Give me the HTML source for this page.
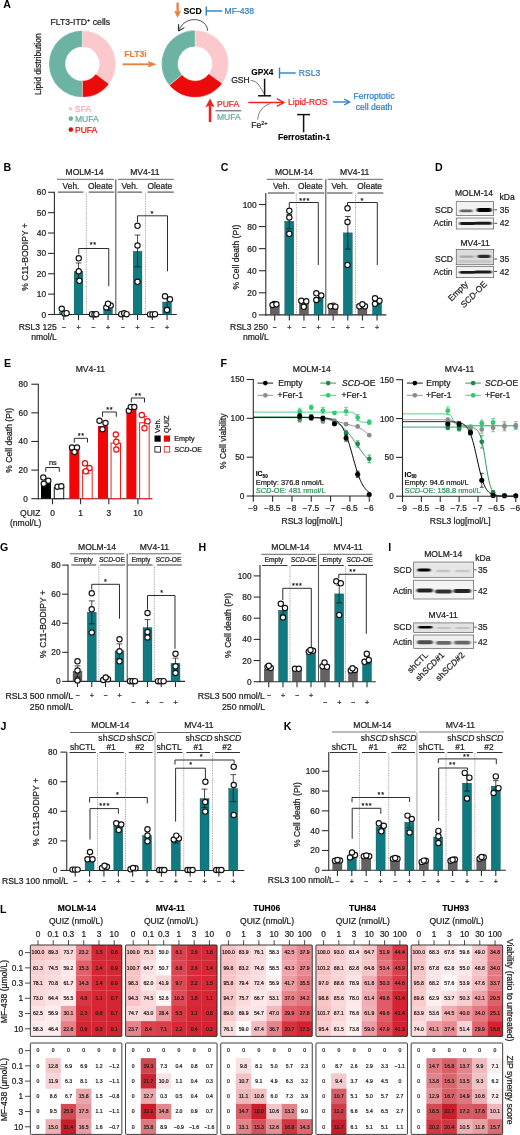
<!DOCTYPE html>
<html lang="en"><head><meta charset="utf-8"><title>Figure</title>
<style>html,body{margin:0;padding:0;background:#fff}body{width:520px;height:1135px;overflow:hidden}svg{display:block}text{white-space:pre}</style></head>
<body>
<svg width="520" height="1135" viewBox="0 0 520 1135" font-family='"Liberation Sans", sans-serif' fill="#1c1c1c">
<defs><filter id="b1" x="-10%" y="-50%" width="120%" height="200%"><feGaussianBlur stdDeviation="0.8 0.55"/></filter><filter id="b2" x="-10%" y="-50%" width="120%" height="200%"><feGaussianBlur stdDeviation="0.9 0.7"/></filter></defs>
<rect width="520" height="1135" fill="#fff"/>
<text transform="translate(3.3 7.7) scale(0.9 1)" font-size="11.8" font-weight="bold" fill="#000">A</text>
<text x="80.3" y="24.6" font-size="8.7" text-anchor="middle" stroke="#1c1c1c" stroke-width="0.22">FLT3-ITD<tspan font-size="5.6" dy="-3">+</tspan><tspan dy="3"> cells</tspan></text>
<text x="40.6" y="64.2" font-size="8.55" text-anchor="middle" transform="rotate(-90 40.6 64.2)" stroke="#1c1c1c" stroke-width="0.22">Lipid distribution</text>
<path d="M82.3 30.5A33.4 33.4 0 0 1 108.97 84L95.8 74.07A16.9 16.9 0 0 0 82.3 47Z" fill="#fbc9cb" stroke="#fff" stroke-width="0.35"/>
<path d="M108.97 84A33.4 33.4 0 0 1 82.3 97.3L82.3 80.8A16.9 16.9 0 0 0 95.8 74.07Z" fill="#ec0b0b" stroke="#fff" stroke-width="0.35"/>
<path d="M82.3 97.3A33.4 33.4 0 0 1 82.3 30.5L82.3 47A16.9 16.9 0 0 0 82.3 80.8Z" fill="#6db3a4" stroke="#fff" stroke-width="0.35"/>
<circle cx="70.5" cy="108.8" r="1.9" fill="#fbc9cb"/>
<circle cx="70.8" cy="118.6" r="2.3" fill="#6db3a4"/>
<circle cx="70.8" cy="129.6" r="2.3" fill="#ec0b0b"/>
<text x="75" y="111.6" font-size="8.55" fill="#f6a9ad" stroke="#f6a9ad" stroke-width="0.22">SFA</text>
<text x="75" y="121.7" font-size="8.55" fill="#5fae9e" stroke="#5fae9e" stroke-width="0.22">MUFA</text>
<text x="75" y="132.5" font-size="8.55" fill="#ec0b0b" stroke="#ec0b0b" stroke-width="0.22">PUFA</text>
<text x="124.2" y="57.4" font-size="8.7" font-weight="bold" fill="#e8823a" stroke="#e8823a" stroke-width="0.13">FLT3i</text>
<line x1="122.5" y1="64.3" x2="149.9" y2="64.3" stroke="#e8823a" stroke-width="1.9"/>
<path d="M156.6 64.3L147.6 67.6L149.4 64.3L147.6 61Z" fill="#e8823a"/>
<path d="M195 30.3A33.5 33.5 0 0 1 222.1 83.49L208.75 73.79A17 17 0 0 0 195 46.8Z" fill="#fbc9cb" stroke="#fff" stroke-width="0.35"/>
<path d="M222.1 83.49A33.5 33.5 0 0 1 169.34 85.33L181.98 74.73A17 17 0 0 0 208.75 73.79Z" fill="#ec0b0b" stroke="#fff" stroke-width="0.35"/>
<path d="M169.34 85.33A33.5 33.5 0 0 1 195 30.3L195 46.8A17 17 0 0 0 181.98 74.73Z" fill="#6db3a4" stroke="#fff" stroke-width="0.35"/>
<line x1="177.6" y1="2.5" x2="177.6" y2="12.5" stroke="#e8823a" stroke-width="2.3"/>
<path d="M177.6 18L174 10.5L177.6 12L181.2 10.5Z" fill="#e8823a"/>
<text x="183.6" y="14.4" font-size="8.6" font-weight="bold" fill="#000" stroke="#000" stroke-width="0.13">SCD</text>
<line x1="222.3" y1="11" x2="206.3" y2="11" stroke="#2f7fc3" stroke-width="1.4"/>
<line x1="206.3" y1="15.5" x2="206.3" y2="6.5" stroke="#2f7fc3" stroke-width="1.4"/>
<text x="224.6" y="14" font-size="8.55" fill="#2f7fc3" stroke="#2f7fc3" stroke-width="0.22">MF-438</text>
<path d="M207.7 30.8C207 17.5 185.5 14.8 179.3 29.6" fill="none" stroke="#222" stroke-width="0.8"/>
<path d="M178.6 24.2L178.7 31.0L184.4 27.6" fill="none" stroke="#111" stroke-width="1"/>
<line x1="210" y1="122" x2="210" y2="105" stroke="#ee2222" stroke-width="2.5"/>
<path d="M210 98.5L214.6 107.25L210 105.5L205.4 107.25Z" fill="#ee2222"/>
<text x="217" y="107.2" font-size="8.55" fill="#ee2222" stroke="#ee2222" stroke-width="0.22">PUFA</text>
<line x1="215.5" y1="110.8" x2="241.3" y2="110.8" stroke="#222" stroke-width="0.8"/>
<text x="217" y="120.1" font-size="8.55" fill="#5fae9e" stroke="#5fae9e" stroke-width="0.22">MUFA</text>
<line x1="248.3" y1="102.5" x2="283.8" y2="102.5" stroke="#ee2222" stroke-width="1.35"/>
<path d="M276.8 106.35L283.8 102.5L276.8 98.65" fill="none" stroke="#ee2222" stroke-width="1.35" stroke-linejoin="miter"/>
<text x="288" y="105.2" font-size="8.55" fill="#ee2222" stroke="#ee2222" stroke-width="0.22">Lipid-ROS</text>
<text x="251.2" y="74.6" font-size="8.3" font-weight="bold" fill="#000" stroke="#000" stroke-width="0.13">GPX4</text>
<line x1="264.6" y1="78.8" x2="264.6" y2="95.8" stroke="#111" stroke-width="1.5"/>
<line x1="271.1" y1="95.8" x2="258.1" y2="95.8" stroke="#111" stroke-width="1.5"/>
<text x="231.2" y="83.4" font-size="8.55" stroke="#1c1c1c" stroke-width="0.22">GSH</text>
<path d="M250.6 80.6C258 80.2 260.5 88.5 264.4 93.8" fill="none" stroke="#333" stroke-width="0.65"/>
<text x="251.2" y="127.6" font-size="8.55" stroke="#1c1c1c" stroke-width="0.22">Fe<tspan font-size="5.6" dy="-3">2+</tspan></text>
<path d="M257.6 119.6C258.5 111 263.5 105.5 270.4 103.6" fill="none" stroke="#333" stroke-width="0.65"/>
<line x1="295.7" y1="73" x2="279.5" y2="73" stroke="#2f7fc3" stroke-width="1.4"/>
<line x1="279.5" y1="78.4" x2="279.5" y2="67.6" stroke="#2f7fc3" stroke-width="1.4"/>
<text x="298.8" y="75.8" font-size="8.55" fill="#2f7fc3" stroke="#2f7fc3" stroke-width="0.22">RSL3</text>
<line x1="303.6" y1="132.3" x2="303.6" y2="114.6" stroke="#111" stroke-width="1.5"/>
<line x1="297.1" y1="114.6" x2="310.1" y2="114.6" stroke="#111" stroke-width="1.5"/>
<text x="278" y="140" font-size="8.55" font-weight="bold" fill="#000" stroke="#000" stroke-width="0.13">Ferrostatin-1</text>
<line x1="333" y1="102" x2="349.6" y2="102" stroke="#2f7fc3" stroke-width="1.35"/>
<path d="M344.2 104.97L349.6 102L344.2 99.03" fill="none" stroke="#2f7fc3" stroke-width="1.35" stroke-linejoin="miter"/>
<text x="374" y="98.8" font-size="8.55" text-anchor="middle" fill="#2f7fc3" stroke="#2f7fc3" stroke-width="0.22">Ferroptotic</text>
<text x="374" y="110" font-size="8.55" text-anchor="middle" fill="#2f7fc3" stroke="#2f7fc3" stroke-width="0.22">cell death</text>
<text transform="translate(3.5 171.2) scale(0.9 1)" font-size="11.8" font-weight="bold" fill="#000">B</text>
<text x="84.6" y="175.1" font-size="8.55" text-anchor="middle" stroke="#1c1c1c" stroke-width="0.22">MOLM-14</text>
<line x1="57" y1="179.3" x2="113.8" y2="179.3" stroke="#333" stroke-width="0.75"/>
<text x="71" y="188.8" font-size="8.4" text-anchor="middle" stroke="#1c1c1c" stroke-width="0.22">Veh.</text>
<line x1="58" y1="192.1" x2="83.3" y2="192.1" stroke="#222" stroke-width="0.9"/>
<text x="100.3" y="188.8" font-size="8.4" text-anchor="middle" stroke="#1c1c1c" stroke-width="0.22">Oleate</text>
<line x1="88.8" y1="192.1" x2="114.3" y2="192.1" stroke="#222" stroke-width="0.9"/>
<text x="144.8" y="175.1" font-size="8.55" text-anchor="middle" stroke="#1c1c1c" stroke-width="0.22">MV4-11</text>
<line x1="118" y1="179.3" x2="173.8" y2="179.3" stroke="#333" stroke-width="0.75"/>
<text x="129.8" y="188.8" font-size="8.4" text-anchor="middle" stroke="#1c1c1c" stroke-width="0.22">Veh.</text>
<line x1="117.4" y1="192.1" x2="142" y2="192.1" stroke="#222" stroke-width="0.9"/>
<text x="159.8" y="188.8" font-size="8.4" text-anchor="middle" stroke="#1c1c1c" stroke-width="0.22">Oleate</text>
<line x1="147.5" y1="192.1" x2="173.8" y2="192.1" stroke="#222" stroke-width="0.9"/>
<line x1="86.3" y1="192.6" x2="86.3" y2="314.2" stroke="#7d7d7d" stroke-width="0.75" stroke-dasharray="0.85 0.85"/>
<line x1="145.5" y1="192.6" x2="145.5" y2="314.2" stroke="#7d7d7d" stroke-width="0.75" stroke-dasharray="0.85 0.85"/>
<line x1="115.8" y1="179.3" x2="115.8" y2="314.5" stroke="#555" stroke-width="1.1"/>
<line x1="54.4" y1="191.8" x2="54.4" y2="315" stroke="#2a2a2a" stroke-width="1.08"/>
<line x1="48.1" y1="314.5" x2="54.4" y2="314.5" stroke="#2a2a2a" stroke-width="1.08"/>
<text x="46.2" y="317.51" font-size="8.4" text-anchor="end" stroke="#1c1c1c" stroke-width="0.22">0</text>
<line x1="48.1" y1="294.13" x2="54.4" y2="294.13" stroke="#2a2a2a" stroke-width="1.08"/>
<text x="46.2" y="297.14" font-size="8.4" text-anchor="end" stroke="#1c1c1c" stroke-width="0.22">10</text>
<line x1="48.1" y1="273.76" x2="54.4" y2="273.76" stroke="#2a2a2a" stroke-width="1.08"/>
<text x="46.2" y="276.77" font-size="8.4" text-anchor="end" stroke="#1c1c1c" stroke-width="0.22">20</text>
<line x1="48.1" y1="253.39" x2="54.4" y2="253.39" stroke="#2a2a2a" stroke-width="1.08"/>
<text x="46.2" y="256.4" font-size="8.4" text-anchor="end" stroke="#1c1c1c" stroke-width="0.22">30</text>
<line x1="48.1" y1="233.02" x2="54.4" y2="233.02" stroke="#2a2a2a" stroke-width="1.08"/>
<text x="46.2" y="236.03" font-size="8.4" text-anchor="end" stroke="#1c1c1c" stroke-width="0.22">40</text>
<line x1="48.1" y1="212.65" x2="54.4" y2="212.65" stroke="#2a2a2a" stroke-width="1.08"/>
<text x="46.2" y="215.66" font-size="8.4" text-anchor="end" stroke="#1c1c1c" stroke-width="0.22">50</text>
<line x1="48.1" y1="192.28" x2="54.4" y2="192.28" stroke="#2a2a2a" stroke-width="1.08"/>
<text x="46.2" y="195.29" font-size="8.4" text-anchor="end" stroke="#1c1c1c" stroke-width="0.22">60</text>
<text x="28.3" y="257" font-size="8.6" text-anchor="middle" transform="rotate(-90 28.3 257)" stroke="#1c1c1c" stroke-width="0.22">% C11-BODIPY +</text>
<line x1="53.9" y1="314.5" x2="176.8" y2="314.5" stroke="#2a2a2a" stroke-width="1.08"/>
<line x1="63.75" y1="314.5" x2="63.75" y2="320.1" stroke="#2a2a2a" stroke-width="1.08"/>
<line x1="78.51" y1="314.5" x2="78.51" y2="320.1" stroke="#2a2a2a" stroke-width="1.08"/>
<line x1="93.27" y1="314.5" x2="93.27" y2="320.1" stroke="#2a2a2a" stroke-width="1.08"/>
<line x1="108.03" y1="314.5" x2="108.03" y2="320.1" stroke="#2a2a2a" stroke-width="1.08"/>
<line x1="122.79" y1="314.5" x2="122.79" y2="320.1" stroke="#2a2a2a" stroke-width="1.08"/>
<line x1="137.55" y1="314.5" x2="137.55" y2="320.1" stroke="#2a2a2a" stroke-width="1.08"/>
<line x1="152.31" y1="314.5" x2="152.31" y2="320.1" stroke="#2a2a2a" stroke-width="1.08"/>
<line x1="167.07" y1="314.5" x2="167.07" y2="320.1" stroke="#2a2a2a" stroke-width="1.08"/>
<rect x="59.35" y="312.46" width="8.8" height="2.04" fill="#0f7b80" stroke="#0a3f42" stroke-width="0.35"/>
<rect x="74.11" y="271.32" width="8.8" height="43.18" fill="#0f7b80" stroke="#0a3f42" stroke-width="0.35"/>
<line x1="78.51" y1="278.85" x2="78.51" y2="262.96" stroke="#111" stroke-width="0.75"/>
<line x1="75.61" y1="262.96" x2="81.41" y2="262.96" stroke="#111" stroke-width="0.75"/>
<line x1="75.61" y1="278.85" x2="81.41" y2="278.85" stroke="#111" stroke-width="0.75"/>
<rect x="88.87" y="314.19" width="8.8" height="0.31" fill="#0f7b80" stroke="#0a3f42" stroke-width="0.35"/>
<rect x="103.63" y="308.59" width="8.8" height="5.91" fill="#0f7b80" stroke="#0a3f42" stroke-width="0.35"/>
<line x1="108.03" y1="310.43" x2="108.03" y2="306.35" stroke="#111" stroke-width="0.75"/>
<line x1="105.13" y1="306.35" x2="110.93" y2="306.35" stroke="#111" stroke-width="0.75"/>
<line x1="105.13" y1="310.43" x2="110.93" y2="310.43" stroke="#111" stroke-width="0.75"/>
<rect x="118.39" y="313.99" width="8.8" height="0.51" fill="#0f7b80" stroke="#0a3f42" stroke-width="0.35"/>
<rect x="133.15" y="251.35" width="8.8" height="63.15" fill="#0f7b80" stroke="#0a3f42" stroke-width="0.35"/>
<line x1="137.55" y1="266.83" x2="137.55" y2="235.06" stroke="#111" stroke-width="0.75"/>
<line x1="134.65" y1="235.06" x2="140.45" y2="235.06" stroke="#111" stroke-width="0.75"/>
<line x1="134.65" y1="266.83" x2="140.45" y2="266.83" stroke="#111" stroke-width="0.75"/>
<rect x="162.67" y="302.07" width="8.8" height="12.43" fill="#0f7b80" stroke="#0a3f42" stroke-width="0.35"/>
<line x1="167.07" y1="307.57" x2="167.07" y2="298" stroke="#111" stroke-width="0.75"/>
<line x1="164.17" y1="298" x2="169.97" y2="298" stroke="#111" stroke-width="0.75"/>
<line x1="164.17" y1="307.57" x2="169.97" y2="307.57" stroke="#111" stroke-width="0.75"/>
<circle cx="61.75" cy="308.75" r="2.65" fill="#fff" stroke="#111" stroke-width="1.12"/>
<circle cx="64.5" cy="313.6" r="2.65" fill="#fff" stroke="#111" stroke-width="1.12"/>
<circle cx="66.6" cy="313.2" r="2.65" fill="#fff" stroke="#111" stroke-width="1.12"/>
<circle cx="78.75" cy="258.3" r="2.65" fill="#fff" stroke="#111" stroke-width="1.12"/>
<circle cx="78.75" cy="271.3" r="2.65" fill="#fff" stroke="#111" stroke-width="1.12"/>
<circle cx="79.4" cy="280.8" r="2.65" fill="#fff" stroke="#111" stroke-width="1.12"/>
<circle cx="92" cy="314.2" r="2.65" fill="#fff" stroke="#111" stroke-width="1.12"/>
<circle cx="94.5" cy="314.4" r="2.65" fill="#fff" stroke="#111" stroke-width="1.12"/>
<circle cx="96.3" cy="314.2" r="2.65" fill="#fff" stroke="#111" stroke-width="1.12"/>
<circle cx="106.3" cy="307.5" r="2.65" fill="#fff" stroke="#111" stroke-width="1.12"/>
<circle cx="110.7" cy="305.5" r="2.65" fill="#fff" stroke="#111" stroke-width="1.12"/>
<circle cx="108" cy="303.8" r="2.65" fill="#fff" stroke="#111" stroke-width="1.12"/>
<circle cx="121.2" cy="314.2" r="2.65" fill="#fff" stroke="#111" stroke-width="1.12"/>
<circle cx="124.2" cy="313.3" r="2.65" fill="#fff" stroke="#111" stroke-width="1.12"/>
<circle cx="126.6" cy="314.2" r="2.65" fill="#fff" stroke="#111" stroke-width="1.12"/>
<circle cx="137.5" cy="225.8" r="2.65" fill="#fff" stroke="#111" stroke-width="1.12"/>
<circle cx="137.5" cy="245.5" r="2.65" fill="#fff" stroke="#111" stroke-width="1.12"/>
<circle cx="137.5" cy="281.8" r="2.65" fill="#fff" stroke="#111" stroke-width="1.12"/>
<circle cx="150" cy="314.4" r="2.65" fill="#fff" stroke="#111" stroke-width="1.12"/>
<circle cx="152.5" cy="314.4" r="2.65" fill="#fff" stroke="#111" stroke-width="1.12"/>
<circle cx="155" cy="314.2" r="2.65" fill="#fff" stroke="#111" stroke-width="1.12"/>
<circle cx="167" cy="310" r="2.65" fill="#fff" stroke="#111" stroke-width="1.12"/>
<circle cx="170" cy="299.3" r="2.65" fill="#fff" stroke="#111" stroke-width="1.12"/>
<circle cx="165" cy="296.3" r="2.65" fill="#fff" stroke="#111" stroke-width="1.12"/>
<path d="M78.75 254.2L78.75 248.5L108.75 248.5L108.75 286.3" fill="none" stroke="#222" stroke-width="0.95"/>
<text x="93.36" y="246.54" font-size="7.3" text-anchor="middle" letter-spacing="0.72" fill="#1a1a1a" stroke="#1a1a1a" stroke-width="0.25">**</text>
<path d="M137.5 222L137.5 215.8L167.5 215.8L167.5 271.3" fill="none" stroke="#222" stroke-width="0.95"/>
<text x="152.36" y="215.94" font-size="7.3" text-anchor="middle" letter-spacing="0.72" fill="#1a1a1a" stroke="#1a1a1a" stroke-width="0.25">*</text>
<text x="18.7" y="330.1" font-size="8.55" stroke="#1c1c1c" stroke-width="0.22">RSL3 125</text>
<text x="31.2" y="339.6" font-size="8.55" stroke="#1c1c1c" stroke-width="0.22">nmol/L</text>
<text x="63.75" y="330.45" font-size="7.2" text-anchor="middle" fill="#222" stroke="#222" stroke-width="0.22">−</text>
<text x="78.51" y="330.45" font-size="7.2" text-anchor="middle" fill="#222" stroke="#222" stroke-width="0.22">+</text>
<text x="93.27" y="330.45" font-size="7.2" text-anchor="middle" fill="#222" stroke="#222" stroke-width="0.22">−</text>
<text x="108.03" y="330.45" font-size="7.2" text-anchor="middle" fill="#222" stroke="#222" stroke-width="0.22">+</text>
<text x="122.79" y="330.45" font-size="7.2" text-anchor="middle" fill="#222" stroke="#222" stroke-width="0.22">−</text>
<text x="137.55" y="330.45" font-size="7.2" text-anchor="middle" fill="#222" stroke="#222" stroke-width="0.22">+</text>
<text x="152.31" y="330.45" font-size="7.2" text-anchor="middle" fill="#222" stroke="#222" stroke-width="0.22">−</text>
<text x="167.07" y="330.45" font-size="7.2" text-anchor="middle" fill="#222" stroke="#222" stroke-width="0.22">+</text>
<text transform="translate(220.7 171.2) scale(0.9 1)" font-size="11.8" font-weight="bold" fill="#000">C</text>
<text x="294" y="175.1" font-size="8.55" text-anchor="middle" stroke="#1c1c1c" stroke-width="0.22">MOLM-14</text>
<line x1="266.8" y1="179.3" x2="322.5" y2="179.3" stroke="#333" stroke-width="0.75"/>
<text x="281.3" y="188.8" font-size="8.4" text-anchor="middle" stroke="#1c1c1c" stroke-width="0.22">Veh.</text>
<line x1="268" y1="193" x2="294.5" y2="193" stroke="#222" stroke-width="0.9"/>
<text x="310.3" y="188.8" font-size="8.4" text-anchor="middle" stroke="#1c1c1c" stroke-width="0.22">Oleate</text>
<line x1="298.8" y1="193" x2="324.3" y2="193" stroke="#222" stroke-width="0.9"/>
<text x="354.7" y="175.1" font-size="8.55" text-anchor="middle" stroke="#1c1c1c" stroke-width="0.22">MV4-11</text>
<line x1="327.5" y1="179.3" x2="383.3" y2="179.3" stroke="#333" stroke-width="0.75"/>
<text x="339.8" y="188.8" font-size="8.4" text-anchor="middle" stroke="#1c1c1c" stroke-width="0.22">Veh.</text>
<line x1="327" y1="193" x2="352.5" y2="193" stroke="#222" stroke-width="0.9"/>
<text x="369.7" y="188.8" font-size="8.4" text-anchor="middle" stroke="#1c1c1c" stroke-width="0.22">Oleate</text>
<line x1="357.5" y1="193" x2="383.3" y2="193" stroke="#222" stroke-width="0.9"/>
<line x1="296.3" y1="193.5" x2="296.3" y2="314.7" stroke="#7d7d7d" stroke-width="0.75" stroke-dasharray="0.85 0.85"/>
<line x1="355.5" y1="193.5" x2="355.5" y2="314.7" stroke="#7d7d7d" stroke-width="0.75" stroke-dasharray="0.85 0.85"/>
<line x1="325.8" y1="179.3" x2="325.8" y2="315" stroke="#555" stroke-width="1.1"/>
<line x1="265.8" y1="192.9" x2="265.8" y2="315.4" stroke="#2a2a2a" stroke-width="1.08"/>
<line x1="258.9" y1="314.9" x2="265.8" y2="314.9" stroke="#2a2a2a" stroke-width="1.08"/>
<text x="256.7" y="317.91" font-size="8.4" text-anchor="end" stroke="#1c1c1c" stroke-width="0.22">0</text>
<line x1="258.9" y1="292.82" x2="265.8" y2="292.82" stroke="#2a2a2a" stroke-width="1.08"/>
<text x="256.7" y="295.83" font-size="8.4" text-anchor="end" stroke="#1c1c1c" stroke-width="0.22">20</text>
<line x1="258.9" y1="270.74" x2="265.8" y2="270.74" stroke="#2a2a2a" stroke-width="1.08"/>
<text x="256.7" y="273.75" font-size="8.4" text-anchor="end" stroke="#1c1c1c" stroke-width="0.22">40</text>
<line x1="258.9" y1="248.66" x2="265.8" y2="248.66" stroke="#2a2a2a" stroke-width="1.08"/>
<text x="256.7" y="251.67" font-size="8.4" text-anchor="end" stroke="#1c1c1c" stroke-width="0.22">60</text>
<line x1="258.9" y1="226.58" x2="265.8" y2="226.58" stroke="#2a2a2a" stroke-width="1.08"/>
<text x="256.7" y="229.59" font-size="8.4" text-anchor="end" stroke="#1c1c1c" stroke-width="0.22">80</text>
<line x1="258.9" y1="204.5" x2="265.8" y2="204.5" stroke="#2a2a2a" stroke-width="1.08"/>
<text x="256.7" y="207.51" font-size="8.4" text-anchor="end" stroke="#1c1c1c" stroke-width="0.22">100</text>
<text x="238.6" y="257" font-size="8.6" text-anchor="middle" transform="rotate(-90 238.6 257)" stroke="#1c1c1c" stroke-width="0.22">% Cell death (PI)</text>
<line x1="265.3" y1="314.9" x2="386.3" y2="314.9" stroke="#2a2a2a" stroke-width="1.08"/>
<line x1="274.7" y1="314.9" x2="274.7" y2="320.5" stroke="#2a2a2a" stroke-width="1.08"/>
<line x1="289.32" y1="314.9" x2="289.32" y2="320.5" stroke="#2a2a2a" stroke-width="1.08"/>
<line x1="303.94" y1="314.9" x2="303.94" y2="320.5" stroke="#2a2a2a" stroke-width="1.08"/>
<line x1="318.56" y1="314.9" x2="318.56" y2="320.5" stroke="#2a2a2a" stroke-width="1.08"/>
<line x1="333.18" y1="314.9" x2="333.18" y2="320.5" stroke="#2a2a2a" stroke-width="1.08"/>
<line x1="347.8" y1="314.9" x2="347.8" y2="320.5" stroke="#2a2a2a" stroke-width="1.08"/>
<line x1="362.42" y1="314.9" x2="362.42" y2="320.5" stroke="#2a2a2a" stroke-width="1.08"/>
<line x1="377.04" y1="314.9" x2="377.04" y2="320.5" stroke="#2a2a2a" stroke-width="1.08"/>
<rect x="270.2" y="305.41" width="9" height="9.49" fill="#626262" stroke="#222" stroke-width="0.35"/>
<rect x="284.82" y="221.28" width="9" height="93.62" fill="#0f7b80" stroke="#0a3f42" stroke-width="0.35"/>
<line x1="289.32" y1="228.79" x2="289.32" y2="214.44" stroke="#111" stroke-width="0.75"/>
<line x1="286.42" y1="214.44" x2="292.22" y2="214.44" stroke="#111" stroke-width="0.75"/>
<line x1="286.42" y1="228.79" x2="292.22" y2="228.79" stroke="#111" stroke-width="0.75"/>
<rect x="299.44" y="303.64" width="9" height="11.26" fill="#626262" stroke="#222" stroke-width="0.35"/>
<rect x="314.06" y="297.46" width="9" height="17.44" fill="#0f7b80" stroke="#0a3f42" stroke-width="0.35"/>
<line x1="318.56" y1="300.55" x2="318.56" y2="294.48" stroke="#111" stroke-width="0.75"/>
<line x1="315.66" y1="294.48" x2="321.46" y2="294.48" stroke="#111" stroke-width="0.75"/>
<line x1="315.66" y1="300.55" x2="321.46" y2="300.55" stroke="#111" stroke-width="0.75"/>
<rect x="328.68" y="306.95" width="9" height="7.95" fill="#626262" stroke="#222" stroke-width="0.35"/>
<rect x="343.3" y="232.87" width="9" height="82.03" fill="#0f7b80" stroke="#0a3f42" stroke-width="0.35"/>
<line x1="347.8" y1="249.1" x2="347.8" y2="216.42" stroke="#111" stroke-width="0.75"/>
<line x1="344.9" y1="216.42" x2="350.7" y2="216.42" stroke="#111" stroke-width="0.75"/>
<line x1="344.9" y1="249.1" x2="350.7" y2="249.1" stroke="#111" stroke-width="0.75"/>
<rect x="357.92" y="306.95" width="9" height="7.95" fill="#626262" stroke="#222" stroke-width="0.35"/>
<rect x="372.54" y="302.42" width="9" height="12.48" fill="#0f7b80" stroke="#0a3f42" stroke-width="0.35"/>
<line x1="377.04" y1="304.41" x2="377.04" y2="300.55" stroke="#111" stroke-width="0.75"/>
<line x1="374.14" y1="300.55" x2="379.94" y2="300.55" stroke="#111" stroke-width="0.75"/>
<line x1="374.14" y1="304.41" x2="379.94" y2="304.41" stroke="#111" stroke-width="0.75"/>
<circle cx="274.4" cy="304" r="2.65" fill="#fff" stroke="#111" stroke-width="1.12"/>
<circle cx="272.5" cy="305" r="2.65" fill="#fff" stroke="#111" stroke-width="1.12"/>
<circle cx="276.4" cy="304.3" r="2.65" fill="#fff" stroke="#111" stroke-width="1.12"/>
<circle cx="289.3" cy="210.8" r="2.65" fill="#fff" stroke="#111" stroke-width="1.12"/>
<circle cx="289.3" cy="217.5" r="2.65" fill="#fff" stroke="#111" stroke-width="1.12"/>
<circle cx="289.3" cy="233.8" r="2.65" fill="#fff" stroke="#111" stroke-width="1.12"/>
<circle cx="303.8" cy="306.8" r="2.65" fill="#fff" stroke="#111" stroke-width="1.12"/>
<circle cx="301.3" cy="300.8" r="2.65" fill="#fff" stroke="#111" stroke-width="1.12"/>
<circle cx="306.3" cy="301.3" r="2.65" fill="#fff" stroke="#111" stroke-width="1.12"/>
<circle cx="316.3" cy="300" r="2.65" fill="#fff" stroke="#111" stroke-width="1.12"/>
<circle cx="316.3" cy="293.3" r="2.65" fill="#fff" stroke="#111" stroke-width="1.12"/>
<circle cx="321.3" cy="295.5" r="2.65" fill="#fff" stroke="#111" stroke-width="1.12"/>
<circle cx="333" cy="305.6" r="2.65" fill="#fff" stroke="#111" stroke-width="1.12"/>
<circle cx="330.6" cy="306.3" r="2.65" fill="#fff" stroke="#111" stroke-width="1.12"/>
<circle cx="335.4" cy="306.7" r="2.65" fill="#fff" stroke="#111" stroke-width="1.12"/>
<circle cx="347.5" cy="208.3" r="2.65" fill="#fff" stroke="#111" stroke-width="1.12"/>
<circle cx="347.5" cy="222" r="2.65" fill="#fff" stroke="#111" stroke-width="1.12"/>
<circle cx="347.5" cy="265" r="2.65" fill="#fff" stroke="#111" stroke-width="1.12"/>
<circle cx="359.3" cy="306.3" r="2.65" fill="#fff" stroke="#111" stroke-width="1.12"/>
<circle cx="365" cy="306.3" r="2.65" fill="#fff" stroke="#111" stroke-width="1.12"/>
<circle cx="362.4" cy="304.3" r="2.65" fill="#fff" stroke="#111" stroke-width="1.12"/>
<circle cx="375" cy="303.8" r="2.65" fill="#fff" stroke="#111" stroke-width="1.12"/>
<circle cx="379.5" cy="300.8" r="2.65" fill="#fff" stroke="#111" stroke-width="1.12"/>
<circle cx="375" cy="298.3" r="2.65" fill="#fff" stroke="#111" stroke-width="1.12"/>
<path d="M289.3 207.6L289.3 202.5L318.3 202.5L318.3 265" fill="none" stroke="#222" stroke-width="0.95"/>
<text x="304.66" y="203.34" font-size="7.3" text-anchor="middle" letter-spacing="0.72" fill="#1a1a1a" stroke="#1a1a1a" stroke-width="0.25">***</text>
<path d="M347.5 205L347.5 202.5L377.3 202.5L377.3 265" fill="none" stroke="#222" stroke-width="0.95"/>
<text x="362.36" y="202.74" font-size="7.3" text-anchor="middle" letter-spacing="0.72" fill="#1a1a1a" stroke="#1a1a1a" stroke-width="0.25">*</text>
<text x="230" y="330.1" font-size="8.55" stroke="#1c1c1c" stroke-width="0.22">RSL3 250</text>
<text x="243" y="339.6" font-size="8.55" stroke="#1c1c1c" stroke-width="0.22">nmol/L</text>
<text x="274.7" y="330.45" font-size="7.2" text-anchor="middle" fill="#222" stroke="#222" stroke-width="0.22">−</text>
<text x="289.32" y="330.45" font-size="7.2" text-anchor="middle" fill="#222" stroke="#222" stroke-width="0.22">+</text>
<text x="303.94" y="330.45" font-size="7.2" text-anchor="middle" fill="#222" stroke="#222" stroke-width="0.22">−</text>
<text x="318.56" y="330.45" font-size="7.2" text-anchor="middle" fill="#222" stroke="#222" stroke-width="0.22">+</text>
<text x="333.18" y="330.45" font-size="7.2" text-anchor="middle" fill="#222" stroke="#222" stroke-width="0.22">−</text>
<text x="347.8" y="330.45" font-size="7.2" text-anchor="middle" fill="#222" stroke="#222" stroke-width="0.22">+</text>
<text x="362.42" y="330.45" font-size="7.2" text-anchor="middle" fill="#222" stroke="#222" stroke-width="0.22">−</text>
<text x="377.04" y="330.45" font-size="7.2" text-anchor="middle" fill="#222" stroke="#222" stroke-width="0.22">+</text>
<text transform="translate(435 171.2) scale(0.9 1)" font-size="11.8" font-weight="bold" fill="#000">D</text>
<text x="474" y="195.5" font-size="8.55" text-anchor="middle" stroke="#1c1c1c" stroke-width="0.22">MOLM-14</text>
<text x="499.6" y="200.3" font-size="8.55" stroke="#1c1c1c" stroke-width="0.22">kDa</text>
<clipPath id="c249"><rect x="456.2" y="201.7" width="37.5" height="13.9"/></clipPath>
<rect x="456.2" y="201.7" width="37.5" height="13.9" fill="#f1f1f1"/>
<g clip-path="url(#c249)" filter="url(#b1)">
<rect x="459.8" y="209.6" width="12.8" height="2.6" rx="1.3" fill="#333" opacity="0.75"/>
<rect x="476.6" y="207.9" width="15.2" height="4" rx="2" fill="#000" opacity="1"/>
</g>
<rect x="456.2" y="201.7" width="37.5" height="13.9" fill="none" stroke="#444" stroke-width="0.6"/>
<clipPath id="c256"><rect x="456.2" y="218" width="37.5" height="11"/></clipPath>
<rect x="456.2" y="218" width="37.5" height="11" fill="#f3f3f3"/>
<g clip-path="url(#c256)" filter="url(#b1)">
<rect x="459.4" y="222.1" width="16.1" height="2.8" rx="1.4" fill="#111" opacity="0.95"/>
<rect x="474.5" y="221.7" width="17.3" height="3" rx="1.5" fill="#111" opacity="0.95"/>
</g>
<rect x="456.2" y="218" width="37.5" height="11" fill="none" stroke="#444" stroke-width="0.6"/>
<text x="435" y="212.8" font-size="8.55" stroke="#1c1c1c" stroke-width="0.22">SCD</text>
<text x="433.6" y="226.3" font-size="8.55" stroke="#1c1c1c" stroke-width="0.22">Actin</text>
<line x1="494.2" y1="209.8" x2="497.2" y2="209.8" stroke="#222" stroke-width="0.8"/>
<line x1="494.2" y1="223.3" x2="497.2" y2="223.3" stroke="#222" stroke-width="0.8"/>
<text x="499.7" y="212.8" font-size="8.55" stroke="#1c1c1c" stroke-width="0.22">35</text>
<text x="499.7" y="226.3" font-size="8.55" stroke="#1c1c1c" stroke-width="0.22">42</text>
<text x="475.1" y="245.6" font-size="8.55" text-anchor="middle" stroke="#1c1c1c" stroke-width="0.22">MV4-11</text>
<clipPath id="c270"><rect x="456.2" y="249.4" width="37.5" height="15.4"/></clipPath>
<rect x="456.2" y="249.4" width="37.5" height="15.4" fill="#dcdcdc"/>
<g clip-path="url(#c270)" filter="url(#b1)">
<rect x="459.5" y="255.5" width="14.5" height="2.2" rx="1.1" fill="#666" opacity="0.45"/>
<rect x="477.6" y="254.7" width="12.8" height="3.2" rx="1.6" fill="#222" opacity="0.95"/>
<rect x="458" y="260" width="34" height="3" rx="1.5" fill="#999" opacity="0.3"/>
</g>
<rect x="456.2" y="249.4" width="37.5" height="15.4" fill="none" stroke="#444" stroke-width="0.6"/>
<clipPath id="c278"><rect x="456.2" y="266.7" width="37.5" height="11"/></clipPath>
<rect x="456.2" y="266.7" width="37.5" height="11" fill="#f1f1f1"/>
<g clip-path="url(#c278)" filter="url(#b1)">
<rect x="459.4" y="270.9" width="16.1" height="2.8" rx="1.4" fill="#111" opacity="0.95"/>
<rect x="474.5" y="270.6" width="17.3" height="3" rx="1.5" fill="#111" opacity="0.95"/>
</g>
<rect x="456.2" y="266.7" width="37.5" height="11" fill="none" stroke="#444" stroke-width="0.6"/>
<text x="435" y="262" font-size="8.55" stroke="#1c1c1c" stroke-width="0.22">SCD</text>
<text x="433.6" y="274.5" font-size="8.55" stroke="#1c1c1c" stroke-width="0.22">Actin</text>
<line x1="494.2" y1="259" x2="497.2" y2="259" stroke="#222" stroke-width="0.8"/>
<line x1="494.2" y1="271.5" x2="497.2" y2="271.5" stroke="#222" stroke-width="0.8"/>
<text x="499.7" y="262" font-size="8.55" stroke="#1c1c1c" stroke-width="0.22">35</text>
<text x="499.7" y="274.5" font-size="8.55" stroke="#1c1c1c" stroke-width="0.22">42</text>
<text x="468.6" y="284.6" font-size="8.55" text-anchor="end" transform="rotate(-45 468.6 284.6)" stroke="#1c1c1c" stroke-width="0.22">Empty</text>
<text x="487.6" y="284.8" font-size="8.55" text-anchor="end" transform="rotate(-45 487.6 284.8)" stroke="#1c1c1c" stroke-width="0.22"><tspan font-style="italic">SCD</tspan>-OE</text>
<text transform="translate(4 366.5) scale(0.9 1)" font-size="11.8" font-weight="bold" fill="#000">E</text>
<text x="90.4" y="371.9" font-size="8.55" text-anchor="middle" stroke="#1c1c1c" stroke-width="0.22">MV4-11</text>
<line x1="38.3" y1="383.7" x2="38.3" y2="499.2" stroke="#2a2a2a" stroke-width="1.08"/>
<line x1="31.3" y1="498.7" x2="38.3" y2="498.7" stroke="#2a2a2a" stroke-width="1.08"/>
<text x="27.7" y="501.64" font-size="8.2" text-anchor="end" stroke="#1c1c1c" stroke-width="0.22">0</text>
<line x1="31.3" y1="470.08" x2="38.3" y2="470.08" stroke="#2a2a2a" stroke-width="1.08"/>
<text x="27.7" y="473.02" font-size="8.2" text-anchor="end" stroke="#1c1c1c" stroke-width="0.22">20</text>
<line x1="31.3" y1="441.46" x2="38.3" y2="441.46" stroke="#2a2a2a" stroke-width="1.08"/>
<text x="27.7" y="444.4" font-size="8.2" text-anchor="end" stroke="#1c1c1c" stroke-width="0.22">40</text>
<line x1="31.3" y1="412.84" x2="38.3" y2="412.84" stroke="#2a2a2a" stroke-width="1.08"/>
<text x="27.7" y="415.78" font-size="8.2" text-anchor="end" stroke="#1c1c1c" stroke-width="0.22">60</text>
<line x1="31.3" y1="384.22" x2="38.3" y2="384.22" stroke="#2a2a2a" stroke-width="1.08"/>
<text x="27.7" y="387.16" font-size="8.2" text-anchor="end" stroke="#1c1c1c" stroke-width="0.22">80</text>
<text x="12.4" y="440.3" font-size="8.6" text-anchor="middle" transform="rotate(-90 12.4 440.3)" stroke="#1c1c1c" stroke-width="0.22">% Cell death (PI)</text>
<line x1="37.8" y1="498.7" x2="152.5" y2="498.7" stroke="#2a2a2a" stroke-width="1.08"/>
<line x1="52.5" y1="498.7" x2="52.5" y2="504.3" stroke="#2a2a2a" stroke-width="1.08"/>
<line x1="80.6" y1="498.7" x2="80.6" y2="504.3" stroke="#2a2a2a" stroke-width="1.08"/>
<line x1="108.8" y1="498.7" x2="108.8" y2="504.3" stroke="#2a2a2a" stroke-width="1.08"/>
<line x1="137.9" y1="498.7" x2="137.9" y2="504.3" stroke="#2a2a2a" stroke-width="1.08"/>
<rect x="41" y="482.53" width="10" height="16.17" fill="#000"/>
<rect x="54.25" y="487.42" width="9.5" height="11.28" fill="#fff" stroke="#000" stroke-width="0.9"/>
<rect x="69.3" y="448.9" width="10" height="49.8" fill="#f00606"/>
<rect x="82.65" y="470.1" width="9.5" height="28.6" fill="#fff" stroke="#f00606" stroke-width="0.9"/>
<rect x="98" y="426.01" width="10" height="72.69" fill="#f00606"/>
<rect x="111.05" y="443.05" width="9.5" height="55.65" fill="#fff" stroke="#f00606" stroke-width="0.9"/>
<rect x="126.4" y="409.12" width="10" height="89.58" fill="#f00606"/>
<rect x="139.65" y="422.73" width="9.5" height="75.97" fill="#fff" stroke="#f00606" stroke-width="0.9"/>
<line x1="87.4" y1="473.66" x2="87.4" y2="465.79" stroke="#f00606" stroke-width="0.8"/>
<line x1="84.8" y1="465.79" x2="90" y2="465.79" stroke="#f00606" stroke-width="0.8"/>
<line x1="84.8" y1="473.66" x2="90" y2="473.66" stroke="#f00606" stroke-width="0.8"/>
<line x1="115.8" y1="449.33" x2="115.8" y2="435.74" stroke="#f00606" stroke-width="0.8"/>
<line x1="113.2" y1="435.74" x2="118.4" y2="435.74" stroke="#f00606" stroke-width="0.8"/>
<line x1="113.2" y1="449.33" x2="118.4" y2="449.33" stroke="#f00606" stroke-width="0.8"/>
<line x1="144.4" y1="427.87" x2="144.4" y2="416.42" stroke="#f00606" stroke-width="0.8"/>
<line x1="141.8" y1="416.42" x2="147" y2="416.42" stroke="#f00606" stroke-width="0.8"/>
<line x1="141.8" y1="427.87" x2="147" y2="427.87" stroke="#f00606" stroke-width="0.8"/>
<line x1="59" y1="488.11" x2="59" y2="485.82" stroke="#000" stroke-width="0.8"/>
<line x1="56.4" y1="485.82" x2="61.6" y2="485.82" stroke="#000" stroke-width="0.8"/>
<line x1="56.4" y1="488.11" x2="61.6" y2="488.11" stroke="#000" stroke-width="0.8"/>
<circle cx="43.3" cy="477.5" r="2.65" fill="#fff" stroke="#101818" stroke-width="1.15"/>
<circle cx="48.3" cy="480.8" r="2.65" fill="#fff" stroke="#101818" stroke-width="1.15"/>
<circle cx="43.8" cy="483.8" r="2.65" fill="#fff" stroke="#101818" stroke-width="1.15"/>
<circle cx="57.5" cy="486.8" r="2.65" fill="#fff" stroke="#101818" stroke-width="1.15"/>
<circle cx="61.3" cy="486.3" r="2.65" fill="#fff" stroke="#101818" stroke-width="1.15"/>
<circle cx="72" cy="447.5" r="2.65" fill="#fff" stroke="#101818" stroke-width="1.15"/>
<circle cx="77" cy="447.5" r="2.65" fill="#fff" stroke="#101818" stroke-width="1.15"/>
<circle cx="74.5" cy="452" r="2.65" fill="#fff" stroke="#101818" stroke-width="1.15"/>
<circle cx="85" cy="463.3" r="2.65" fill="#fff" stroke="#f00606" stroke-width="1.1"/>
<circle cx="89.5" cy="468" r="2.65" fill="#fff" stroke="#f00606" stroke-width="1.1"/>
<circle cx="85.8" cy="471.3" r="2.65" fill="#fff" stroke="#f00606" stroke-width="1.1"/>
<circle cx="99.5" cy="420.8" r="2.65" fill="#fff" stroke="#101818" stroke-width="1.15"/>
<circle cx="105.5" cy="423" r="2.65" fill="#fff" stroke="#101818" stroke-width="1.15"/>
<circle cx="102.5" cy="429.3" r="2.65" fill="#fff" stroke="#101818" stroke-width="1.15"/>
<circle cx="115.8" cy="434.5" r="2.65" fill="#fff" stroke="#f00606" stroke-width="1.1"/>
<circle cx="116.3" cy="441.8" r="2.65" fill="#fff" stroke="#f00606" stroke-width="1.1"/>
<circle cx="116.3" cy="449.5" r="2.65" fill="#fff" stroke="#f00606" stroke-width="1.1"/>
<circle cx="128.8" cy="410.8" r="2.65" fill="#fff" stroke="#101818" stroke-width="1.15"/>
<circle cx="130.8" cy="407" r="2.65" fill="#fff" stroke="#101818" stroke-width="1.15"/>
<circle cx="134.3" cy="407" r="2.65" fill="#fff" stroke="#101818" stroke-width="1.15"/>
<circle cx="141.8" cy="415" r="2.65" fill="#fff" stroke="#f00606" stroke-width="1.1"/>
<circle cx="147.5" cy="421.3" r="2.65" fill="#fff" stroke="#f00606" stroke-width="1.1"/>
<circle cx="144.5" cy="428.3" r="2.65" fill="#fff" stroke="#f00606" stroke-width="1.1"/>
<path d="M45.8 471.8L45.8 467.5L59.3 467.5L59.3 471.8" fill="none" stroke="#222" stroke-width="0.95"/>
<text x="52.8" y="465" font-size="7.4" text-anchor="middle" stroke="#1c1c1c" stroke-width="0.22">ns</text>
<path d="M74.3 442.6L74.3 438.3L87.5 438.3L87.5 442.6" fill="none" stroke="#222" stroke-width="0.95"/>
<text x="81.36" y="438.34" font-size="7.3" text-anchor="middle" letter-spacing="0.72" fill="#1a1a1a" stroke="#1a1a1a" stroke-width="0.25">**</text>
<path d="M102.5 416.8L102.5 412L116.3 412L116.3 416.8" fill="none" stroke="#222" stroke-width="0.95"/>
<text x="109.76" y="412.14" font-size="7.3" text-anchor="middle" letter-spacing="0.72" fill="#1a1a1a" stroke="#1a1a1a" stroke-width="0.25">**</text>
<path d="M131.3 402.5L131.3 398L144.5 398L144.5 402.5" fill="none" stroke="#222" stroke-width="0.95"/>
<text x="138.36" y="398.34" font-size="7.3" text-anchor="middle" letter-spacing="0.72" fill="#1a1a1a" stroke="#1a1a1a" stroke-width="0.25">**</text>
<text x="20" y="515.9" font-size="8.55" stroke="#1c1c1c" stroke-width="0.22">QUIZ</text>
<text x="10" y="526.4" font-size="8.55" stroke="#1c1c1c" stroke-width="0.22">(nmol/L)</text>
<text x="52.5" y="515.9" font-size="8.4" text-anchor="middle" stroke="#1c1c1c" stroke-width="0.22">0</text>
<text x="80.6" y="515.9" font-size="8.4" text-anchor="middle" stroke="#1c1c1c" stroke-width="0.22">1</text>
<text x="108.8" y="515.9" font-size="8.4" text-anchor="middle" stroke="#1c1c1c" stroke-width="0.22">3</text>
<text x="137.9" y="515.9" font-size="8.4" text-anchor="middle" stroke="#1c1c1c" stroke-width="0.22">10</text>
<text x="160" y="433" font-size="7.3" transform="rotate(-90 160 433)" stroke="#1c1c1c" stroke-width="0.22">Veh.</text>
<text x="169.4" y="433" font-size="7.3" transform="rotate(-90 169.4 433)" stroke="#1c1c1c" stroke-width="0.22">QUIZ</text>
<rect x="154.5" y="435.5" width="6.2" height="6.2" fill="#000"/>
<rect x="163.8" y="435.5" width="6.2" height="6.2" fill="#f00606"/>
<rect x="154.9" y="446.6" width="5.5" height="5.5" fill="#fff" stroke="#000" stroke-width="0.8"/>
<rect x="164.2" y="446.6" width="5.5" height="5.5" fill="#fff" stroke="#f00606" stroke-width="0.8"/>
<text x="174.2" y="440.9" font-size="7.2" stroke="#1c1c1c" stroke-width="0.22">Empty</text>
<text x="174.2" y="452.1" font-size="7.2" stroke="#1c1c1c" stroke-width="0.22"><tspan font-style="italic">SCD</tspan>-OE</text>
<text transform="translate(220.6 366.5) scale(0.9 1)" font-size="11.8" font-weight="bold" fill="#000">F</text>
<text x="311.8" y="371.9" font-size="8.55" text-anchor="middle" stroke="#1c1c1c" stroke-width="0.22">MOLM-14</text>
<path d="M253.3 412.12L254.02 412.12L254.75 412.12L255.47 412.12L256.2 412.12L256.92 412.12L257.65 412.12L258.37 412.12L259.1 412.12L259.82 412.12L260.55 412.12L261.27 412.12L262 412.12L262.72 412.12L263.45 412.12L264.17 412.12L264.9 412.12L265.62 412.12L266.34 412.12L267.07 412.12L267.79 412.12L268.52 412.12L269.24 412.12L269.97 412.12L270.69 412.12L271.42 412.12L272.14 412.12L272.87 412.12L273.59 412.12L274.32 412.12L275.04 412.12L275.77 412.12L276.49 412.12L277.21 412.12L277.94 412.12L278.66 412.12L279.39 412.12L280.11 412.12L280.84 412.12L281.56 412.12L282.29 412.12L283.01 412.12L283.74 412.12L284.46 412.12L285.19 412.12L285.91 412.12L286.64 412.12L287.36 412.12L288.09 412.12L288.81 412.12L289.53 412.12L290.26 412.12L290.98 412.12L291.71 412.12L292.43 412.12L293.16 412.12L293.88 412.12L294.61 412.12L295.33 412.12L296.06 412.12L296.78 412.12L297.51 412.12L298.23 412.12L298.96 412.12L299.68 412.12L300.4 412.12L301.13 412.12L301.85 412.12L302.58 412.12L303.3 412.12L304.03 412.12L304.75 412.12L305.48 412.12L306.2 412.12L306.93 412.12L307.65 412.12L308.38 412.12L309.1 412.12L309.83 412.12L310.55 412.12L311.27 412.12L312 412.12L312.72 412.12L313.45 412.12L314.17 412.12L314.9 412.12L315.62 412.12L316.35 412.12L317.07 412.12L317.8 412.12L318.52 412.12L319.25 412.12L319.97 412.12L320.7 412.12L321.42 412.12L322.15 412.12L322.87 412.12L323.59 412.12L324.32 412.12L325.04 412.12L325.77 412.12L326.49 412.12L327.22 412.12L327.94 412.12L328.67 412.12L329.39 412.12L330.12 412.12L330.84 412.12L331.57 412.12L332.29 412.12L333.02 412.12L333.74 412.12L334.46 412.12L335.19 412.12L335.91 412.12L336.64 412.12L337.36 412.12L338.09 412.12L338.81 412.12L339.54 412.12L340.26 412.12L340.99 412.12L341.71 412.12L342.44 412.12L343.16 412.12L343.89 412.12L344.61 412.12L345.34 412.12L346.06 412.12L346.78 412.12L347.51 412.12L348.23 412.12L348.96 412.13L349.68 412.14L350.41 412.16L351.13 412.2L351.86 412.27L352.58 412.39L353.31 412.6L354.03 412.97L354.76 413.58L355.48 414.51L356.21 415.78L356.93 417.27L357.66 418.74L358.38 419.96L359.1 420.85L359.83 421.42L360.55 421.76L361.28 421.96L362 422.07L362.73 422.14L363.45 422.17L364.18 422.19L364.9 422.2L365.63 422.21L366.35 422.21L367.08 422.21L367.8 422.21L368.53 422.21L369.25 422.21" fill="none" stroke="#2fcb6e" stroke-width="0.9" stroke-linejoin="round"/>
<path d="M253.3 417.55C259.74 417.55 281.64 417.5 291.95 417.55C302.26 417.61 309.34 417.64 315.14 417.86C320.94 418.08 323.51 418.41 326.74 418.87C329.96 419.34 331.24 419.82 334.46 420.66C337.69 421.5 342.19 422.83 346.06 423.92C349.93 425.01 354.76 426.11 357.66 427.18C360.55 428.26 361.52 429.04 363.45 430.37C365.38 431.7 368.28 434.38 369.25 435.18" fill="none" stroke="#8c8c8c" stroke-width="0.9"/>
<path d="M253.3 416.78L254.02 416.78L254.75 416.78L255.47 416.78L256.2 416.78L256.92 416.78L257.65 416.78L258.37 416.78L259.1 416.78L259.82 416.78L260.55 416.78L261.27 416.78L262 416.78L262.72 416.78L263.45 416.78L264.17 416.78L264.9 416.78L265.62 416.78L266.34 416.78L267.07 416.78L267.79 416.78L268.52 416.78L269.24 416.78L269.97 416.78L270.69 416.78L271.42 416.78L272.14 416.78L272.87 416.79L273.59 416.79L274.32 416.79L275.04 416.79L275.77 416.79L276.49 416.79L277.21 416.79L277.94 416.79L278.66 416.79L279.39 416.79L280.11 416.8L280.84 416.8L281.56 416.8L282.29 416.8L283.01 416.8L283.74 416.8L284.46 416.81L285.19 416.81L285.91 416.81L286.64 416.81L287.36 416.82L288.09 416.82L288.81 416.82L289.53 416.83L290.26 416.83L290.98 416.83L291.71 416.84L292.43 416.84L293.16 416.85L293.88 416.85L294.61 416.86L295.33 416.87L296.06 416.87L296.78 416.88L297.51 416.89L298.23 416.9L298.96 416.91L299.68 416.92L300.4 416.93L301.13 416.94L301.85 416.95L302.58 416.97L303.3 416.98L304.03 417L304.75 417.02L305.48 417.04L306.2 417.06L306.93 417.08L307.65 417.1L308.38 417.13L309.1 417.15L309.83 417.18L310.55 417.22L311.27 417.25L312 417.29L312.72 417.33L313.45 417.37L314.17 417.42L314.9 417.46L315.62 417.52L316.35 417.58L317.07 417.64L317.8 417.7L318.52 417.78L319.25 417.85L319.97 417.93L320.7 418.02L321.42 418.12L322.15 418.22L322.87 418.33L323.59 418.45L324.32 418.58L325.04 418.71L325.77 418.86L326.49 419.02L327.22 419.19L327.94 419.37L328.67 419.56L329.39 419.77L330.12 419.99L330.84 420.22L331.57 420.48L332.29 420.75L333.02 421.03L333.74 421.34L334.46 421.67L335.19 422.01L335.91 422.38L336.64 422.78L337.36 423.19L338.09 423.64L338.81 424.1L339.54 424.6L340.26 425.12L340.99 425.67L341.71 426.25L342.44 426.86L343.16 427.5L343.89 428.17L344.61 428.87L345.34 429.6L346.06 430.37L346.78 431.16L347.51 431.98L348.23 432.83L348.96 433.71L349.68 434.61L350.41 435.54L351.13 436.5L351.86 437.47L352.58 438.47L353.31 439.48L354.03 440.5L354.76 441.54L355.48 442.59L356.21 443.64L356.93 444.7L357.66 445.75L358.38 446.8L359.1 447.85L359.83 448.89L360.55 449.92L361.28 450.93L362 451.92L362.73 452.9L363.45 453.86L364.18 454.79L364.9 455.7L365.63 456.58L366.35 457.43L367.08 458.25L367.8 459.05L368.53 459.81L369.25 460.55" fill="none" stroke="#1a8a4c" stroke-width="0.9" stroke-linejoin="round"/>
<path d="M253.3 417.55L254.02 417.55L254.75 417.55L255.47 417.55L256.2 417.55L256.92 417.55L257.65 417.55L258.37 417.55L259.1 417.55L259.82 417.55L260.55 417.55L261.27 417.55L262 417.55L262.72 417.55L263.45 417.55L264.17 417.55L264.9 417.55L265.62 417.55L266.34 417.55L267.07 417.55L267.79 417.55L268.52 417.55L269.24 417.55L269.97 417.55L270.69 417.55L271.42 417.55L272.14 417.55L272.87 417.55L273.59 417.55L274.32 417.55L275.04 417.55L275.77 417.55L276.49 417.55L277.21 417.55L277.94 417.55L278.66 417.55L279.39 417.55L280.11 417.55L280.84 417.55L281.56 417.55L282.29 417.55L283.01 417.55L283.74 417.55L284.46 417.55L285.19 417.55L285.91 417.55L286.64 417.55L287.36 417.55L288.09 417.55L288.81 417.55L289.53 417.55L290.26 417.55L290.98 417.55L291.71 417.55L292.43 417.55L293.16 417.55L293.88 417.55L294.61 417.55L295.33 417.56L296.06 417.56L296.78 417.56L297.51 417.56L298.23 417.56L298.96 417.56L299.68 417.56L300.4 417.56L301.13 417.56L301.85 417.56L302.58 417.56L303.3 417.56L304.03 417.56L304.75 417.56L305.48 417.57L306.2 417.57L306.93 417.57L307.65 417.57L308.38 417.57L309.1 417.58L309.83 417.58L310.55 417.58L311.27 417.59L312 417.59L312.72 417.6L313.45 417.61L314.17 417.62L314.9 417.62L315.62 417.63L316.35 417.65L317.07 417.66L317.8 417.67L318.52 417.69L319.25 417.71L319.97 417.73L320.7 417.76L321.42 417.79L322.15 417.82L322.87 417.86L323.59 417.9L324.32 417.95L325.04 418.01L325.77 418.08L326.49 418.15L327.22 418.24L327.94 418.33L328.67 418.44L329.39 418.57L330.12 418.71L330.84 418.87L331.57 419.06L332.29 419.27L333.02 419.51L333.74 419.78L334.46 420.09L335.19 420.44L335.91 420.84L336.64 421.29L337.36 421.79L338.09 422.36L338.81 423L339.54 423.72L340.26 424.53L340.99 425.43L341.71 426.43L342.44 427.54L343.16 428.76L343.89 430.11L344.61 431.59L345.34 433.19L346.06 434.94L346.78 436.82L347.51 438.83L348.23 440.96L348.96 443.22L349.68 445.58L350.41 448.04L351.13 450.56L351.86 453.15L352.58 455.76L353.31 458.39L354.03 460.99L354.76 463.57L355.48 466.08L356.21 468.52L356.93 470.85L357.66 473.08L358.38 475.19L359.1 477.17L359.83 479.02L360.55 480.74L361.28 482.31L362 483.76L362.73 485.08L363.45 486.28L364.18 487.36L364.9 488.34L365.63 489.22L366.35 490L367.08 490.7L367.8 491.33L368.53 491.88L369.25 492.37" fill="none" stroke="#000" stroke-width="1" stroke-linejoin="round"/>
<line x1="299.68" y1="414.45" x2="299.68" y2="408.23" stroke="#2fcb6e" stroke-width="0.7"/>
<line x1="297.78" y1="408.23" x2="301.58" y2="408.23" stroke="#2fcb6e" stroke-width="0.7"/>
<line x1="297.78" y1="414.45" x2="301.58" y2="414.45" stroke="#2fcb6e" stroke-width="0.7"/>
<line x1="311.27" y1="409.79" x2="311.27" y2="405.13" stroke="#2fcb6e" stroke-width="0.7"/>
<line x1="309.38" y1="405.13" x2="313.17" y2="405.13" stroke="#2fcb6e" stroke-width="0.7"/>
<line x1="309.38" y1="409.79" x2="313.17" y2="409.79" stroke="#2fcb6e" stroke-width="0.7"/>
<line x1="322.87" y1="413.67" x2="322.87" y2="407.46" stroke="#2fcb6e" stroke-width="0.7"/>
<line x1="320.97" y1="407.46" x2="324.77" y2="407.46" stroke="#2fcb6e" stroke-width="0.7"/>
<line x1="320.97" y1="413.67" x2="324.77" y2="413.67" stroke="#2fcb6e" stroke-width="0.7"/>
<line x1="346.06" y1="415.22" x2="346.06" y2="407.46" stroke="#2fcb6e" stroke-width="0.7"/>
<line x1="344.16" y1="407.46" x2="347.96" y2="407.46" stroke="#2fcb6e" stroke-width="0.7"/>
<line x1="344.16" y1="415.22" x2="347.96" y2="415.22" stroke="#2fcb6e" stroke-width="0.7"/>
<line x1="357.66" y1="420.66" x2="357.66" y2="414.45" stroke="#2fcb6e" stroke-width="0.7"/>
<line x1="355.76" y1="414.45" x2="359.56" y2="414.45" stroke="#2fcb6e" stroke-width="0.7"/>
<line x1="355.76" y1="420.66" x2="359.56" y2="420.66" stroke="#2fcb6e" stroke-width="0.7"/>
<line x1="369.25" y1="424.54" x2="369.25" y2="419.88" stroke="#2fcb6e" stroke-width="0.7"/>
<line x1="367.35" y1="419.88" x2="371.15" y2="419.88" stroke="#2fcb6e" stroke-width="0.7"/>
<line x1="367.35" y1="424.54" x2="371.15" y2="424.54" stroke="#2fcb6e" stroke-width="0.7"/>
<circle cx="299.68" cy="411.34" r="2.4" fill="#2fcb6e"/>
<circle cx="311.27" cy="407.46" r="2.4" fill="#2fcb6e"/>
<circle cx="322.87" cy="410.56" r="2.4" fill="#2fcb6e"/>
<circle cx="334.46" cy="412.89" r="2.4" fill="#2fcb6e"/>
<circle cx="346.06" cy="411.34" r="2.4" fill="#2fcb6e"/>
<circle cx="357.66" cy="417.55" r="2.4" fill="#2fcb6e"/>
<circle cx="369.25" cy="422.21" r="2.4" fill="#2fcb6e"/>
<line x1="299.68" y1="422.21" x2="299.68" y2="417.55" stroke="#8c8c8c" stroke-width="0.7"/>
<line x1="297.78" y1="417.55" x2="301.58" y2="417.55" stroke="#8c8c8c" stroke-width="0.7"/>
<line x1="297.78" y1="422.21" x2="301.58" y2="422.21" stroke="#8c8c8c" stroke-width="0.7"/>
<line x1="311.27" y1="419.88" x2="311.27" y2="416.78" stroke="#8c8c8c" stroke-width="0.7"/>
<line x1="309.38" y1="416.78" x2="313.17" y2="416.78" stroke="#8c8c8c" stroke-width="0.7"/>
<line x1="309.38" y1="419.88" x2="313.17" y2="419.88" stroke="#8c8c8c" stroke-width="0.7"/>
<line x1="322.87" y1="422.99" x2="322.87" y2="419.88" stroke="#8c8c8c" stroke-width="0.7"/>
<line x1="320.97" y1="419.88" x2="324.77" y2="419.88" stroke="#8c8c8c" stroke-width="0.7"/>
<line x1="320.97" y1="422.99" x2="324.77" y2="422.99" stroke="#8c8c8c" stroke-width="0.7"/>
<circle cx="299.68" cy="419.88" r="2.4" fill="#8c8c8c"/>
<circle cx="311.27" cy="418.33" r="2.4" fill="#8c8c8c"/>
<circle cx="322.87" cy="421.44" r="2.4" fill="#8c8c8c"/>
<circle cx="334.46" cy="420.66" r="2.4" fill="#8c8c8c"/>
<circle cx="346.06" cy="424.16" r="2.4" fill="#8c8c8c"/>
<circle cx="357.66" cy="426.49" r="2.4" fill="#8c8c8c"/>
<circle cx="369.25" cy="435.18" r="2.4" fill="#8c8c8c"/>
<line x1="299.68" y1="420.66" x2="299.68" y2="414.45" stroke="#1a8a4c" stroke-width="0.7"/>
<line x1="297.78" y1="414.45" x2="301.58" y2="414.45" stroke="#1a8a4c" stroke-width="0.7"/>
<line x1="297.78" y1="420.66" x2="301.58" y2="420.66" stroke="#1a8a4c" stroke-width="0.7"/>
<line x1="311.27" y1="419.11" x2="311.27" y2="414.45" stroke="#1a8a4c" stroke-width="0.7"/>
<line x1="309.38" y1="414.45" x2="313.17" y2="414.45" stroke="#1a8a4c" stroke-width="0.7"/>
<line x1="309.38" y1="419.11" x2="313.17" y2="419.11" stroke="#1a8a4c" stroke-width="0.7"/>
<line x1="322.87" y1="420.66" x2="322.87" y2="416" stroke="#1a8a4c" stroke-width="0.7"/>
<line x1="320.97" y1="416" x2="324.77" y2="416" stroke="#1a8a4c" stroke-width="0.7"/>
<line x1="320.97" y1="420.66" x2="324.77" y2="420.66" stroke="#1a8a4c" stroke-width="0.7"/>
<line x1="346.06" y1="435.42" x2="346.06" y2="430.76" stroke="#1a8a4c" stroke-width="0.7"/>
<line x1="344.16" y1="430.76" x2="347.96" y2="430.76" stroke="#1a8a4c" stroke-width="0.7"/>
<line x1="344.16" y1="435.42" x2="347.96" y2="435.42" stroke="#1a8a4c" stroke-width="0.7"/>
<line x1="357.66" y1="447.07" x2="357.66" y2="440.85" stroke="#1a8a4c" stroke-width="0.7"/>
<line x1="355.76" y1="440.85" x2="359.56" y2="440.85" stroke="#1a8a4c" stroke-width="0.7"/>
<line x1="355.76" y1="447.07" x2="359.56" y2="447.07" stroke="#1a8a4c" stroke-width="0.7"/>
<line x1="369.25" y1="462.76" x2="369.25" y2="454.99" stroke="#1a8a4c" stroke-width="0.7"/>
<line x1="367.35" y1="454.99" x2="371.15" y2="454.99" stroke="#1a8a4c" stroke-width="0.7"/>
<line x1="367.35" y1="462.76" x2="371.15" y2="462.76" stroke="#1a8a4c" stroke-width="0.7"/>
<circle cx="299.68" cy="417.55" r="2.4" fill="#1a8a4c"/>
<circle cx="311.27" cy="416.78" r="2.4" fill="#1a8a4c"/>
<circle cx="322.87" cy="418.33" r="2.4" fill="#1a8a4c"/>
<circle cx="334.46" cy="422.99" r="2.4" fill="#1a8a4c"/>
<circle cx="346.06" cy="433.09" r="2.4" fill="#1a8a4c"/>
<circle cx="357.66" cy="443.96" r="2.4" fill="#1a8a4c"/>
<circle cx="369.25" cy="458.87" r="2.4" fill="#1a8a4c"/>
<line x1="299.68" y1="418.33" x2="299.68" y2="413.67" stroke="#000" stroke-width="0.7"/>
<line x1="297.78" y1="413.67" x2="301.58" y2="413.67" stroke="#000" stroke-width="0.7"/>
<line x1="297.78" y1="418.33" x2="301.58" y2="418.33" stroke="#000" stroke-width="0.7"/>
<line x1="311.27" y1="419.88" x2="311.27" y2="415.22" stroke="#000" stroke-width="0.7"/>
<line x1="309.38" y1="415.22" x2="313.17" y2="415.22" stroke="#000" stroke-width="0.7"/>
<line x1="309.38" y1="419.88" x2="313.17" y2="419.88" stroke="#000" stroke-width="0.7"/>
<line x1="322.87" y1="419.88" x2="322.87" y2="416.78" stroke="#000" stroke-width="0.7"/>
<line x1="320.97" y1="416.78" x2="324.77" y2="416.78" stroke="#000" stroke-width="0.7"/>
<line x1="320.97" y1="419.88" x2="324.77" y2="419.88" stroke="#000" stroke-width="0.7"/>
<line x1="346.06" y1="441.16" x2="346.06" y2="434.95" stroke="#000" stroke-width="0.7"/>
<line x1="344.16" y1="434.95" x2="347.96" y2="434.95" stroke="#000" stroke-width="0.7"/>
<line x1="344.16" y1="441.16" x2="347.96" y2="441.16" stroke="#000" stroke-width="0.7"/>
<line x1="357.66" y1="477.36" x2="357.66" y2="471.15" stroke="#000" stroke-width="0.7"/>
<line x1="355.76" y1="471.15" x2="359.56" y2="471.15" stroke="#000" stroke-width="0.7"/>
<line x1="355.76" y1="477.36" x2="359.56" y2="477.36" stroke="#000" stroke-width="0.7"/>
<circle cx="299.68" cy="416" r="2.55" fill="#000"/>
<circle cx="311.27" cy="417.55" r="2.55" fill="#000"/>
<circle cx="322.87" cy="418.33" r="2.55" fill="#000"/>
<circle cx="334.46" cy="423.77" r="2.55" fill="#000"/>
<circle cx="346.06" cy="438.06" r="2.55" fill="#000"/>
<circle cx="357.66" cy="474.25" r="2.55" fill="#000"/>
<circle cx="369.25" cy="494.45" r="2.55" fill="#000"/>
<line x1="253.3" y1="379" x2="253.3" y2="496.5" stroke="#2a2a2a" stroke-width="1.08"/>
<line x1="246.7" y1="496" x2="253.3" y2="496" stroke="#2a2a2a" stroke-width="1.08"/>
<text x="244.4" y="498.97" font-size="8.3" text-anchor="end" stroke="#1c1c1c" stroke-width="0.22">0</text>
<line x1="246.7" y1="457.17" x2="253.3" y2="457.17" stroke="#2a2a2a" stroke-width="1.08"/>
<text x="244.4" y="460.14" font-size="8.3" text-anchor="end" stroke="#1c1c1c" stroke-width="0.22">50</text>
<line x1="246.7" y1="418.33" x2="253.3" y2="418.33" stroke="#2a2a2a" stroke-width="1.08"/>
<text x="244.4" y="421.3" font-size="8.3" text-anchor="end" stroke="#1c1c1c" stroke-width="0.22">100</text>
<line x1="246.7" y1="379.5" x2="253.3" y2="379.5" stroke="#2a2a2a" stroke-width="1.08"/>
<text x="244.4" y="382.47" font-size="8.3" text-anchor="end" stroke="#1c1c1c" stroke-width="0.22">150</text>
<text x="225.8" y="441.2" font-size="8.6" text-anchor="middle" transform="rotate(-90 225.8 441.2)" stroke="#1c1c1c" stroke-width="0.22">% Cell viability</text>
<line x1="252.8" y1="496" x2="369.7" y2="496" stroke="#2a2a2a" stroke-width="1.08"/>
<line x1="253.3" y1="496" x2="253.3" y2="501.7" stroke="#2a2a2a" stroke-width="1.08"/>
<line x1="272.62" y1="496" x2="272.62" y2="501.7" stroke="#2a2a2a" stroke-width="1.08"/>
<line x1="291.95" y1="496" x2="291.95" y2="501.7" stroke="#2a2a2a" stroke-width="1.08"/>
<line x1="311.27" y1="496" x2="311.27" y2="501.7" stroke="#2a2a2a" stroke-width="1.08"/>
<line x1="330.6" y1="496" x2="330.6" y2="501.7" stroke="#2a2a2a" stroke-width="1.08"/>
<line x1="349.93" y1="496" x2="349.93" y2="501.7" stroke="#2a2a2a" stroke-width="1.08"/>
<line x1="369.25" y1="496" x2="369.25" y2="501.7" stroke="#2a2a2a" stroke-width="1.08"/>
<text x="252.9" y="510.9" font-size="8.3" text-anchor="middle" stroke="#1c1c1c" stroke-width="0.22">−9</text>
<text x="272.23" y="510.9" font-size="8.3" text-anchor="middle" stroke="#1c1c1c" stroke-width="0.22">−8.5</text>
<text x="291.55" y="510.9" font-size="8.3" text-anchor="middle" stroke="#1c1c1c" stroke-width="0.22">−8</text>
<text x="310.88" y="510.9" font-size="8.3" text-anchor="middle" stroke="#1c1c1c" stroke-width="0.22">−7.5</text>
<text x="330.2" y="510.9" font-size="8.3" text-anchor="middle" stroke="#1c1c1c" stroke-width="0.22">−7</text>
<text x="349.53" y="510.9" font-size="8.3" text-anchor="middle" stroke="#1c1c1c" stroke-width="0.22">−6.5</text>
<text x="368.85" y="510.9" font-size="8.3" text-anchor="middle" stroke="#1c1c1c" stroke-width="0.22">−6</text>
<text x="311.9" y="523.8" font-size="8.55" text-anchor="middle" stroke="#1c1c1c" stroke-width="0.22">RSL3 log[mol/L]</text>
<line x1="257.5" y1="383.1" x2="273.2" y2="383.1" stroke="#000" stroke-width="0.9"/>
<circle cx="265.35" cy="383.1" r="2.35" fill="#000"/>
<text x="278.2" y="386.1" font-size="8.55" stroke="#1c1c1c" stroke-width="0.22">Empty</text>
<line x1="257.5" y1="395.3" x2="273.2" y2="395.3" stroke="#8c8c8c" stroke-width="0.9"/>
<circle cx="265.35" cy="395.3" r="2.35" fill="#8c8c8c"/>
<text x="277.5" y="398.3" font-size="8.55" stroke="#1c1c1c" stroke-width="0.22">+Fer-1</text>
<line x1="320.3" y1="383.1" x2="336" y2="383.1" stroke="#1a8a4c" stroke-width="0.9"/>
<circle cx="328.15" cy="383.1" r="2.35" fill="#1a8a4c"/>
<text x="342.1" y="386.1" font-size="8.55" stroke="#1c1c1c" stroke-width="0.22"><tspan font-style="italic">SCD</tspan>-OE</text>
<line x1="320.3" y1="395.3" x2="336" y2="395.3" stroke="#2fcb6e" stroke-width="0.9"/>
<circle cx="328.15" cy="395.3" r="2.35" fill="#2fcb6e"/>
<text x="341.6" y="398.3" font-size="8.55" stroke="#1c1c1c" stroke-width="0.22">+Fer-1</text>
<text x="255.7" y="476.4" font-size="6.9" font-weight="bold" fill="#000" stroke="#000" stroke-width="0.13">IC<tspan font-size="4.6" dy="1.4">50</tspan></text>
<text x="255.7" y="484.6" font-size="7.45" stroke="#1c1c1c" stroke-width="0.22">Empty: 376.8 nmol/L</text>
<text x="255.7" y="493.2" font-size="7.45" fill="#2e9457" stroke="#2e9457" stroke-width="0.22"><tspan font-style="italic">SCD</tspan>-OE: 481 nmol/L</text>
<text x="459.5" y="371.9" font-size="8.55" text-anchor="middle" stroke="#1c1c1c" stroke-width="0.22">MV4-11</text>
<path d="M402.5 413.87L403.21 413.87L403.92 413.87L404.62 413.87L405.33 413.87L406.04 413.87L406.75 413.87L407.45 413.87L408.16 413.87L408.87 413.87L409.58 413.87L410.29 413.87L410.99 413.87L411.7 413.87L412.41 413.87L413.12 413.87L413.83 413.87L414.53 413.87L415.24 413.87L415.95 413.87L416.66 413.87L417.36 413.87L418.07 413.87L418.78 413.87L419.49 413.87L420.2 413.87L420.9 413.87L421.61 413.87L422.32 413.87L423.03 413.87L423.73 413.87L424.44 413.87L425.15 413.87L425.86 413.87L426.57 413.87L427.27 413.87L427.98 413.87L428.69 413.87L429.4 413.87L430.1 413.87L430.81 413.87L431.52 413.87L432.23 413.87L432.94 413.87L433.64 413.87L434.35 413.87L435.06 413.87L435.77 413.87L436.48 413.87L437.18 413.87L437.89 413.87L438.6 413.87L439.31 413.87L440.01 413.87L440.72 413.87L441.43 413.87L442.14 413.87L442.85 413.88L443.55 413.88L444.26 413.89L444.97 413.9L445.68 413.92L446.38 413.96L447.09 414.02L447.8 414.12L448.51 414.28L449.22 414.54L449.92 414.95L450.63 415.58L451.34 416.49L452.05 417.71L452.75 419.17L453.46 420.72L454.17 422.16L454.88 423.36L455.59 424.25L456.29 424.86L457 425.26L457.71 425.51L458.42 425.67L459.12 425.77L459.83 425.82L460.54 425.86L461.25 425.88L461.96 425.89L462.66 425.9L463.37 425.9L464.08 425.9L464.79 425.91L465.5 425.91L466.2 425.91L466.91 425.91L467.62 425.91L468.33 425.91L469.03 425.91L469.74 425.91L470.45 425.91L471.16 425.91L471.87 425.91L472.57 425.91L473.28 425.91L473.99 425.91L474.7 425.91L475.4 425.91L476.11 425.91L476.82 425.91L477.53 425.91L478.24 425.91L478.94 425.91L479.65 425.91L480.36 425.91L481.07 425.91L481.77 425.91L482.48 425.91L483.19 425.91L483.9 425.91L484.61 425.91L485.31 425.91L486.02 425.91L486.73 425.91L487.44 425.91L488.15 425.91L488.85 425.91L489.56 425.91L490.27 425.91L490.98 425.91L491.68 425.91L492.39 425.91L493.1 425.91L493.81 425.91L494.52 425.91L495.22 425.91L495.93 425.91L496.64 425.91L497.35 425.91L498.05 425.91L498.76 425.91L499.47 425.91L500.18 425.91L500.89 425.91L501.59 425.91L502.3 425.91L503.01 425.91L503.72 425.91L504.43 425.91L505.13 425.91L505.84 425.91L506.55 425.91L507.26 425.91L507.96 425.91L508.67 425.91L509.38 425.91L510.09 425.91L510.8 425.91L511.5 425.91L512.21 425.91L512.92 425.91L513.63 425.91L514.33 425.91L515.04 425.91L515.75 425.91" fill="none" stroke="#2fcb6e" stroke-width="0.9" stroke-linejoin="round"/>
<path d="M402.5 419.7L403.21 419.7L403.92 419.7L404.62 419.7L405.33 419.7L406.04 419.7L406.75 419.7L407.45 419.7L408.16 419.7L408.87 419.7L409.58 419.7L410.29 419.7L410.99 419.7L411.7 419.7L412.41 419.7L413.12 419.7L413.83 419.7L414.53 419.7L415.24 419.7L415.95 419.7L416.66 419.7L417.36 419.7L418.07 419.7L418.78 419.7L419.49 419.7L420.2 419.7L420.9 419.7L421.61 419.7L422.32 419.7L423.03 419.7L423.73 419.7L424.44 419.7L425.15 419.7L425.86 419.7L426.57 419.7L427.27 419.7L427.98 419.7L428.69 419.7L429.4 419.7L430.1 419.7L430.81 419.7L431.52 419.7L432.23 419.7L432.94 419.7L433.64 419.7L434.35 419.7L435.06 419.7L435.77 419.7L436.48 419.7L437.18 419.7L437.89 419.7L438.6 419.7L439.31 419.7L440.01 419.7L440.72 419.7L441.43 419.7L442.14 419.7L442.85 419.7L443.55 419.7L444.26 419.71L444.97 419.71L445.68 419.72L446.38 419.74L447.09 419.76L447.8 419.79L448.51 419.83L449.22 419.89L449.92 419.98L450.63 420.1L451.34 420.28L452.05 420.51L452.75 420.82L453.46 421.22L454.17 421.7L454.88 422.23L455.59 422.8L456.29 423.35L457 423.84L457.71 424.27L458.42 424.61L459.12 424.87L459.83 425.06L460.54 425.2L461.25 425.3L461.96 425.37L462.66 425.42L463.37 425.45L464.08 425.47L464.79 425.49L465.5 425.5L466.2 425.51L466.91 425.51L467.62 425.51L468.33 425.52L469.03 425.52L469.74 425.52L470.45 425.52L471.16 425.52L471.87 425.52L472.57 425.52L473.28 425.52L473.99 425.52L474.7 425.52L475.4 425.52L476.11 425.52L476.82 425.52L477.53 425.52L478.24 425.52L478.94 425.52L479.65 425.52L480.36 425.52L481.07 425.52L481.77 425.52L482.48 425.52L483.19 425.52L483.9 425.52L484.61 425.52L485.31 425.52L486.02 425.52L486.73 425.52L487.44 425.52L488.15 425.52L488.85 425.52L489.56 425.52L490.27 425.52L490.98 425.52L491.68 425.52L492.39 425.52L493.1 425.52L493.81 425.52L494.52 425.52L495.22 425.52L495.93 425.52L496.64 425.52L497.35 425.52L498.05 425.52L498.76 425.52L499.47 425.52L500.18 425.52L500.89 425.52L501.59 425.52L502.3 425.52L503.01 425.52L503.72 425.52L504.43 425.52L505.13 425.52L505.84 425.52L506.55 425.52L507.26 425.52L507.96 425.52L508.67 425.52L509.38 425.52L510.09 425.52L510.8 425.52L511.5 425.52L512.21 425.52L512.92 425.52L513.63 425.52L514.33 425.52L515.04 425.52L515.75 425.52" fill="none" stroke="#8c8c8c" stroke-width="0.9" stroke-linejoin="round"/>
<path d="M402.5 427.07L403.21 427.07L403.92 427.07L404.62 427.07L405.33 427.07L406.04 427.07L406.75 427.07L407.45 427.07L408.16 427.07L408.87 427.07L409.58 427.07L410.29 427.07L410.99 427.07L411.7 427.07L412.41 427.07L413.12 427.07L413.83 427.07L414.53 427.07L415.24 427.07L415.95 427.07L416.66 427.07L417.36 427.07L418.07 427.07L418.78 427.07L419.49 427.07L420.2 427.07L420.9 427.07L421.61 427.07L422.32 427.07L423.03 427.07L423.73 427.07L424.44 427.07L425.15 427.07L425.86 427.07L426.57 427.07L427.27 427.07L427.98 427.07L428.69 427.07L429.4 427.07L430.1 427.07L430.81 427.07L431.52 427.07L432.23 427.07L432.94 427.07L433.64 427.07L434.35 427.07L435.06 427.07L435.77 427.07L436.48 427.07L437.18 427.07L437.89 427.07L438.6 427.07L439.31 427.07L440.01 427.07L440.72 427.07L441.43 427.07L442.14 427.07L442.85 427.07L443.55 427.07L444.26 427.07L444.97 427.07L445.68 427.07L446.38 427.07L447.09 427.07L447.8 427.07L448.51 427.07L449.22 427.07L449.92 427.07L450.63 427.07L451.34 427.07L452.05 427.07L452.75 427.07L453.46 427.07L454.17 427.07L454.88 427.07L455.59 427.07L456.29 427.08L457 427.08L457.71 427.08L458.42 427.08L459.12 427.08L459.83 427.08L460.54 427.08L461.25 427.08L461.96 427.09L462.66 427.09L463.37 427.09L464.08 427.1L464.79 427.11L465.5 427.12L466.2 427.13L466.91 427.15L467.62 427.17L468.33 427.2L469.03 427.24L469.74 427.29L470.45 427.35L471.16 427.43L471.87 427.53L472.57 427.67L473.28 427.84L473.99 428.06L474.7 428.35L475.4 428.72L476.11 429.19L476.82 429.79L477.53 430.56L478.24 431.52L478.94 432.73L479.65 434.23L480.36 436.07L481.07 438.3L481.77 440.95L482.48 444.05L483.19 447.58L483.9 451.5L484.61 455.73L485.31 460.15L486.02 464.61L486.73 468.98L487.44 473.12L488.15 476.92L488.85 480.31L489.56 483.26L490.27 485.76L490.98 487.86L491.68 489.58L492.39 490.98L493.1 492.1L493.81 492.99L494.52 493.7L495.22 494.25L495.93 494.69L496.64 495.03L497.35 495.29L498.05 495.5L498.76 495.66L499.47 495.78L500.18 495.87L500.89 495.95L501.59 496.01L502.3 496.05L503.01 496.08L503.72 496.11L504.43 496.13L505.13 496.15L505.84 496.16L506.55 496.17L507.26 496.18L507.96 496.18L508.67 496.19L509.38 496.19L510.09 496.19L510.8 496.19L511.5 496.19L512.21 496.2L512.92 496.2L513.63 496.2L514.33 496.2L515.04 496.2L515.75 496.2" fill="none" stroke="#1a8a4c" stroke-width="0.9" stroke-linejoin="round"/>
<path d="M402.5 421.64L403.21 421.64L403.92 421.64L404.62 421.64L405.33 421.64L406.04 421.64L406.75 421.64L407.45 421.64L408.16 421.64L408.87 421.64L409.58 421.64L410.29 421.64L410.99 421.64L411.7 421.64L412.41 421.64L413.12 421.64L413.83 421.64L414.53 421.64L415.24 421.64L415.95 421.64L416.66 421.64L417.36 421.64L418.07 421.64L418.78 421.64L419.49 421.64L420.2 421.64L420.9 421.64L421.61 421.64L422.32 421.64L423.03 421.64L423.73 421.64L424.44 421.64L425.15 421.64L425.86 421.64L426.57 421.64L427.27 421.64L427.98 421.64L428.69 421.64L429.4 421.64L430.1 421.64L430.81 421.64L431.52 421.64L432.23 421.64L432.94 421.64L433.64 421.64L434.35 421.64L435.06 421.64L435.77 421.64L436.48 421.64L437.18 421.64L437.89 421.64L438.6 421.64L439.31 421.64L440.01 421.65L440.72 421.65L441.43 421.65L442.14 421.65L442.85 421.65L443.55 421.66L444.26 421.66L444.97 421.67L445.68 421.67L446.38 421.68L447.09 421.69L447.8 421.7L448.51 421.71L449.22 421.72L449.92 421.74L450.63 421.75L451.34 421.78L452.05 421.8L452.75 421.83L453.46 421.87L454.17 421.91L454.88 421.97L455.59 422.03L456.29 422.1L457 422.19L457.71 422.29L458.42 422.41L459.12 422.56L459.83 422.73L460.54 422.93L461.25 423.17L461.96 423.45L462.66 423.78L463.37 424.17L464.08 424.63L464.79 425.16L465.5 425.79L466.2 426.52L466.91 427.37L467.62 428.36L468.33 429.49L469.03 430.79L469.74 432.27L470.45 433.94L471.16 435.82L471.87 437.91L472.57 440.22L473.28 442.73L473.99 445.44L474.7 448.32L475.4 451.34L476.11 454.48L476.82 457.67L477.53 460.89L478.24 464.08L478.94 467.19L479.65 470.19L480.36 473.03L481.07 475.69L481.77 478.16L482.48 480.42L483.19 482.46L483.9 484.29L484.61 485.92L485.31 487.36L486.02 488.62L486.73 489.71L487.44 490.67L488.15 491.49L488.85 492.2L489.56 492.8L490.27 493.32L490.98 493.76L491.68 494.14L492.39 494.46L493.1 494.73L493.81 494.96L494.52 495.15L495.22 495.32L495.93 495.45L496.64 495.57L497.35 495.67L498.05 495.75L498.76 495.82L499.47 495.88L500.18 495.93L500.89 495.98L501.59 496.01L502.3 496.04L503.01 496.07L503.72 496.09L504.43 496.11L505.13 496.12L505.84 496.13L506.55 496.14L507.26 496.15L507.96 496.16L508.67 496.17L509.38 496.17L510.09 496.18L510.8 496.18L511.5 496.18L512.21 496.19L512.92 496.19L513.63 496.19L514.33 496.19L515.04 496.19L515.75 496.19" fill="none" stroke="#000" stroke-width="1" stroke-linejoin="round"/>
<line x1="447.8" y1="414.65" x2="447.8" y2="406.88" stroke="#2fcb6e" stroke-width="0.7"/>
<line x1="445.9" y1="406.88" x2="449.7" y2="406.88" stroke="#2fcb6e" stroke-width="0.7"/>
<line x1="445.9" y1="414.65" x2="449.7" y2="414.65" stroke="#2fcb6e" stroke-width="0.7"/>
<line x1="459.12" y1="430.18" x2="459.12" y2="425.52" stroke="#2fcb6e" stroke-width="0.7"/>
<line x1="457.23" y1="425.52" x2="461.02" y2="425.52" stroke="#2fcb6e" stroke-width="0.7"/>
<line x1="457.23" y1="430.18" x2="461.02" y2="430.18" stroke="#2fcb6e" stroke-width="0.7"/>
<line x1="470.45" y1="429.4" x2="470.45" y2="424.74" stroke="#2fcb6e" stroke-width="0.7"/>
<line x1="468.55" y1="424.74" x2="472.35" y2="424.74" stroke="#2fcb6e" stroke-width="0.7"/>
<line x1="468.55" y1="429.4" x2="472.35" y2="429.4" stroke="#2fcb6e" stroke-width="0.7"/>
<line x1="481.77" y1="426.3" x2="481.77" y2="420.08" stroke="#2fcb6e" stroke-width="0.7"/>
<line x1="479.88" y1="420.08" x2="483.67" y2="420.08" stroke="#2fcb6e" stroke-width="0.7"/>
<line x1="479.88" y1="426.3" x2="483.67" y2="426.3" stroke="#2fcb6e" stroke-width="0.7"/>
<line x1="493.1" y1="426.3" x2="493.1" y2="418.53" stroke="#2fcb6e" stroke-width="0.7"/>
<line x1="491.2" y1="418.53" x2="495" y2="418.53" stroke="#2fcb6e" stroke-width="0.7"/>
<line x1="491.2" y1="426.3" x2="495" y2="426.3" stroke="#2fcb6e" stroke-width="0.7"/>
<line x1="504.43" y1="429.4" x2="504.43" y2="423.19" stroke="#2fcb6e" stroke-width="0.7"/>
<line x1="502.53" y1="423.19" x2="506.32" y2="423.19" stroke="#2fcb6e" stroke-width="0.7"/>
<line x1="502.53" y1="429.4" x2="506.32" y2="429.4" stroke="#2fcb6e" stroke-width="0.7"/>
<line x1="515.75" y1="428.63" x2="515.75" y2="423.97" stroke="#2fcb6e" stroke-width="0.7"/>
<line x1="513.85" y1="423.97" x2="517.65" y2="423.97" stroke="#2fcb6e" stroke-width="0.7"/>
<line x1="513.85" y1="428.63" x2="517.65" y2="428.63" stroke="#2fcb6e" stroke-width="0.7"/>
<circle cx="447.8" cy="410.76" r="2.4" fill="#2fcb6e"/>
<circle cx="459.12" cy="427.85" r="2.4" fill="#2fcb6e"/>
<circle cx="470.45" cy="427.07" r="2.4" fill="#2fcb6e"/>
<circle cx="481.77" cy="423.19" r="2.4" fill="#2fcb6e"/>
<circle cx="493.1" cy="422.41" r="2.4" fill="#2fcb6e"/>
<circle cx="504.43" cy="426.3" r="2.4" fill="#2fcb6e"/>
<circle cx="515.75" cy="426.3" r="2.4" fill="#2fcb6e"/>
<line x1="447.8" y1="422.41" x2="447.8" y2="417.75" stroke="#8c8c8c" stroke-width="0.7"/>
<line x1="445.9" y1="417.75" x2="449.7" y2="417.75" stroke="#8c8c8c" stroke-width="0.7"/>
<line x1="445.9" y1="422.41" x2="449.7" y2="422.41" stroke="#8c8c8c" stroke-width="0.7"/>
<line x1="459.12" y1="428.63" x2="459.12" y2="423.97" stroke="#8c8c8c" stroke-width="0.7"/>
<line x1="457.23" y1="423.97" x2="461.02" y2="423.97" stroke="#8c8c8c" stroke-width="0.7"/>
<line x1="457.23" y1="428.63" x2="461.02" y2="428.63" stroke="#8c8c8c" stroke-width="0.7"/>
<line x1="470.45" y1="430.18" x2="470.45" y2="425.52" stroke="#8c8c8c" stroke-width="0.7"/>
<line x1="468.55" y1="425.52" x2="472.35" y2="425.52" stroke="#8c8c8c" stroke-width="0.7"/>
<line x1="468.55" y1="430.18" x2="472.35" y2="430.18" stroke="#8c8c8c" stroke-width="0.7"/>
<line x1="481.77" y1="433.29" x2="481.77" y2="425.52" stroke="#8c8c8c" stroke-width="0.7"/>
<line x1="479.88" y1="425.52" x2="483.67" y2="425.52" stroke="#8c8c8c" stroke-width="0.7"/>
<line x1="479.88" y1="433.29" x2="483.67" y2="433.29" stroke="#8c8c8c" stroke-width="0.7"/>
<line x1="493.1" y1="431.73" x2="493.1" y2="423.97" stroke="#8c8c8c" stroke-width="0.7"/>
<line x1="491.2" y1="423.97" x2="495" y2="423.97" stroke="#8c8c8c" stroke-width="0.7"/>
<line x1="491.2" y1="431.73" x2="495" y2="431.73" stroke="#8c8c8c" stroke-width="0.7"/>
<line x1="504.43" y1="430.96" x2="504.43" y2="421.64" stroke="#8c8c8c" stroke-width="0.7"/>
<line x1="502.53" y1="421.64" x2="506.32" y2="421.64" stroke="#8c8c8c" stroke-width="0.7"/>
<line x1="502.53" y1="430.96" x2="506.32" y2="430.96" stroke="#8c8c8c" stroke-width="0.7"/>
<line x1="515.75" y1="429.4" x2="515.75" y2="421.64" stroke="#8c8c8c" stroke-width="0.7"/>
<line x1="513.85" y1="421.64" x2="517.65" y2="421.64" stroke="#8c8c8c" stroke-width="0.7"/>
<line x1="513.85" y1="429.4" x2="517.65" y2="429.4" stroke="#8c8c8c" stroke-width="0.7"/>
<circle cx="447.8" cy="420.08" r="2.4" fill="#8c8c8c"/>
<circle cx="459.12" cy="426.3" r="2.4" fill="#8c8c8c"/>
<circle cx="470.45" cy="427.85" r="2.4" fill="#8c8c8c"/>
<circle cx="481.77" cy="429.4" r="2.4" fill="#8c8c8c"/>
<circle cx="493.1" cy="427.85" r="2.4" fill="#8c8c8c"/>
<circle cx="504.43" cy="426.3" r="2.4" fill="#8c8c8c"/>
<circle cx="515.75" cy="425.52" r="2.4" fill="#8c8c8c"/>
<line x1="447.8" y1="429.4" x2="447.8" y2="426.3" stroke="#1a8a4c" stroke-width="0.7"/>
<line x1="445.9" y1="426.3" x2="449.7" y2="426.3" stroke="#1a8a4c" stroke-width="0.7"/>
<line x1="445.9" y1="429.4" x2="449.7" y2="429.4" stroke="#1a8a4c" stroke-width="0.7"/>
<line x1="459.12" y1="430.96" x2="459.12" y2="426.3" stroke="#1a8a4c" stroke-width="0.7"/>
<line x1="457.23" y1="426.3" x2="461.02" y2="426.3" stroke="#1a8a4c" stroke-width="0.7"/>
<line x1="457.23" y1="430.96" x2="461.02" y2="430.96" stroke="#1a8a4c" stroke-width="0.7"/>
<line x1="470.45" y1="434.84" x2="470.45" y2="430.18" stroke="#1a8a4c" stroke-width="0.7"/>
<line x1="468.55" y1="430.18" x2="472.35" y2="430.18" stroke="#1a8a4c" stroke-width="0.7"/>
<line x1="468.55" y1="434.84" x2="472.35" y2="434.84" stroke="#1a8a4c" stroke-width="0.7"/>
<line x1="481.77" y1="448.04" x2="481.77" y2="435.62" stroke="#1a8a4c" stroke-width="0.7"/>
<line x1="479.88" y1="435.62" x2="483.67" y2="435.62" stroke="#1a8a4c" stroke-width="0.7"/>
<line x1="479.88" y1="448.04" x2="483.67" y2="448.04" stroke="#1a8a4c" stroke-width="0.7"/>
<line x1="493.1" y1="493.87" x2="493.1" y2="490.76" stroke="#1a8a4c" stroke-width="0.7"/>
<line x1="491.2" y1="490.76" x2="495" y2="490.76" stroke="#1a8a4c" stroke-width="0.7"/>
<line x1="491.2" y1="493.87" x2="495" y2="493.87" stroke="#1a8a4c" stroke-width="0.7"/>
<circle cx="447.8" cy="427.85" r="2.4" fill="#1a8a4c"/>
<circle cx="459.12" cy="428.63" r="2.4" fill="#1a8a4c"/>
<circle cx="470.45" cy="432.51" r="2.4" fill="#1a8a4c"/>
<circle cx="481.77" cy="441.83" r="2.4" fill="#1a8a4c"/>
<circle cx="493.1" cy="492.32" r="2.4" fill="#1a8a4c"/>
<circle cx="504.43" cy="495.42" r="2.4" fill="#1a8a4c"/>
<circle cx="515.75" cy="495.81" r="2.4" fill="#1a8a4c"/>
<line x1="447.8" y1="425.52" x2="447.8" y2="422.41" stroke="#000" stroke-width="0.7"/>
<line x1="445.9" y1="422.41" x2="449.7" y2="422.41" stroke="#000" stroke-width="0.7"/>
<line x1="445.9" y1="425.52" x2="449.7" y2="425.52" stroke="#000" stroke-width="0.7"/>
<line x1="459.12" y1="426.3" x2="459.12" y2="421.64" stroke="#000" stroke-width="0.7"/>
<line x1="457.23" y1="421.64" x2="461.02" y2="421.64" stroke="#000" stroke-width="0.7"/>
<line x1="457.23" y1="426.3" x2="461.02" y2="426.3" stroke="#000" stroke-width="0.7"/>
<line x1="470.45" y1="434.84" x2="470.45" y2="430.18" stroke="#000" stroke-width="0.7"/>
<line x1="468.55" y1="430.18" x2="472.35" y2="430.18" stroke="#000" stroke-width="0.7"/>
<line x1="468.55" y1="434.84" x2="472.35" y2="434.84" stroke="#000" stroke-width="0.7"/>
<line x1="481.77" y1="487.27" x2="481.77" y2="473.29" stroke="#000" stroke-width="0.7"/>
<line x1="479.88" y1="473.29" x2="483.67" y2="473.29" stroke="#000" stroke-width="0.7"/>
<line x1="479.88" y1="487.27" x2="483.67" y2="487.27" stroke="#000" stroke-width="0.7"/>
<circle cx="447.8" cy="423.97" r="2.55" fill="#000"/>
<circle cx="459.12" cy="423.97" r="2.55" fill="#000"/>
<circle cx="470.45" cy="432.51" r="2.55" fill="#000"/>
<circle cx="481.77" cy="480.28" r="2.55" fill="#000"/>
<circle cx="493.1" cy="495.42" r="2.55" fill="#000"/>
<circle cx="504.43" cy="495.81" r="2.55" fill="#000"/>
<circle cx="515.75" cy="495.81" r="2.55" fill="#000"/>
<line x1="402.5" y1="379.19" x2="402.5" y2="496.7" stroke="#2a2a2a" stroke-width="1.08"/>
<line x1="396.1" y1="496.2" x2="402.5" y2="496.2" stroke="#2a2a2a" stroke-width="1.08"/>
<text x="393.8" y="499.17" font-size="8.3" text-anchor="end" stroke="#1c1c1c" stroke-width="0.22">0</text>
<line x1="396.1" y1="457.37" x2="402.5" y2="457.37" stroke="#2a2a2a" stroke-width="1.08"/>
<text x="393.8" y="460.34" font-size="8.3" text-anchor="end" stroke="#1c1c1c" stroke-width="0.22">50</text>
<line x1="396.1" y1="418.53" x2="402.5" y2="418.53" stroke="#2a2a2a" stroke-width="1.08"/>
<text x="393.8" y="421.5" font-size="8.3" text-anchor="end" stroke="#1c1c1c" stroke-width="0.22">100</text>
<line x1="396.1" y1="379.69" x2="402.5" y2="379.69" stroke="#2a2a2a" stroke-width="1.08"/>
<text x="393.8" y="382.67" font-size="8.3" text-anchor="end" stroke="#1c1c1c" stroke-width="0.22">150</text>
<text x="0" y="0" font-size="8.3" text-anchor="middle" transform="rotate(-90 0 0)" stroke="#1c1c1c" stroke-width="0.22"></text>
<line x1="402" y1="496.2" x2="516.2" y2="496.2" stroke="#2a2a2a" stroke-width="1.08"/>
<line x1="402.5" y1="496.2" x2="402.5" y2="501.9" stroke="#2a2a2a" stroke-width="1.08"/>
<line x1="421.38" y1="496.2" x2="421.38" y2="501.9" stroke="#2a2a2a" stroke-width="1.08"/>
<line x1="440.25" y1="496.2" x2="440.25" y2="501.9" stroke="#2a2a2a" stroke-width="1.08"/>
<line x1="459.12" y1="496.2" x2="459.12" y2="501.9" stroke="#2a2a2a" stroke-width="1.08"/>
<line x1="478" y1="496.2" x2="478" y2="501.9" stroke="#2a2a2a" stroke-width="1.08"/>
<line x1="496.88" y1="496.2" x2="496.88" y2="501.9" stroke="#2a2a2a" stroke-width="1.08"/>
<line x1="515.75" y1="496.2" x2="515.75" y2="501.9" stroke="#2a2a2a" stroke-width="1.08"/>
<text x="402.1" y="511.3" font-size="8.3" text-anchor="middle" stroke="#1c1c1c" stroke-width="0.22">−9</text>
<text x="420.98" y="511.3" font-size="8.3" text-anchor="middle" stroke="#1c1c1c" stroke-width="0.22">−8.5</text>
<text x="439.85" y="511.3" font-size="8.3" text-anchor="middle" stroke="#1c1c1c" stroke-width="0.22">−8</text>
<text x="458.73" y="511.3" font-size="8.3" text-anchor="middle" stroke="#1c1c1c" stroke-width="0.22">−7.5</text>
<text x="477.6" y="511.3" font-size="8.3" text-anchor="middle" stroke="#1c1c1c" stroke-width="0.22">−7</text>
<text x="496.48" y="511.3" font-size="8.3" text-anchor="middle" stroke="#1c1c1c" stroke-width="0.22">−6.5</text>
<text x="515.35" y="511.3" font-size="8.3" text-anchor="middle" stroke="#1c1c1c" stroke-width="0.22">−6</text>
<text x="460.2" y="523.7" font-size="8.55" text-anchor="middle" stroke="#1c1c1c" stroke-width="0.22">RSL3 log[mol/L]</text>
<line x1="406.9" y1="383.1" x2="422.8" y2="383.1" stroke="#000" stroke-width="0.9"/>
<circle cx="414.85" cy="383.1" r="2.35" fill="#000"/>
<text x="426.2" y="386.1" font-size="8.55" stroke="#1c1c1c" stroke-width="0.22">Empty</text>
<line x1="406.9" y1="395.3" x2="422.8" y2="395.3" stroke="#8c8c8c" stroke-width="0.9"/>
<circle cx="414.85" cy="395.3" r="2.35" fill="#8c8c8c"/>
<text x="426" y="398.3" font-size="8.55" stroke="#1c1c1c" stroke-width="0.22">+Fer-1</text>
<line x1="465.3" y1="383.1" x2="481" y2="383.1" stroke="#1a8a4c" stroke-width="0.9"/>
<circle cx="473.15" cy="383.1" r="2.35" fill="#1a8a4c"/>
<text x="484.9" y="386.1" font-size="8.55" stroke="#1c1c1c" stroke-width="0.22"><tspan font-style="italic">SCD</tspan>-OE</text>
<line x1="465.3" y1="395.3" x2="481" y2="395.3" stroke="#2fcb6e" stroke-width="0.9"/>
<circle cx="473.15" cy="395.3" r="2.35" fill="#2fcb6e"/>
<text x="484.9" y="398.3" font-size="8.55" stroke="#1c1c1c" stroke-width="0.22">+Fer-1</text>
<text x="404.5" y="476.9" font-size="6.9" font-weight="bold" fill="#000" stroke="#000" stroke-width="0.13">IC<tspan font-size="4.6" dy="1.4">50</tspan></text>
<text x="404.5" y="485.4" font-size="7.45" stroke="#1c1c1c" stroke-width="0.22">Empty: 94.6 nmol/L</text>
<text x="404.5" y="493.2" font-size="7.45" fill="#2e9457" stroke="#2e9457" stroke-width="0.22"><tspan font-style="italic">SCD</tspan>-OE: 158.8 nmol/L</text>
<text transform="translate(0.1 551.2) scale(0.9 1)" font-size="11.8" font-weight="bold" fill="#000">G</text>
<text x="97.1" y="549.6" font-size="8.55" text-anchor="middle" stroke="#1c1c1c" stroke-width="0.22">MOLM-14</text>
<line x1="70" y1="553.8" x2="123.8" y2="553.8" stroke="#333" stroke-width="0.75"/>
<text x="83.4" y="562" font-size="6.7" text-anchor="middle" stroke="#1c1c1c" stroke-width="0.22">Empty</text>
<line x1="71.3" y1="565" x2="96.3" y2="565" stroke="#222" stroke-width="0.9"/>
<text x="111.9" y="562" font-size="6.7" text-anchor="middle" stroke="#1c1c1c" stroke-width="0.22"><tspan font-style="italic">SCD</tspan>-OE</text>
<line x1="100" y1="565" x2="125" y2="565" stroke="#222" stroke-width="0.9"/>
<text x="154.4" y="549.6" font-size="8.55" text-anchor="middle" stroke="#1c1c1c" stroke-width="0.22">MV4-11</text>
<line x1="128.8" y1="553.8" x2="181.3" y2="553.8" stroke="#333" stroke-width="0.75"/>
<text x="141" y="562" font-size="6.7" text-anchor="middle" stroke="#1c1c1c" stroke-width="0.22">Empty</text>
<line x1="128" y1="565" x2="152.5" y2="565" stroke="#222" stroke-width="0.9"/>
<text x="168.4" y="562" font-size="6.7" text-anchor="middle" stroke="#1c1c1c" stroke-width="0.22"><tspan font-style="italic">SCD</tspan>-OE</text>
<line x1="157" y1="565" x2="181.8" y2="565" stroke="#222" stroke-width="0.9"/>
<line x1="98.8" y1="565.5" x2="98.8" y2="681" stroke="#7d7d7d" stroke-width="0.75" stroke-dasharray="0.85 0.85"/>
<line x1="154.3" y1="565.5" x2="154.3" y2="681" stroke="#7d7d7d" stroke-width="0.75" stroke-dasharray="0.85 0.85"/>
<line x1="127.2" y1="553.8" x2="127.2" y2="681.25" stroke="#555" stroke-width="1.1"/>
<line x1="68" y1="564.5" x2="68" y2="681.9" stroke="#2a2a2a" stroke-width="1.08"/>
<line x1="62.2" y1="681.4" x2="68" y2="681.4" stroke="#2a2a2a" stroke-width="1.08"/>
<text x="60.6" y="684.37" font-size="8.3" text-anchor="end" stroke="#1c1c1c" stroke-width="0.22">0</text>
<line x1="62.2" y1="652.33" x2="68" y2="652.33" stroke="#2a2a2a" stroke-width="1.08"/>
<text x="60.6" y="655.3" font-size="8.3" text-anchor="end" stroke="#1c1c1c" stroke-width="0.22">20</text>
<line x1="62.2" y1="623.26" x2="68" y2="623.26" stroke="#2a2a2a" stroke-width="1.08"/>
<text x="60.6" y="626.23" font-size="8.3" text-anchor="end" stroke="#1c1c1c" stroke-width="0.22">40</text>
<line x1="62.2" y1="594.19" x2="68" y2="594.19" stroke="#2a2a2a" stroke-width="1.08"/>
<text x="60.6" y="597.16" font-size="8.3" text-anchor="end" stroke="#1c1c1c" stroke-width="0.22">60</text>
<line x1="62.2" y1="565.12" x2="68" y2="565.12" stroke="#2a2a2a" stroke-width="1.08"/>
<text x="60.6" y="568.09" font-size="8.3" text-anchor="end" stroke="#1c1c1c" stroke-width="0.22">80</text>
<text x="45.8" y="624" font-size="8.6" text-anchor="middle" transform="rotate(-90 45.8 624)" stroke="#1c1c1c" stroke-width="0.22">% C11-BODIPY +</text>
<line x1="67.5" y1="681.4" x2="185" y2="681.4" stroke="#2a2a2a" stroke-width="1.08"/>
<line x1="77.5" y1="681.4" x2="77.5" y2="687" stroke="#2a2a2a" stroke-width="1.08"/>
<line x1="91.75" y1="681.4" x2="91.75" y2="687" stroke="#2a2a2a" stroke-width="1.08"/>
<line x1="105.5" y1="681.4" x2="105.5" y2="687" stroke="#2a2a2a" stroke-width="1.08"/>
<line x1="119.5" y1="681.4" x2="119.5" y2="687" stroke="#2a2a2a" stroke-width="1.08"/>
<line x1="133.25" y1="681.4" x2="133.25" y2="687" stroke="#2a2a2a" stroke-width="1.08"/>
<line x1="147.5" y1="681.4" x2="147.5" y2="687" stroke="#2a2a2a" stroke-width="1.08"/>
<line x1="161.25" y1="681.4" x2="161.25" y2="687" stroke="#2a2a2a" stroke-width="1.08"/>
<line x1="175.5" y1="681.4" x2="175.5" y2="687" stroke="#2a2a2a" stroke-width="1.08"/>
<rect x="73.05" y="671.37" width="8.9" height="10.03" fill="#626262" stroke="#222" stroke-width="0.35"/>
<line x1="77.5" y1="677.04" x2="77.5" y2="665.85" stroke="#111" stroke-width="0.75"/>
<line x1="74.6" y1="665.85" x2="80.4" y2="665.85" stroke="#111" stroke-width="0.75"/>
<line x1="74.6" y1="677.04" x2="80.4" y2="677.04" stroke="#111" stroke-width="0.75"/>
<rect x="87.3" y="612.21" width="8.9" height="69.19" fill="#0f7b80" stroke="#0a3f42" stroke-width="0.35"/>
<line x1="91.75" y1="623.84" x2="91.75" y2="600.88" stroke="#111" stroke-width="0.75"/>
<line x1="88.85" y1="600.88" x2="94.65" y2="600.88" stroke="#111" stroke-width="0.75"/>
<line x1="88.85" y1="623.84" x2="94.65" y2="623.84" stroke="#111" stroke-width="0.75"/>
<rect x="101.05" y="680.09" width="8.9" height="1.31" fill="#626262" stroke="#222" stroke-width="0.35"/>
<rect x="115.05" y="650.88" width="8.9" height="30.52" fill="#0f7b80" stroke="#0a3f42" stroke-width="0.35"/>
<line x1="119.5" y1="658.43" x2="119.5" y2="643.9" stroke="#111" stroke-width="0.75"/>
<line x1="116.6" y1="643.9" x2="122.4" y2="643.9" stroke="#111" stroke-width="0.75"/>
<line x1="116.6" y1="658.43" x2="122.4" y2="658.43" stroke="#111" stroke-width="0.75"/>
<rect x="143.05" y="627.62" width="8.9" height="53.78" fill="#0f7b80" stroke="#0a3f42" stroke-width="0.35"/>
<line x1="147.5" y1="634.89" x2="147.5" y2="619.63" stroke="#111" stroke-width="0.75"/>
<line x1="144.6" y1="619.63" x2="150.4" y2="619.63" stroke="#111" stroke-width="0.75"/>
<line x1="144.6" y1="634.89" x2="150.4" y2="634.89" stroke="#111" stroke-width="0.75"/>
<rect x="171.05" y="663.38" width="8.9" height="18.02" fill="#0f7b80" stroke="#0a3f42" stroke-width="0.35"/>
<line x1="175.5" y1="669.05" x2="175.5" y2="658.14" stroke="#111" stroke-width="0.75"/>
<line x1="172.6" y1="658.14" x2="178.4" y2="658.14" stroke="#111" stroke-width="0.75"/>
<line x1="172.6" y1="669.05" x2="178.4" y2="669.05" stroke="#111" stroke-width="0.75"/>
<circle cx="77.5" cy="661.3" r="2.65" fill="#fff" stroke="#111" stroke-width="1.12"/>
<circle cx="77.5" cy="670.5" r="2.65" fill="#fff" stroke="#111" stroke-width="1.12"/>
<circle cx="77.5" cy="680.5" r="2.65" fill="#fff" stroke="#111" stroke-width="1.12"/>
<circle cx="91.75" cy="593.3" r="2.65" fill="#fff" stroke="#111" stroke-width="1.12"/>
<circle cx="91.75" cy="609.3" r="2.65" fill="#fff" stroke="#111" stroke-width="1.12"/>
<circle cx="91.75" cy="632.5" r="2.65" fill="#fff" stroke="#111" stroke-width="1.12"/>
<circle cx="103.2" cy="680" r="2.65" fill="#fff" stroke="#111" stroke-width="1.12"/>
<circle cx="108" cy="679.3" r="2.65" fill="#fff" stroke="#111" stroke-width="1.12"/>
<circle cx="105.7" cy="677.5" r="2.65" fill="#fff" stroke="#111" stroke-width="1.12"/>
<circle cx="119.5" cy="639.3" r="2.65" fill="#fff" stroke="#111" stroke-width="1.12"/>
<circle cx="119.5" cy="651.3" r="2.65" fill="#fff" stroke="#111" stroke-width="1.12"/>
<circle cx="119.5" cy="661.3" r="2.65" fill="#fff" stroke="#111" stroke-width="1.12"/>
<circle cx="130" cy="681.2" r="2.65" fill="#fff" stroke="#111" stroke-width="1.12"/>
<circle cx="132.5" cy="681.2" r="2.65" fill="#fff" stroke="#111" stroke-width="1.12"/>
<circle cx="135" cy="681.2" r="2.65" fill="#fff" stroke="#111" stroke-width="1.12"/>
<circle cx="147.5" cy="613" r="2.65" fill="#fff" stroke="#111" stroke-width="1.12"/>
<circle cx="147.5" cy="632" r="2.65" fill="#fff" stroke="#111" stroke-width="1.12"/>
<circle cx="147.5" cy="637.5" r="2.65" fill="#fff" stroke="#111" stroke-width="1.12"/>
<circle cx="158" cy="681.2" r="2.65" fill="#fff" stroke="#111" stroke-width="1.12"/>
<circle cx="160.6" cy="681.2" r="2.65" fill="#fff" stroke="#111" stroke-width="1.12"/>
<circle cx="163.6" cy="681.2" r="2.65" fill="#fff" stroke="#111" stroke-width="1.12"/>
<circle cx="175.5" cy="653.8" r="2.65" fill="#fff" stroke="#111" stroke-width="1.12"/>
<circle cx="175.5" cy="666.3" r="2.65" fill="#fff" stroke="#111" stroke-width="1.12"/>
<circle cx="175.5" cy="673" r="2.65" fill="#fff" stroke="#111" stroke-width="1.12"/>
<path d="M91.75 589.6L91.75 584.3L119.5 584.3L119.5 618.8" fill="none" stroke="#222" stroke-width="0.95"/>
<text x="105.86" y="583.54" font-size="7.3" text-anchor="middle" letter-spacing="0.72" fill="#1a1a1a" stroke="#1a1a1a" stroke-width="0.25">*</text>
<path d="M147.5 609.6L147.5 595.5L175 595.5L175 648.8" fill="none" stroke="#222" stroke-width="0.95"/>
<text x="162.06" y="595.14" font-size="7.3" text-anchor="middle" letter-spacing="0.72" fill="#1a1a1a" stroke="#1a1a1a" stroke-width="0.25">*</text>
<text x="5.4" y="699" font-size="8.75" stroke="#1c1c1c" stroke-width="0.22">RSL3 500 nmol/L</text>
<text x="29.8" y="709.5" font-size="8.75" stroke="#1c1c1c" stroke-width="0.22">250 nmol/L</text>
<text x="77.5" y="697.65" font-size="7.2" text-anchor="middle" fill="#222" stroke="#222" stroke-width="0.22">−</text>
<text x="91.75" y="697.65" font-size="7.2" text-anchor="middle" fill="#222" stroke="#222" stroke-width="0.22">+</text>
<text x="105.5" y="697.65" font-size="7.2" text-anchor="middle" fill="#222" stroke="#222" stroke-width="0.22">−</text>
<text x="119.5" y="697.65" font-size="7.2" text-anchor="middle" fill="#222" stroke="#222" stroke-width="0.22">+</text>
<text x="133.25" y="705.45" font-size="7.2" text-anchor="middle" fill="#222" stroke="#222" stroke-width="0.22">−</text>
<text x="147.5" y="705.45" font-size="7.2" text-anchor="middle" fill="#222" stroke="#222" stroke-width="0.22">+</text>
<text x="161.25" y="705.45" font-size="7.2" text-anchor="middle" fill="#222" stroke="#222" stroke-width="0.22">−</text>
<text x="175.5" y="705.45" font-size="7.2" text-anchor="middle" fill="#222" stroke="#222" stroke-width="0.22">+</text>
<text transform="translate(198.5 551.2) scale(0.9 1)" font-size="11.8" font-weight="bold" fill="#000">H</text>
<text x="290.3" y="550.1" font-size="8.55" text-anchor="middle" stroke="#1c1c1c" stroke-width="0.22">MOLM-14</text>
<line x1="261.3" y1="554.3" x2="315.8" y2="554.3" stroke="#333" stroke-width="0.75"/>
<text x="274" y="562" font-size="6.7" text-anchor="middle" stroke="#1c1c1c" stroke-width="0.22">Empty</text>
<line x1="262" y1="565.5" x2="287.5" y2="565.5" stroke="#222" stroke-width="0.9"/>
<text x="303.8" y="562" font-size="6.7" text-anchor="middle" stroke="#1c1c1c" stroke-width="0.22"><tspan font-style="italic">SCD</tspan>-OE</text>
<line x1="291.3" y1="565.5" x2="316.8" y2="565.5" stroke="#222" stroke-width="0.9"/>
<text x="348.1" y="550.1" font-size="8.55" text-anchor="middle" stroke="#1c1c1c" stroke-width="0.22">MV4-11</text>
<line x1="319.5" y1="554.3" x2="372.5" y2="554.3" stroke="#333" stroke-width="0.75"/>
<text x="332.1" y="562" font-size="6.7" text-anchor="middle" stroke="#1c1c1c" stroke-width="0.22">Empty</text>
<line x1="319.5" y1="565.5" x2="343.8" y2="565.5" stroke="#222" stroke-width="0.9"/>
<text x="359.6" y="562" font-size="6.7" text-anchor="middle" stroke="#1c1c1c" stroke-width="0.22"><tspan font-style="italic">SCD</tspan>-OE</text>
<line x1="348" y1="565.5" x2="373" y2="565.5" stroke="#222" stroke-width="0.9"/>
<line x1="290" y1="566" x2="290" y2="681.5" stroke="#7d7d7d" stroke-width="0.75" stroke-dasharray="0.85 0.85"/>
<line x1="345.5" y1="566" x2="345.5" y2="681.5" stroke="#7d7d7d" stroke-width="0.75" stroke-dasharray="0.85 0.85"/>
<line x1="318.5" y1="554.3" x2="318.5" y2="681.75" stroke="#555" stroke-width="1.1"/>
<line x1="260" y1="565" x2="260" y2="682.2" stroke="#2a2a2a" stroke-width="1.08"/>
<line x1="253.7" y1="681.7" x2="260" y2="681.7" stroke="#2a2a2a" stroke-width="1.08"/>
<text x="251.5" y="684.67" font-size="8.3" text-anchor="end" stroke="#1c1c1c" stroke-width="0.22">0</text>
<line x1="253.7" y1="660.54" x2="260" y2="660.54" stroke="#2a2a2a" stroke-width="1.08"/>
<text x="251.5" y="663.51" font-size="8.3" text-anchor="end" stroke="#1c1c1c" stroke-width="0.22">20</text>
<line x1="253.7" y1="639.38" x2="260" y2="639.38" stroke="#2a2a2a" stroke-width="1.08"/>
<text x="251.5" y="642.35" font-size="8.3" text-anchor="end" stroke="#1c1c1c" stroke-width="0.22">40</text>
<line x1="253.7" y1="618.22" x2="260" y2="618.22" stroke="#2a2a2a" stroke-width="1.08"/>
<text x="251.5" y="621.19" font-size="8.3" text-anchor="end" stroke="#1c1c1c" stroke-width="0.22">60</text>
<line x1="253.7" y1="597.06" x2="260" y2="597.06" stroke="#2a2a2a" stroke-width="1.08"/>
<text x="251.5" y="600.03" font-size="8.3" text-anchor="end" stroke="#1c1c1c" stroke-width="0.22">80</text>
<line x1="253.7" y1="575.9" x2="260" y2="575.9" stroke="#2a2a2a" stroke-width="1.08"/>
<text x="251.5" y="578.87" font-size="8.3" text-anchor="end" stroke="#1c1c1c" stroke-width="0.22">100</text>
<text x="230.9" y="625.4" font-size="8.6" text-anchor="middle" transform="rotate(-90 230.9 625.4)" stroke="#1c1c1c" stroke-width="0.22">% Cell death (PI)</text>
<line x1="259.5" y1="681.7" x2="375.8" y2="681.7" stroke="#2a2a2a" stroke-width="1.08"/>
<line x1="268.75" y1="681.7" x2="268.75" y2="687.3" stroke="#2a2a2a" stroke-width="1.08"/>
<line x1="283" y1="681.7" x2="283" y2="687.3" stroke="#2a2a2a" stroke-width="1.08"/>
<line x1="297" y1="681.7" x2="297" y2="687.3" stroke="#2a2a2a" stroke-width="1.08"/>
<line x1="311" y1="681.7" x2="311" y2="687.3" stroke="#2a2a2a" stroke-width="1.08"/>
<line x1="325" y1="681.7" x2="325" y2="687.3" stroke="#2a2a2a" stroke-width="1.08"/>
<line x1="339.25" y1="681.7" x2="339.25" y2="687.3" stroke="#2a2a2a" stroke-width="1.08"/>
<line x1="353" y1="681.7" x2="353" y2="687.3" stroke="#2a2a2a" stroke-width="1.08"/>
<line x1="367" y1="681.7" x2="367" y2="687.3" stroke="#2a2a2a" stroke-width="1.08"/>
<rect x="264.25" y="669.53" width="9" height="12.17" fill="#626262" stroke="#222" stroke-width="0.35"/>
<rect x="278.5" y="610.29" width="9" height="71.41" fill="#0f7b80" stroke="#0a3f42" stroke-width="0.35"/>
<line x1="283" y1="615.05" x2="283" y2="605.52" stroke="#111" stroke-width="0.75"/>
<line x1="280.1" y1="605.52" x2="285.9" y2="605.52" stroke="#111" stroke-width="0.75"/>
<line x1="280.1" y1="615.05" x2="285.9" y2="615.05" stroke="#111" stroke-width="0.75"/>
<rect x="292.5" y="670.06" width="9" height="11.64" fill="#626262" stroke="#222" stroke-width="0.35"/>
<rect x="306.5" y="652.61" width="9" height="29.1" fill="#0f7b80" stroke="#0a3f42" stroke-width="0.35"/>
<rect x="320.5" y="667.52" width="9" height="14.18" fill="#626262" stroke="#222" stroke-width="0.35"/>
<rect x="334.75" y="593.89" width="9" height="87.81" fill="#0f7b80" stroke="#0a3f42" stroke-width="0.35"/>
<line x1="339.25" y1="602.88" x2="339.25" y2="585.42" stroke="#111" stroke-width="0.75"/>
<line x1="336.35" y1="585.42" x2="342.15" y2="585.42" stroke="#111" stroke-width="0.75"/>
<line x1="336.35" y1="602.88" x2="342.15" y2="602.88" stroke="#111" stroke-width="0.75"/>
<rect x="348.5" y="671.12" width="9" height="10.58" fill="#626262" stroke="#222" stroke-width="0.35"/>
<rect x="362.5" y="660.01" width="9" height="21.69" fill="#0f7b80" stroke="#0a3f42" stroke-width="0.35"/>
<line x1="367" y1="663.71" x2="367" y2="656.31" stroke="#111" stroke-width="0.75"/>
<line x1="364.1" y1="656.31" x2="369.9" y2="656.31" stroke="#111" stroke-width="0.75"/>
<line x1="364.1" y1="663.71" x2="369.9" y2="663.71" stroke="#111" stroke-width="0.75"/>
<circle cx="267.5" cy="667" r="2.65" fill="#fff" stroke="#111" stroke-width="1.12"/>
<circle cx="270.8" cy="668" r="2.65" fill="#fff" stroke="#111" stroke-width="1.12"/>
<circle cx="268.8" cy="665.8" r="2.65" fill="#fff" stroke="#111" stroke-width="1.12"/>
<circle cx="283" cy="617.5" r="2.65" fill="#fff" stroke="#111" stroke-width="1.12"/>
<circle cx="280.8" cy="603.8" r="2.65" fill="#fff" stroke="#111" stroke-width="1.12"/>
<circle cx="285" cy="608" r="2.65" fill="#fff" stroke="#111" stroke-width="1.12"/>
<circle cx="295" cy="668.8" r="2.65" fill="#fff" stroke="#111" stroke-width="1.12"/>
<circle cx="298.8" cy="668.8" r="2.65" fill="#fff" stroke="#111" stroke-width="1.12"/>
<circle cx="308.8" cy="651.8" r="2.65" fill="#fff" stroke="#111" stroke-width="1.12"/>
<circle cx="313" cy="650.8" r="2.65" fill="#fff" stroke="#111" stroke-width="1.12"/>
<circle cx="310.5" cy="650" r="2.65" fill="#fff" stroke="#111" stroke-width="1.12"/>
<circle cx="322.5" cy="666.3" r="2.65" fill="#fff" stroke="#111" stroke-width="1.12"/>
<circle cx="327" cy="666.8" r="2.65" fill="#fff" stroke="#111" stroke-width="1.12"/>
<circle cx="324.5" cy="662.5" r="2.65" fill="#fff" stroke="#111" stroke-width="1.12"/>
<circle cx="339.25" cy="615" r="2.65" fill="#fff" stroke="#111" stroke-width="1.12"/>
<circle cx="336.3" cy="581.3" r="2.65" fill="#fff" stroke="#111" stroke-width="1.12"/>
<circle cx="340.8" cy="583.3" r="2.65" fill="#fff" stroke="#111" stroke-width="1.12"/>
<circle cx="350.8" cy="670.5" r="2.65" fill="#fff" stroke="#111" stroke-width="1.12"/>
<circle cx="355" cy="670" r="2.65" fill="#fff" stroke="#111" stroke-width="1.12"/>
<circle cx="352.5" cy="668.3" r="2.65" fill="#fff" stroke="#111" stroke-width="1.12"/>
<circle cx="364.5" cy="661.8" r="2.65" fill="#fff" stroke="#111" stroke-width="1.12"/>
<circle cx="368.8" cy="660" r="2.65" fill="#fff" stroke="#111" stroke-width="1.12"/>
<circle cx="366.8" cy="653.8" r="2.65" fill="#fff" stroke="#111" stroke-width="1.12"/>
<path d="M282.8 600L282.8 588.3L311.3 588.3L311.3 647.5" fill="none" stroke="#222" stroke-width="0.95"/>
<text x="297.26" y="587.74" font-size="7.3" text-anchor="middle" letter-spacing="0.72" fill="#1a1a1a" stroke="#1a1a1a" stroke-width="0.25">***</text>
<path d="M338.8 578L338.8 574.3L366.3 574.3L366.3 633.8" fill="none" stroke="#222" stroke-width="0.95"/>
<text x="352.86" y="573.94" font-size="7.3" text-anchor="middle" letter-spacing="0.72" fill="#1a1a1a" stroke="#1a1a1a" stroke-width="0.25">**</text>
<text x="197.8" y="699" font-size="8.7" stroke="#1c1c1c" stroke-width="0.22">RSL3 500 nmol/L</text>
<text x="222" y="709.5" font-size="8.7" stroke="#1c1c1c" stroke-width="0.22">250 nmol/L</text>
<text x="268.75" y="697.65" font-size="7.2" text-anchor="middle" fill="#222" stroke="#222" stroke-width="0.22">−</text>
<text x="283" y="697.65" font-size="7.2" text-anchor="middle" fill="#222" stroke="#222" stroke-width="0.22">+</text>
<text x="297" y="697.65" font-size="7.2" text-anchor="middle" fill="#222" stroke="#222" stroke-width="0.22">−</text>
<text x="311" y="697.65" font-size="7.2" text-anchor="middle" fill="#222" stroke="#222" stroke-width="0.22">+</text>
<text x="325" y="705.05" font-size="7.2" text-anchor="middle" fill="#222" stroke="#222" stroke-width="0.22">−</text>
<text x="339.25" y="705.05" font-size="7.2" text-anchor="middle" fill="#222" stroke="#222" stroke-width="0.22">+</text>
<text x="353" y="705.05" font-size="7.2" text-anchor="middle" fill="#222" stroke="#222" stroke-width="0.22">−</text>
<text x="367" y="705.05" font-size="7.2" text-anchor="middle" fill="#222" stroke="#222" stroke-width="0.22">+</text>
<text transform="translate(388.3 551.2) scale(0.9 1)" font-size="11.8" font-weight="bold" fill="#000">I</text>
<text x="443.2" y="557.1" font-size="8.55" text-anchor="middle" stroke="#1c1c1c" stroke-width="0.22">MOLM-14</text>
<text x="475.3" y="561.2" font-size="8.55" stroke="#1c1c1c" stroke-width="0.22">kDa</text>
<clipPath id="c847"><rect x="413.7" y="562" width="60" height="15.3"/></clipPath>
<rect x="413.7" y="562" width="60" height="15.3" fill="#e6e6e6"/>
<g clip-path="url(#c847)" filter="url(#b1)">
<rect x="417.4" y="568.5" width="13.2" height="3" rx="1.5" fill="#000" opacity="1"/>
<rect x="436" y="569.8" width="14" height="2.4" rx="1.2" fill="#777" opacity="0.3"/>
<rect x="455" y="569.8" width="15" height="2.4" rx="1.2" fill="#777" opacity="0.28"/>
</g>
<rect x="413.7" y="562" width="60" height="15.3" fill="none" stroke="#444" stroke-width="0.6"/>
<clipPath id="c855"><rect x="413.7" y="580.2" width="60" height="18.8"/></clipPath>
<rect x="413.7" y="580.2" width="60" height="18.8" fill="#f4f4f4"/>
<g clip-path="url(#c855)" filter="url(#b2)">
<rect x="416.5" y="588.4" width="16.5" height="4" rx="2" fill="#111" opacity="0.9"/>
<rect x="435" y="589.4" width="17" height="4" rx="2" fill="#111" opacity="0.85"/>
<rect x="453.5" y="589" width="17.5" height="4" rx="2" fill="#111" opacity="0.9"/>
</g>
<rect x="413.7" y="580.2" width="60" height="18.8" fill="none" stroke="#444" stroke-width="0.6"/>
<text x="393.6" y="572.9" font-size="8.55" stroke="#1c1c1c" stroke-width="0.22">SCD</text>
<text x="393" y="593.5" font-size="8.55" stroke="#1c1c1c" stroke-width="0.22">Actin</text>
<line x1="474.2" y1="569.8" x2="476.6" y2="569.8" stroke="#222" stroke-width="0.8"/>
<line x1="474.2" y1="590.4" x2="476.6" y2="590.4" stroke="#222" stroke-width="0.8"/>
<text x="478" y="572.9" font-size="8.55" stroke="#1c1c1c" stroke-width="0.22">35</text>
<text x="478" y="593.5" font-size="8.55" stroke="#1c1c1c" stroke-width="0.22">42</text>
<text x="443.2" y="618.2" font-size="8.55" text-anchor="middle" stroke="#1c1c1c" stroke-width="0.22">MV4-11</text>
<clipPath id="c870"><rect x="413.7" y="622.9" width="60" height="9.4"/></clipPath>
<rect x="413.7" y="622.9" width="60" height="9.4" fill="#e2e2e2"/>
<g clip-path="url(#c870)" filter="url(#b1)">
<rect x="418.3" y="625.95" width="14" height="2.5" rx="1.25" fill="#000" opacity="1"/>
<rect x="437" y="627" width="14" height="2" rx="1" fill="#777" opacity="0.3"/>
<rect x="455" y="627" width="15" height="2" rx="1" fill="#777" opacity="0.3"/>
</g>
<rect x="413.7" y="622.9" width="60" height="9.4" fill="none" stroke="#444" stroke-width="0.6"/>
<clipPath id="c878"><rect x="413.7" y="635" width="60" height="13.5"/></clipPath>
<rect x="413.7" y="635" width="60" height="13.5" fill="#eeeeee"/>
<g clip-path="url(#c878)" filter="url(#b2)">
<rect x="417" y="640.3" width="16" height="4" rx="2" fill="#333" opacity="0.85"/>
<rect x="436" y="640.9" width="15.5" height="3.8" rx="1.9" fill="#444" opacity="0.8"/>
<rect x="454" y="640.7" width="16.5" height="3.8" rx="1.9" fill="#444" opacity="0.8"/>
</g>
<rect x="413.7" y="635" width="60" height="13.5" fill="none" stroke="#444" stroke-width="0.6"/>
<text x="393.6" y="630.3" font-size="8.55" stroke="#1c1c1c" stroke-width="0.22">SCD</text>
<text x="393" y="645.3" font-size="8.55" stroke="#1c1c1c" stroke-width="0.22">Actin</text>
<line x1="474.2" y1="627.2" x2="476.6" y2="627.2" stroke="#222" stroke-width="0.8"/>
<line x1="474.2" y1="642.2" x2="476.6" y2="642.2" stroke="#222" stroke-width="0.8"/>
<text x="478" y="630.3" font-size="8.55" stroke="#1c1c1c" stroke-width="0.22">35</text>
<text x="478" y="645.3" font-size="8.55" stroke="#1c1c1c" stroke-width="0.22">42</text>
<text x="428.6" y="655.6" font-size="8.55" text-anchor="end" transform="rotate(-45 428.6 655.6)" stroke="#1c1c1c" stroke-width="0.22">shCTL</text>
<text x="444.9" y="655.6" font-size="8.55" text-anchor="end" transform="rotate(-45 444.9 655.6)" stroke="#1c1c1c" stroke-width="0.22">sh<tspan font-style="italic">SCD</tspan>#1</text>
<text x="465" y="655.6" font-size="8.55" text-anchor="end" transform="rotate(-45 465 655.6)" stroke="#1c1c1c" stroke-width="0.22">sh<tspan font-style="italic">SCD</tspan>#2</text>
<text transform="translate(0.5 729.7) scale(0.9 1)" font-size="11.8" font-weight="bold" fill="#000">J</text>
<text x="110.3" y="728.3" font-size="8.55" text-anchor="middle" stroke="#1c1c1c" stroke-width="0.22">MOLM-14</text>
<line x1="70" y1="732.5" x2="152.5" y2="732.5" stroke="#333" stroke-width="0.75"/>
<text x="198.9" y="728.3" font-size="8.55" text-anchor="middle" stroke="#1c1c1c" stroke-width="0.22">MV4-11</text>
<line x1="157" y1="732.5" x2="241.3" y2="732.5" stroke="#333" stroke-width="0.75"/>
<text x="82.6" y="750" font-size="8.55" text-anchor="middle" stroke="#1c1c1c" stroke-width="0.22">shCTL</text>
<line x1="69.5" y1="752.5" x2="95.8" y2="752.5" stroke="#333" stroke-width="1"/>
<text x="111.9" y="741.3" font-size="8.55" text-anchor="middle" stroke="#1c1c1c" stroke-width="0.22">sh<tspan font-style="italic">SCD</tspan></text>
<text x="111.1" y="750" font-size="8.4" text-anchor="middle" stroke="#1c1c1c" stroke-width="0.22">#1</text>
<line x1="99.5" y1="752.5" x2="123.8" y2="752.5" stroke="#333" stroke-width="1"/>
<text x="140.6" y="741.3" font-size="8.55" text-anchor="middle" stroke="#1c1c1c" stroke-width="0.22">sh<tspan font-style="italic">SCD</tspan></text>
<text x="139.8" y="750" font-size="8.4" text-anchor="middle" stroke="#1c1c1c" stroke-width="0.22">#2</text>
<line x1="128.8" y1="752.5" x2="152.5" y2="752.5" stroke="#333" stroke-width="1"/>
<text x="199" y="741.3" font-size="8.55" text-anchor="middle" stroke="#1c1c1c" stroke-width="0.22">sh<tspan font-style="italic">SCD</tspan></text>
<text x="198.2" y="750" font-size="8.4" text-anchor="middle" stroke="#1c1c1c" stroke-width="0.22">#1</text>
<line x1="186.3" y1="752.5" x2="210" y2="752.5" stroke="#333" stroke-width="1"/>
<text x="227.7" y="741.3" font-size="8.55" text-anchor="middle" stroke="#1c1c1c" stroke-width="0.22">sh<tspan font-style="italic">SCD</tspan></text>
<text x="226.9" y="750" font-size="8.4" text-anchor="middle" stroke="#1c1c1c" stroke-width="0.22">#2</text>
<line x1="215" y1="752.5" x2="240" y2="752.5" stroke="#333" stroke-width="1"/>
<text x="169.1" y="750" font-size="8.55" text-anchor="middle" stroke="#1c1c1c" stroke-width="0.22">shCTL</text>
<line x1="157" y1="752.5" x2="182.5" y2="752.5" stroke="#333" stroke-width="1"/>
<line x1="97.5" y1="753" x2="97.5" y2="870" stroke="#7d7d7d" stroke-width="0.75" stroke-dasharray="0.85 0.85"/>
<line x1="125.5" y1="753" x2="125.5" y2="870" stroke="#7d7d7d" stroke-width="0.75" stroke-dasharray="0.85 0.85"/>
<line x1="183.75" y1="753" x2="183.75" y2="870" stroke="#7d7d7d" stroke-width="0.75" stroke-dasharray="0.85 0.85"/>
<line x1="212.5" y1="753" x2="212.5" y2="870" stroke="#7d7d7d" stroke-width="0.75" stroke-dasharray="0.85 0.85"/>
<line x1="155" y1="732.5" x2="155" y2="870.25" stroke="#8a8a8a" stroke-width="0.8"/>
<line x1="66.75" y1="752" x2="66.75" y2="870.95" stroke="#2a2a2a" stroke-width="1.08"/>
<line x1="60.45" y1="870.45" x2="66.75" y2="870.45" stroke="#2a2a2a" stroke-width="1.08"/>
<text x="57.25" y="873.42" font-size="8.3" text-anchor="end" stroke="#1c1c1c" stroke-width="0.22">0</text>
<line x1="60.45" y1="840.87" x2="66.75" y2="840.87" stroke="#2a2a2a" stroke-width="1.08"/>
<text x="57.25" y="843.84" font-size="8.3" text-anchor="end" stroke="#1c1c1c" stroke-width="0.22">20</text>
<line x1="60.45" y1="811.29" x2="66.75" y2="811.29" stroke="#2a2a2a" stroke-width="1.08"/>
<text x="57.25" y="814.26" font-size="8.3" text-anchor="end" stroke="#1c1c1c" stroke-width="0.22">40</text>
<line x1="60.45" y1="781.71" x2="66.75" y2="781.71" stroke="#2a2a2a" stroke-width="1.08"/>
<text x="57.25" y="784.68" font-size="8.3" text-anchor="end" stroke="#1c1c1c" stroke-width="0.22">60</text>
<line x1="60.45" y1="752.13" x2="66.75" y2="752.13" stroke="#2a2a2a" stroke-width="1.08"/>
<text x="57.25" y="755.1" font-size="8.3" text-anchor="end" stroke="#1c1c1c" stroke-width="0.22">80</text>
<text x="39.1" y="812" font-size="8.65" text-anchor="middle" transform="rotate(-90 39.1 812)" stroke="#1c1c1c" stroke-width="0.22">% C11-BODIPY +</text>
<line x1="66.25" y1="870.45" x2="244.3" y2="870.45" stroke="#2a2a2a" stroke-width="1.08"/>
<line x1="75.2" y1="870.45" x2="75.2" y2="876.55" stroke="#2a2a2a" stroke-width="1.08"/>
<line x1="89.57" y1="870.45" x2="89.57" y2="876.55" stroke="#2a2a2a" stroke-width="1.08"/>
<line x1="103.94" y1="870.45" x2="103.94" y2="876.55" stroke="#2a2a2a" stroke-width="1.08"/>
<line x1="118.31" y1="870.45" x2="118.31" y2="876.55" stroke="#2a2a2a" stroke-width="1.08"/>
<line x1="132.68" y1="870.45" x2="132.68" y2="876.55" stroke="#2a2a2a" stroke-width="1.08"/>
<line x1="147.05" y1="870.45" x2="147.05" y2="876.55" stroke="#2a2a2a" stroke-width="1.08"/>
<line x1="161.42" y1="870.45" x2="161.42" y2="876.55" stroke="#2a2a2a" stroke-width="1.08"/>
<line x1="175.79" y1="870.45" x2="175.79" y2="876.55" stroke="#2a2a2a" stroke-width="1.08"/>
<line x1="190.16" y1="870.45" x2="190.16" y2="876.55" stroke="#2a2a2a" stroke-width="1.08"/>
<line x1="204.53" y1="870.45" x2="204.53" y2="876.55" stroke="#2a2a2a" stroke-width="1.08"/>
<line x1="218.9" y1="870.45" x2="218.9" y2="876.55" stroke="#2a2a2a" stroke-width="1.08"/>
<line x1="233.27" y1="870.45" x2="233.27" y2="876.55" stroke="#2a2a2a" stroke-width="1.08"/>
<rect x="85.07" y="857.73" width="9" height="12.72" fill="#0f7b80" stroke="#0a3f42" stroke-width="0.35"/>
<line x1="89.57" y1="861.58" x2="89.57" y2="853.44" stroke="#111" stroke-width="0.75"/>
<line x1="86.67" y1="853.44" x2="92.47" y2="853.44" stroke="#111" stroke-width="0.75"/>
<line x1="86.67" y1="861.58" x2="92.47" y2="861.58" stroke="#111" stroke-width="0.75"/>
<rect x="99.44" y="868.23" width="9" height="2.22" fill="#0f7b80" stroke="#0a3f42" stroke-width="0.35"/>
<rect x="113.81" y="826.08" width="9" height="44.37" fill="#0f7b80" stroke="#0a3f42" stroke-width="0.35"/>
<line x1="118.31" y1="829.78" x2="118.31" y2="822.38" stroke="#111" stroke-width="0.75"/>
<line x1="115.41" y1="822.38" x2="121.21" y2="822.38" stroke="#111" stroke-width="0.75"/>
<line x1="115.41" y1="829.78" x2="121.21" y2="829.78" stroke="#111" stroke-width="0.75"/>
<rect x="128.18" y="869.41" width="9" height="1.04" fill="#0f7b80" stroke="#0a3f42" stroke-width="0.35"/>
<rect x="142.55" y="835.55" width="9" height="34.9" fill="#0f7b80" stroke="#0a3f42" stroke-width="0.35"/>
<line x1="147.05" y1="840.87" x2="147.05" y2="829.78" stroke="#111" stroke-width="0.75"/>
<line x1="144.15" y1="829.78" x2="149.95" y2="829.78" stroke="#111" stroke-width="0.75"/>
<line x1="144.15" y1="840.87" x2="149.95" y2="840.87" stroke="#111" stroke-width="0.75"/>
<rect x="171.29" y="840.57" width="9" height="29.88" fill="#0f7b80" stroke="#0a3f42" stroke-width="0.35"/>
<line x1="175.79" y1="843.09" x2="175.79" y2="837.91" stroke="#111" stroke-width="0.75"/>
<line x1="172.89" y1="837.91" x2="178.69" y2="837.91" stroke="#111" stroke-width="0.75"/>
<line x1="172.89" y1="843.09" x2="178.69" y2="843.09" stroke="#111" stroke-width="0.75"/>
<rect x="200.03" y="798.57" width="9" height="71.88" fill="#0f7b80" stroke="#0a3f42" stroke-width="0.35"/>
<line x1="204.53" y1="807.59" x2="204.53" y2="789.11" stroke="#111" stroke-width="0.75"/>
<line x1="201.63" y1="789.11" x2="207.43" y2="789.11" stroke="#111" stroke-width="0.75"/>
<line x1="201.63" y1="807.59" x2="207.43" y2="807.59" stroke="#111" stroke-width="0.75"/>
<rect x="228.77" y="788.51" width="9" height="81.94" fill="#0f7b80" stroke="#0a3f42" stroke-width="0.35"/>
<line x1="233.27" y1="801.68" x2="233.27" y2="774.61" stroke="#111" stroke-width="0.75"/>
<line x1="230.37" y1="774.61" x2="236.17" y2="774.61" stroke="#111" stroke-width="0.75"/>
<line x1="230.37" y1="801.68" x2="236.17" y2="801.68" stroke="#111" stroke-width="0.75"/>
<circle cx="72.5" cy="869.6" r="2.65" fill="#fff" stroke="#111" stroke-width="1.12"/>
<circle cx="75" cy="869.6" r="2.65" fill="#fff" stroke="#111" stroke-width="1.12"/>
<circle cx="77.6" cy="869.6" r="2.65" fill="#fff" stroke="#111" stroke-width="1.12"/>
<circle cx="87.5" cy="859.3" r="2.65" fill="#fff" stroke="#111" stroke-width="1.12"/>
<circle cx="92.5" cy="859.3" r="2.65" fill="#fff" stroke="#111" stroke-width="1.12"/>
<circle cx="90" cy="852" r="2.65" fill="#fff" stroke="#111" stroke-width="1.12"/>
<circle cx="102" cy="868" r="2.65" fill="#fff" stroke="#111" stroke-width="1.12"/>
<circle cx="107" cy="866.8" r="2.65" fill="#fff" stroke="#111" stroke-width="1.12"/>
<circle cx="104.5" cy="865.8" r="2.65" fill="#fff" stroke="#111" stroke-width="1.12"/>
<circle cx="118.75" cy="830" r="2.65" fill="#fff" stroke="#111" stroke-width="1.12"/>
<circle cx="116.25" cy="823.3" r="2.65" fill="#fff" stroke="#111" stroke-width="1.12"/>
<circle cx="121.25" cy="824.5" r="2.65" fill="#fff" stroke="#111" stroke-width="1.12"/>
<circle cx="130.5" cy="869.3" r="2.65" fill="#fff" stroke="#111" stroke-width="1.12"/>
<circle cx="135.5" cy="868.3" r="2.65" fill="#fff" stroke="#111" stroke-width="1.12"/>
<circle cx="133" cy="868" r="2.65" fill="#fff" stroke="#111" stroke-width="1.12"/>
<circle cx="147.5" cy="841.3" r="2.65" fill="#fff" stroke="#111" stroke-width="1.12"/>
<circle cx="147.5" cy="835.5" r="2.65" fill="#fff" stroke="#111" stroke-width="1.12"/>
<circle cx="147.5" cy="829.3" r="2.65" fill="#fff" stroke="#111" stroke-width="1.12"/>
<circle cx="159.2" cy="870" r="2.65" fill="#fff" stroke="#111" stroke-width="1.12"/>
<circle cx="161.8" cy="870" r="2.65" fill="#fff" stroke="#111" stroke-width="1.12"/>
<circle cx="164.3" cy="870" r="2.65" fill="#fff" stroke="#111" stroke-width="1.12"/>
<circle cx="173.75" cy="839.5" r="2.65" fill="#fff" stroke="#111" stroke-width="1.12"/>
<circle cx="178.9" cy="838.4" r="2.65" fill="#fff" stroke="#111" stroke-width="1.12"/>
<circle cx="176.25" cy="835.6" r="2.65" fill="#fff" stroke="#111" stroke-width="1.12"/>
<circle cx="187.5" cy="870" r="2.65" fill="#fff" stroke="#111" stroke-width="1.12"/>
<circle cx="190" cy="870" r="2.65" fill="#fff" stroke="#111" stroke-width="1.12"/>
<circle cx="192.6" cy="870" r="2.65" fill="#fff" stroke="#111" stroke-width="1.12"/>
<circle cx="205.2" cy="811.6" r="2.65" fill="#fff" stroke="#111" stroke-width="1.12"/>
<circle cx="205.2" cy="802" r="2.65" fill="#fff" stroke="#111" stroke-width="1.12"/>
<circle cx="205.4" cy="781.8" r="2.65" fill="#fff" stroke="#111" stroke-width="1.12"/>
<circle cx="216.2" cy="870" r="2.65" fill="#fff" stroke="#111" stroke-width="1.12"/>
<circle cx="218.8" cy="870" r="2.65" fill="#fff" stroke="#111" stroke-width="1.12"/>
<circle cx="221.4" cy="870" r="2.65" fill="#fff" stroke="#111" stroke-width="1.12"/>
<circle cx="233.75" cy="815" r="2.65" fill="#fff" stroke="#111" stroke-width="1.12"/>
<circle cx="233.75" cy="785" r="2.65" fill="#fff" stroke="#111" stroke-width="1.12"/>
<circle cx="233.75" cy="766.8" r="2.65" fill="#fff" stroke="#111" stroke-width="1.12"/>
<path d="M89.6 802.4L89.6 797.5L147.3 797.5L147.3 803.4" fill="none" stroke="#222" stroke-width="0.95"/>
<text x="117.86" y="796.54" font-size="7.3" text-anchor="middle" letter-spacing="0.72" fill="#1a1a1a" stroke="#1a1a1a" stroke-width="0.25">*</text>
<path d="M90 839.5L90 808.6L118.4 808.6L118.4 813.8" fill="none" stroke="#222" stroke-width="0.95"/>
<text x="104.66" y="808.14" font-size="7.3" text-anchor="middle" letter-spacing="0.72" fill="#1a1a1a" stroke="#1a1a1a" stroke-width="0.25">***</text>
<path d="M175 764.6L175 760L234.1 760L234.1 763.4" fill="none" stroke="#222" stroke-width="0.95"/>
<text x="201.56" y="759.14" font-size="7.3" text-anchor="middle" letter-spacing="0.72" fill="#1a1a1a" stroke="#1a1a1a" stroke-width="0.25">*</text>
<path d="M175.6 821.6L175.6 768.2L205.4 768.2L205.4 778.6" fill="none" stroke="#222" stroke-width="0.95"/>
<text x="191.06" y="767.34" font-size="7.3" text-anchor="middle" letter-spacing="0.72" fill="#1a1a1a" stroke="#1a1a1a" stroke-width="0.25">*</text>
<text x="2" y="884.1" font-size="8.55" stroke="#1c1c1c" stroke-width="0.22">RSL3 100 nmol/L</text>
<text x="75.2" y="884.25" font-size="7.2" text-anchor="middle" fill="#222" stroke="#222" stroke-width="0.22">−</text>
<text x="89.57" y="884.25" font-size="7.2" text-anchor="middle" fill="#222" stroke="#222" stroke-width="0.22">+</text>
<text x="103.94" y="884.25" font-size="7.2" text-anchor="middle" fill="#222" stroke="#222" stroke-width="0.22">−</text>
<text x="118.31" y="884.25" font-size="7.2" text-anchor="middle" fill="#222" stroke="#222" stroke-width="0.22">+</text>
<text x="132.68" y="884.25" font-size="7.2" text-anchor="middle" fill="#222" stroke="#222" stroke-width="0.22">−</text>
<text x="147.05" y="884.25" font-size="7.2" text-anchor="middle" fill="#222" stroke="#222" stroke-width="0.22">+</text>
<text x="161.42" y="884.25" font-size="7.2" text-anchor="middle" fill="#222" stroke="#222" stroke-width="0.22">−</text>
<text x="175.79" y="884.25" font-size="7.2" text-anchor="middle" fill="#222" stroke="#222" stroke-width="0.22">+</text>
<text x="190.16" y="884.25" font-size="7.2" text-anchor="middle" fill="#222" stroke="#222" stroke-width="0.22">−</text>
<text x="204.53" y="884.25" font-size="7.2" text-anchor="middle" fill="#222" stroke="#222" stroke-width="0.22">+</text>
<text x="218.9" y="884.25" font-size="7.2" text-anchor="middle" fill="#222" stroke="#222" stroke-width="0.22">−</text>
<text x="233.27" y="884.25" font-size="7.2" text-anchor="middle" fill="#222" stroke="#222" stroke-width="0.22">+</text>
<text transform="translate(283.8 729.7) scale(0.9 1)" font-size="11.8" font-weight="bold" fill="#000">K</text>
<text x="372.3" y="727.6" font-size="8.55" text-anchor="middle" stroke="#1c1c1c" stroke-width="0.22">MOLM-14</text>
<line x1="332" y1="732" x2="415.8" y2="732" stroke="#777" stroke-width="1"/>
<text x="460.4" y="727.6" font-size="8.55" text-anchor="middle" stroke="#1c1c1c" stroke-width="0.22">MV4-11</text>
<line x1="419" y1="732" x2="503.9" y2="732" stroke="#777" stroke-width="1"/>
<text x="344.4" y="749.6" font-size="8.55" text-anchor="middle" stroke="#1c1c1c" stroke-width="0.22">shCTL</text>
<line x1="330" y1="752.5" x2="357.5" y2="752.5" stroke="#333" stroke-width="1"/>
<text x="374.2" y="741.3" font-size="8.55" text-anchor="middle" stroke="#1c1c1c" stroke-width="0.22">sh<tspan font-style="italic">SCD</tspan></text>
<text x="373.4" y="749.6" font-size="8.4" text-anchor="middle" stroke="#1c1c1c" stroke-width="0.22">#1</text>
<line x1="362" y1="752.5" x2="386.3" y2="752.5" stroke="#333" stroke-width="1"/>
<text x="402.9" y="741.3" font-size="8.55" text-anchor="middle" stroke="#1c1c1c" stroke-width="0.22">sh<tspan font-style="italic">SCD</tspan></text>
<text x="402.1" y="749.6" font-size="8.4" text-anchor="middle" stroke="#1c1c1c" stroke-width="0.22">#2</text>
<line x1="391.3" y1="752.5" x2="415" y2="752.5" stroke="#333" stroke-width="1"/>
<text x="460.8" y="741.3" font-size="8.55" text-anchor="middle" stroke="#1c1c1c" stroke-width="0.22">sh<tspan font-style="italic">SCD</tspan></text>
<text x="460" y="749.6" font-size="8.4" text-anchor="middle" stroke="#1c1c1c" stroke-width="0.22">#1</text>
<line x1="447.3" y1="752.5" x2="472.9" y2="752.5" stroke="#333" stroke-width="1"/>
<text x="489.7" y="741.3" font-size="8.55" text-anchor="middle" stroke="#1c1c1c" stroke-width="0.22">sh<tspan font-style="italic">SCD</tspan></text>
<text x="488.9" y="749.6" font-size="8.4" text-anchor="middle" stroke="#1c1c1c" stroke-width="0.22">#2</text>
<line x1="477" y1="752.5" x2="502.5" y2="752.5" stroke="#333" stroke-width="1"/>
<text x="431.2" y="749.6" font-size="8.55" text-anchor="middle" stroke="#1c1c1c" stroke-width="0.22">shCTL</text>
<line x1="419" y1="752.5" x2="444.6" y2="752.5" stroke="#333" stroke-width="1"/>
<line x1="359.5" y1="753" x2="359.5" y2="870" stroke="#7d7d7d" stroke-width="0.75" stroke-dasharray="0.85 0.85"/>
<line x1="388.7" y1="753" x2="388.7" y2="870" stroke="#7d7d7d" stroke-width="0.75" stroke-dasharray="0.85 0.85"/>
<line x1="446" y1="753" x2="446" y2="870" stroke="#7d7d7d" stroke-width="0.75" stroke-dasharray="0.85 0.85"/>
<line x1="474.8" y1="753" x2="474.8" y2="870" stroke="#7d7d7d" stroke-width="0.75" stroke-dasharray="0.85 0.85"/>
<line x1="416.9" y1="732" x2="416.9" y2="870.3" stroke="#8a8a8a" stroke-width="0.8"/>
<line x1="328.75" y1="752" x2="328.75" y2="870.8" stroke="#2a2a2a" stroke-width="1.08"/>
<line x1="321.95" y1="870.3" x2="328.75" y2="870.3" stroke="#2a2a2a" stroke-width="1.08"/>
<text x="319.55" y="873.27" font-size="8.3" text-anchor="end" stroke="#1c1c1c" stroke-width="0.22">0</text>
<line x1="321.95" y1="850.49" x2="328.75" y2="850.49" stroke="#2a2a2a" stroke-width="1.08"/>
<text x="319.55" y="853.46" font-size="8.3" text-anchor="end" stroke="#1c1c1c" stroke-width="0.22">20</text>
<line x1="321.95" y1="830.68" x2="328.75" y2="830.68" stroke="#2a2a2a" stroke-width="1.08"/>
<text x="319.55" y="833.65" font-size="8.3" text-anchor="end" stroke="#1c1c1c" stroke-width="0.22">40</text>
<line x1="321.95" y1="810.87" x2="328.75" y2="810.87" stroke="#2a2a2a" stroke-width="1.08"/>
<text x="319.55" y="813.84" font-size="8.3" text-anchor="end" stroke="#1c1c1c" stroke-width="0.22">60</text>
<line x1="321.95" y1="791.06" x2="328.75" y2="791.06" stroke="#2a2a2a" stroke-width="1.08"/>
<text x="319.55" y="794.03" font-size="8.3" text-anchor="end" stroke="#1c1c1c" stroke-width="0.22">80</text>
<line x1="321.95" y1="771.25" x2="328.75" y2="771.25" stroke="#2a2a2a" stroke-width="1.08"/>
<text x="319.55" y="774.22" font-size="8.3" text-anchor="end" stroke="#1c1c1c" stroke-width="0.22">100</text>
<text x="299.9" y="814.6" font-size="8.6" text-anchor="middle" transform="rotate(-90 299.9 814.6)" stroke="#1c1c1c" stroke-width="0.22">% Cell death (PI)</text>
<line x1="328.25" y1="870.3" x2="506" y2="870.3" stroke="#2a2a2a" stroke-width="1.08"/>
<line x1="337.4" y1="870.3" x2="337.4" y2="875.9" stroke="#2a2a2a" stroke-width="1.08"/>
<line x1="351.8" y1="870.3" x2="351.8" y2="875.9" stroke="#2a2a2a" stroke-width="1.08"/>
<line x1="366.2" y1="870.3" x2="366.2" y2="875.9" stroke="#2a2a2a" stroke-width="1.08"/>
<line x1="380.6" y1="870.3" x2="380.6" y2="875.9" stroke="#2a2a2a" stroke-width="1.08"/>
<line x1="395" y1="870.3" x2="395" y2="875.9" stroke="#2a2a2a" stroke-width="1.08"/>
<line x1="409.4" y1="870.3" x2="409.4" y2="875.9" stroke="#2a2a2a" stroke-width="1.08"/>
<line x1="423.8" y1="870.3" x2="423.8" y2="875.9" stroke="#2a2a2a" stroke-width="1.08"/>
<line x1="438.2" y1="870.3" x2="438.2" y2="875.9" stroke="#2a2a2a" stroke-width="1.08"/>
<line x1="452.6" y1="870.3" x2="452.6" y2="875.9" stroke="#2a2a2a" stroke-width="1.08"/>
<line x1="467" y1="870.3" x2="467" y2="875.9" stroke="#2a2a2a" stroke-width="1.08"/>
<line x1="481.4" y1="870.3" x2="481.4" y2="875.9" stroke="#2a2a2a" stroke-width="1.08"/>
<line x1="495.8" y1="870.3" x2="495.8" y2="875.9" stroke="#2a2a2a" stroke-width="1.08"/>
<rect x="332.85" y="860.99" width="9.1" height="9.31" fill="#626262" stroke="#222" stroke-width="0.35"/>
<rect x="347.25" y="856.43" width="9.1" height="13.87" fill="#0f7b80" stroke="#0a3f42" stroke-width="0.35"/>
<line x1="351.8" y1="858.41" x2="351.8" y2="853.96" stroke="#111" stroke-width="0.75"/>
<line x1="348.9" y1="853.96" x2="354.7" y2="853.96" stroke="#111" stroke-width="0.75"/>
<line x1="348.9" y1="858.41" x2="354.7" y2="858.41" stroke="#111" stroke-width="0.75"/>
<rect x="361.65" y="857.42" width="9.1" height="12.88" fill="#626262" stroke="#222" stroke-width="0.35"/>
<rect x="376.05" y="826.72" width="9.1" height="43.58" fill="#0f7b80" stroke="#0a3f42" stroke-width="0.35"/>
<line x1="380.6" y1="830.18" x2="380.6" y2="823.25" stroke="#111" stroke-width="0.75"/>
<line x1="377.7" y1="823.25" x2="383.5" y2="823.25" stroke="#111" stroke-width="0.75"/>
<line x1="377.7" y1="830.18" x2="383.5" y2="830.18" stroke="#111" stroke-width="0.75"/>
<rect x="390.45" y="860.39" width="9.1" height="9.9" fill="#626262" stroke="#222" stroke-width="0.35"/>
<rect x="404.85" y="822.26" width="9.1" height="48.04" fill="#0f7b80" stroke="#0a3f42" stroke-width="0.35"/>
<line x1="409.4" y1="827.71" x2="409.4" y2="816.81" stroke="#111" stroke-width="0.75"/>
<line x1="406.5" y1="816.81" x2="412.3" y2="816.81" stroke="#111" stroke-width="0.75"/>
<line x1="406.5" y1="827.71" x2="412.3" y2="827.71" stroke="#111" stroke-width="0.75"/>
<rect x="419.25" y="862.38" width="9.1" height="7.92" fill="#626262" stroke="#222" stroke-width="0.35"/>
<rect x="433.65" y="837.02" width="9.1" height="33.28" fill="#0f7b80" stroke="#0a3f42" stroke-width="0.35"/>
<line x1="438.2" y1="842.07" x2="438.2" y2="832.17" stroke="#111" stroke-width="0.75"/>
<line x1="435.3" y1="832.17" x2="441.1" y2="832.17" stroke="#111" stroke-width="0.75"/>
<line x1="435.3" y1="842.07" x2="441.1" y2="842.07" stroke="#111" stroke-width="0.75"/>
<rect x="448.05" y="861.98" width="9.1" height="8.32" fill="#626262" stroke="#222" stroke-width="0.35"/>
<rect x="462.45" y="783.14" width="9.1" height="87.16" fill="#0f7b80" stroke="#0a3f42" stroke-width="0.35"/>
<line x1="467" y1="791.06" x2="467" y2="775.21" stroke="#111" stroke-width="0.75"/>
<line x1="464.1" y1="775.21" x2="469.9" y2="775.21" stroke="#111" stroke-width="0.75"/>
<line x1="464.1" y1="791.06" x2="469.9" y2="791.06" stroke="#111" stroke-width="0.75"/>
<rect x="476.85" y="859.9" width="9.1" height="10.4" fill="#626262" stroke="#222" stroke-width="0.35"/>
<rect x="491.25" y="786.11" width="9.1" height="84.19" fill="#0f7b80" stroke="#0a3f42" stroke-width="0.35"/>
<line x1="495.8" y1="790.07" x2="495.8" y2="780.66" stroke="#111" stroke-width="0.75"/>
<line x1="492.9" y1="780.66" x2="498.7" y2="780.66" stroke="#111" stroke-width="0.75"/>
<line x1="492.9" y1="790.07" x2="498.7" y2="790.07" stroke="#111" stroke-width="0.75"/>
<circle cx="335" cy="860.8" r="2.65" fill="#fff" stroke="#111" stroke-width="1.12"/>
<circle cx="340" cy="860.5" r="2.65" fill="#fff" stroke="#111" stroke-width="1.12"/>
<circle cx="337.5" cy="860" r="2.65" fill="#fff" stroke="#111" stroke-width="1.12"/>
<circle cx="350" cy="857.5" r="2.65" fill="#fff" stroke="#111" stroke-width="1.12"/>
<circle cx="355" cy="855" r="2.65" fill="#fff" stroke="#111" stroke-width="1.12"/>
<circle cx="352" cy="852.5" r="2.65" fill="#fff" stroke="#111" stroke-width="1.12"/>
<circle cx="363.8" cy="856.3" r="2.65" fill="#fff" stroke="#111" stroke-width="1.12"/>
<circle cx="369.2" cy="856.3" r="2.65" fill="#fff" stroke="#111" stroke-width="1.12"/>
<circle cx="366.3" cy="855.5" r="2.65" fill="#fff" stroke="#111" stroke-width="1.12"/>
<circle cx="381.3" cy="831.3" r="2.65" fill="#fff" stroke="#111" stroke-width="1.12"/>
<circle cx="378.8" cy="823.3" r="2.65" fill="#fff" stroke="#111" stroke-width="1.12"/>
<circle cx="383.8" cy="825.8" r="2.65" fill="#fff" stroke="#111" stroke-width="1.12"/>
<circle cx="393" cy="858.8" r="2.65" fill="#fff" stroke="#111" stroke-width="1.12"/>
<circle cx="397.5" cy="858.8" r="2.65" fill="#fff" stroke="#111" stroke-width="1.12"/>
<circle cx="395.2" cy="858" r="2.65" fill="#fff" stroke="#111" stroke-width="1.12"/>
<circle cx="409.6" cy="832.5" r="2.65" fill="#fff" stroke="#111" stroke-width="1.12"/>
<circle cx="407.5" cy="815.6" r="2.65" fill="#fff" stroke="#111" stroke-width="1.12"/>
<circle cx="411.8" cy="819" r="2.65" fill="#fff" stroke="#111" stroke-width="1.12"/>
<circle cx="421.7" cy="861.9" r="2.65" fill="#fff" stroke="#111" stroke-width="1.12"/>
<circle cx="425.8" cy="860.8" r="2.65" fill="#fff" stroke="#111" stroke-width="1.12"/>
<circle cx="423.8" cy="860.6" r="2.65" fill="#fff" stroke="#111" stroke-width="1.12"/>
<circle cx="438.4" cy="843" r="2.65" fill="#fff" stroke="#111" stroke-width="1.12"/>
<circle cx="438.4" cy="836.3" r="2.65" fill="#fff" stroke="#111" stroke-width="1.12"/>
<circle cx="438.4" cy="830.9" r="2.65" fill="#fff" stroke="#111" stroke-width="1.12"/>
<circle cx="450.5" cy="860.8" r="2.65" fill="#fff" stroke="#111" stroke-width="1.12"/>
<circle cx="454.9" cy="859.5" r="2.65" fill="#fff" stroke="#111" stroke-width="1.12"/>
<circle cx="452.6" cy="859.8" r="2.65" fill="#fff" stroke="#111" stroke-width="1.12"/>
<circle cx="467" cy="798.5" r="2.65" fill="#fff" stroke="#111" stroke-width="1.12"/>
<circle cx="464.8" cy="772.9" r="2.65" fill="#fff" stroke="#111" stroke-width="1.12"/>
<circle cx="469.4" cy="777.7" r="2.65" fill="#fff" stroke="#111" stroke-width="1.12"/>
<circle cx="479.6" cy="858.7" r="2.65" fill="#fff" stroke="#111" stroke-width="1.12"/>
<circle cx="483.7" cy="857.3" r="2.65" fill="#fff" stroke="#111" stroke-width="1.12"/>
<circle cx="481.5" cy="857" r="2.65" fill="#fff" stroke="#111" stroke-width="1.12"/>
<circle cx="493.6" cy="793" r="2.65" fill="#fff" stroke="#111" stroke-width="1.12"/>
<circle cx="498.5" cy="788.2" r="2.65" fill="#fff" stroke="#111" stroke-width="1.12"/>
<circle cx="495.8" cy="776.4" r="2.65" fill="#fff" stroke="#111" stroke-width="1.12"/>
<path d="M352 802.4L352 797.5L409.6 797.5L409.6 802" fill="none" stroke="#222" stroke-width="0.95"/>
<text x="381.16" y="796.54" font-size="7.3" text-anchor="middle" letter-spacing="0.72" fill="#1a1a1a" stroke="#1a1a1a" stroke-width="0.25">**</text>
<path d="M352.2 838.8L352.2 808.3L380.8 808.3L380.8 813.8" fill="none" stroke="#222" stroke-width="0.95"/>
<text x="366.96" y="807.74" font-size="7.3" text-anchor="middle" letter-spacing="0.72" fill="#1a1a1a" stroke="#1a1a1a" stroke-width="0.25">***</text>
<path d="M438.3 763.2L438.3 758.9L496.3 758.9L496.3 764.3" fill="none" stroke="#222" stroke-width="0.95"/>
<text x="466.56" y="759.24" font-size="7.3" text-anchor="middle" letter-spacing="0.72" fill="#1a1a1a" stroke="#1a1a1a" stroke-width="0.25">**</text>
<path d="M438.7 821L438.7 768L467.5 768L467.5 770.2" fill="none" stroke="#222" stroke-width="0.95"/>
<text x="452.56" y="767.44" font-size="7.3" text-anchor="middle" letter-spacing="0.72" fill="#1a1a1a" stroke="#1a1a1a" stroke-width="0.25">**</text>
<text x="267.8" y="883.4" font-size="8.55" stroke="#1c1c1c" stroke-width="0.22">RSL3 100 nmol/L</text>
<text x="337.4" y="884.25" font-size="7.2" text-anchor="middle" fill="#222" stroke="#222" stroke-width="0.22">−</text>
<text x="351.8" y="884.25" font-size="7.2" text-anchor="middle" fill="#222" stroke="#222" stroke-width="0.22">+</text>
<text x="366.2" y="884.25" font-size="7.2" text-anchor="middle" fill="#222" stroke="#222" stroke-width="0.22">−</text>
<text x="380.6" y="884.25" font-size="7.2" text-anchor="middle" fill="#222" stroke="#222" stroke-width="0.22">+</text>
<text x="395" y="884.25" font-size="7.2" text-anchor="middle" fill="#222" stroke="#222" stroke-width="0.22">−</text>
<text x="409.4" y="884.25" font-size="7.2" text-anchor="middle" fill="#222" stroke="#222" stroke-width="0.22">+</text>
<text x="423.8" y="884.25" font-size="7.2" text-anchor="middle" fill="#222" stroke="#222" stroke-width="0.22">−</text>
<text x="438.2" y="884.25" font-size="7.2" text-anchor="middle" fill="#222" stroke="#222" stroke-width="0.22">+</text>
<text x="452.6" y="884.25" font-size="7.2" text-anchor="middle" fill="#222" stroke="#222" stroke-width="0.22">−</text>
<text x="467" y="884.25" font-size="7.2" text-anchor="middle" fill="#222" stroke="#222" stroke-width="0.22">+</text>
<text x="481.4" y="884.25" font-size="7.2" text-anchor="middle" fill="#222" stroke="#222" stroke-width="0.22">−</text>
<text x="495.8" y="884.25" font-size="7.2" text-anchor="middle" fill="#222" stroke="#222" stroke-width="0.22">+</text>
<text transform="translate(0 912.8) scale(0.9 1)" font-size="11.8" font-weight="bold" fill="#000">L</text>
<text x="76.9" y="910.5" font-size="8.5" text-anchor="middle" font-weight="bold" fill="#000" stroke="#000" stroke-width="0.13">MOLM-14</text>
<text x="76" y="924" font-size="8.55" text-anchor="middle" stroke="#1c1c1c" stroke-width="0.22">QUIZ (nmol/L)</text>
<text x="37.98" y="936.9" font-size="8.3" text-anchor="middle" stroke="#1c1c1c" stroke-width="0.22">0</text>
<line x1="37.98" y1="940.2" x2="37.98" y2="945" stroke="#2a2a2a" stroke-width="0.85"/>
<text x="53.23" y="936.9" font-size="8.3" text-anchor="middle" stroke="#1c1c1c" stroke-width="0.22">0.1</text>
<line x1="53.23" y1="940.2" x2="53.23" y2="945" stroke="#2a2a2a" stroke-width="0.85"/>
<text x="68.47" y="936.9" font-size="8.3" text-anchor="middle" stroke="#1c1c1c" stroke-width="0.22">0.3</text>
<line x1="68.47" y1="940.2" x2="68.47" y2="945" stroke="#2a2a2a" stroke-width="0.85"/>
<text x="83.72" y="936.9" font-size="8.3" text-anchor="middle" stroke="#1c1c1c" stroke-width="0.22">1</text>
<line x1="83.72" y1="940.2" x2="83.72" y2="945" stroke="#2a2a2a" stroke-width="0.85"/>
<text x="98.97" y="936.9" font-size="8.3" text-anchor="middle" stroke="#1c1c1c" stroke-width="0.22">3</text>
<line x1="98.97" y1="940.2" x2="98.97" y2="945" stroke="#2a2a2a" stroke-width="0.85"/>
<text x="114.22" y="936.9" font-size="8.3" text-anchor="middle" stroke="#1c1c1c" stroke-width="0.22">10</text>
<line x1="114.22" y1="940.2" x2="114.22" y2="945" stroke="#2a2a2a" stroke-width="0.85"/>
<rect x="30.3" y="944.95" width="15.35" height="15.33" fill="#f9c2c4"/>
<rect x="45.55" y="944.95" width="15.35" height="15.33" fill="#facacc"/>
<rect x="60.8" y="944.95" width="15.35" height="15.33" fill="#fbd8d9"/>
<rect x="76.05" y="944.95" width="15.35" height="15.33" fill="#e7828a"/>
<rect x="91.3" y="944.95" width="15.35" height="15.33" fill="#d62835"/>
<rect x="106.55" y="944.95" width="15.35" height="15.33" fill="#d62533"/>
<rect x="30.3" y="960.18" width="15.35" height="15.33" fill="#fad1d2"/>
<rect x="45.55" y="960.18" width="15.35" height="15.33" fill="#fbd7d9"/>
<rect x="60.8" y="960.18" width="15.35" height="15.33" fill="#fde9ea"/>
<rect x="76.05" y="960.18" width="15.35" height="15.33" fill="#e1616b"/>
<rect x="91.3" y="960.18" width="15.35" height="15.33" fill="#d62735"/>
<rect x="106.55" y="960.18" width="15.35" height="15.33" fill="#d62533"/>
<rect x="30.3" y="975.42" width="15.35" height="15.33" fill="#fbd4d5"/>
<rect x="45.55" y="975.42" width="15.35" height="15.33" fill="#fbdbdc"/>
<rect x="60.8" y="975.42" width="15.35" height="15.33" fill="#fce6e6"/>
<rect x="76.05" y="975.42" width="15.35" height="15.33" fill="#e05d67"/>
<rect x="91.3" y="975.42" width="15.35" height="15.33" fill="#d62735"/>
<rect x="106.55" y="975.42" width="15.35" height="15.33" fill="#d62533"/>
<rect x="30.3" y="990.65" width="15.35" height="15.33" fill="#fbd9da"/>
<rect x="45.55" y="990.65" width="15.35" height="15.33" fill="#fce2e3"/>
<rect x="60.8" y="990.65" width="15.35" height="15.33" fill="#fdedee"/>
<rect x="76.05" y="990.65" width="15.35" height="15.33" fill="#d93542"/>
<rect x="91.3" y="990.65" width="15.35" height="15.33" fill="#d62634"/>
<rect x="106.55" y="990.65" width="15.35" height="15.33" fill="#d52432"/>
<rect x="30.3" y="1005.88" width="15.35" height="15.33" fill="#fce4e5"/>
<rect x="45.55" y="1005.88" width="15.35" height="15.33" fill="#fdeced"/>
<rect x="60.8" y="1005.88" width="15.35" height="15.33" fill="#eda0a6"/>
<rect x="76.05" y="1005.88" width="15.35" height="15.33" fill="#d72b38"/>
<rect x="91.3" y="1005.88" width="15.35" height="15.33" fill="#d62533"/>
<rect x="106.55" y="1005.88" width="15.35" height="15.33" fill="#d52432"/>
<rect x="30.3" y="1021.12" width="15.35" height="15.33" fill="#fdeaeb"/>
<rect x="45.55" y="1021.12" width="15.35" height="15.33" fill="#fbebec"/>
<rect x="60.8" y="1021.12" width="15.35" height="15.33" fill="#e78088"/>
<rect x="76.05" y="1021.12" width="15.35" height="15.33" fill="#d62533"/>
<rect x="91.3" y="1021.12" width="15.35" height="15.33" fill="#d52432"/>
<rect x="106.55" y="1021.12" width="15.35" height="15.33" fill="#d52230"/>
<text x="37.98" y="954.42" font-size="5.1" text-anchor="middle" fill="#2a2020" stroke="#2a2020" stroke-width="0.22">100.0</text>
<text x="53.23" y="954.42" font-size="5.1" text-anchor="middle" fill="#2a2020" stroke="#2a2020" stroke-width="0.22">89.3</text>
<text x="68.47" y="954.42" font-size="5.1" text-anchor="middle" fill="#2a2020" stroke="#2a2020" stroke-width="0.22">73.7</text>
<text x="83.72" y="954.42" font-size="5.1" text-anchor="middle" fill="#2a2020" stroke="#2a2020" stroke-width="0.22">23.2</text>
<text x="98.97" y="954.42" font-size="5.1" text-anchor="middle" fill="#2a2020" stroke="#2a2020" stroke-width="0.22">1.5</text>
<text x="114.22" y="954.42" font-size="5.1" text-anchor="middle" fill="#2a2020" stroke="#2a2020" stroke-width="0.22">0.8</text>
<text x="37.98" y="969.65" font-size="5.1" text-anchor="middle" fill="#2a2020" stroke="#2a2020" stroke-width="0.22">81.3</text>
<text x="53.23" y="969.65" font-size="5.1" text-anchor="middle" fill="#2a2020" stroke="#2a2020" stroke-width="0.22">74.5</text>
<text x="68.47" y="969.65" font-size="5.1" text-anchor="middle" fill="#2a2020" stroke="#2a2020" stroke-width="0.22">59.2</text>
<text x="83.72" y="969.65" font-size="5.1" text-anchor="middle" fill="#2a2020" stroke="#2a2020" stroke-width="0.22">15.3</text>
<text x="98.97" y="969.65" font-size="5.1" text-anchor="middle" fill="#2a2020" stroke="#2a2020" stroke-width="0.22">1.4</text>
<text x="114.22" y="969.65" font-size="5.1" text-anchor="middle" fill="#2a2020" stroke="#2a2020" stroke-width="0.22">0.9</text>
<text x="37.98" y="984.88" font-size="5.1" text-anchor="middle" fill="#2a2020" stroke="#2a2020" stroke-width="0.22">78.1</text>
<text x="53.23" y="984.88" font-size="5.1" text-anchor="middle" fill="#2a2020" stroke="#2a2020" stroke-width="0.22">70.8</text>
<text x="68.47" y="984.88" font-size="5.1" text-anchor="middle" fill="#2a2020" stroke="#2a2020" stroke-width="0.22">61.7</text>
<text x="83.72" y="984.88" font-size="5.1" text-anchor="middle" fill="#2a2020" stroke="#2a2020" stroke-width="0.22">14.3</text>
<text x="98.97" y="984.88" font-size="5.1" text-anchor="middle" fill="#2a2020" stroke="#2a2020" stroke-width="0.22">1.4</text>
<text x="114.22" y="984.88" font-size="5.1" text-anchor="middle" fill="#2a2020" stroke="#2a2020" stroke-width="0.22">0.9</text>
<text x="37.98" y="1000.12" font-size="5.1" text-anchor="middle" fill="#2a2020" stroke="#2a2020" stroke-width="0.22">73.0</text>
<text x="53.23" y="1000.12" font-size="5.1" text-anchor="middle" fill="#2a2020" stroke="#2a2020" stroke-width="0.22">64.4</text>
<text x="68.47" y="1000.12" font-size="5.1" text-anchor="middle" fill="#2a2020" stroke="#2a2020" stroke-width="0.22">56.5</text>
<text x="83.72" y="1000.12" font-size="5.1" text-anchor="middle" fill="#2a2020" stroke="#2a2020" stroke-width="0.22">4.8</text>
<text x="98.97" y="1000.12" font-size="5.1" text-anchor="middle" fill="#2a2020" stroke="#2a2020" stroke-width="0.22">1.1</text>
<text x="114.22" y="1000.12" font-size="5.1" text-anchor="middle" fill="#2a2020" stroke="#2a2020" stroke-width="0.22">0.7</text>
<text x="37.98" y="1015.35" font-size="5.1" text-anchor="middle" fill="#2a2020" stroke="#2a2020" stroke-width="0.22">62.5</text>
<text x="53.23" y="1015.35" font-size="5.1" text-anchor="middle" fill="#2a2020" stroke="#2a2020" stroke-width="0.22">56.9</text>
<text x="68.47" y="1015.35" font-size="5.1" text-anchor="middle" fill="#2a2020" stroke="#2a2020" stroke-width="0.22">30.1</text>
<text x="83.72" y="1015.35" font-size="5.1" text-anchor="middle" fill="#2a2020" stroke="#2a2020" stroke-width="0.22">2.3</text>
<text x="98.97" y="1015.35" font-size="5.1" text-anchor="middle" fill="#2a2020" stroke="#2a2020" stroke-width="0.22">0.8</text>
<text x="114.22" y="1015.35" font-size="5.1" text-anchor="middle" fill="#2a2020" stroke="#2a2020" stroke-width="0.22">0.7</text>
<text x="37.98" y="1030.58" font-size="5.1" text-anchor="middle" fill="#2a2020" stroke="#2a2020" stroke-width="0.22">58.3</text>
<text x="53.23" y="1030.58" font-size="5.1" text-anchor="middle" fill="#2a2020" stroke="#2a2020" stroke-width="0.22">46.4</text>
<text x="68.47" y="1030.58" font-size="5.1" text-anchor="middle" fill="#2a2020" stroke="#2a2020" stroke-width="0.22">22.6</text>
<text x="83.72" y="1030.58" font-size="5.1" text-anchor="middle" fill="#2a2020" stroke="#2a2020" stroke-width="0.22">0.9</text>
<text x="98.97" y="1030.58" font-size="5.1" text-anchor="middle" fill="#2a2020" stroke="#2a2020" stroke-width="0.22">0.5</text>
<text x="114.22" y="1030.58" font-size="5.1" text-anchor="middle" fill="#2a2020" stroke="#2a2020" stroke-width="0.22">0.1</text>
<rect x="30.35" y="945" width="91.5" height="91.4" fill="none" stroke="#1e1e1e" stroke-width="0.85" rx="0.8"/>
<rect x="45.55" y="1058.18" width="15.35" height="15.33" fill="#f2cacc"/>
<rect x="45.55" y="1073.42" width="15.35" height="15.33" fill="#f5d5d8"/>
<rect x="76.05" y="1088.65" width="15.35" height="15.33" fill="#e9a7ac"/>
<rect x="60.8" y="1103.88" width="15.35" height="15.33" fill="#d24a54"/>
<rect x="76.05" y="1103.88" width="15.35" height="15.33" fill="#e5969c"/>
<rect x="45.55" y="1119.12" width="15.35" height="15.33" fill="#ebb0b4"/>
<rect x="60.8" y="1119.12" width="15.35" height="15.33" fill="#c71e2a"/>
<rect x="76.05" y="1119.12" width="15.35" height="15.33" fill="#e7a0a5"/>
<text x="37.98" y="1052.42" font-size="5.1" text-anchor="middle" fill="#2a2020" stroke="#2a2020" stroke-width="0.22">0</text>
<text x="53.23" y="1052.42" font-size="5.1" text-anchor="middle" fill="#2a2020" stroke="#2a2020" stroke-width="0.22">0</text>
<text x="68.47" y="1052.42" font-size="5.1" text-anchor="middle" fill="#2a2020" stroke="#2a2020" stroke-width="0.22">0</text>
<text x="83.72" y="1052.42" font-size="5.1" text-anchor="middle" fill="#2a2020" stroke="#2a2020" stroke-width="0.22">0</text>
<text x="98.97" y="1052.42" font-size="5.1" text-anchor="middle" fill="#2a2020" stroke="#2a2020" stroke-width="0.22">0</text>
<text x="114.22" y="1052.42" font-size="5.1" text-anchor="middle" fill="#2a2020" stroke="#2a2020" stroke-width="0.22">0</text>
<text x="37.98" y="1067.65" font-size="5.1" text-anchor="middle" fill="#2a2020" stroke="#2a2020" stroke-width="0.22">0</text>
<text x="53.23" y="1067.65" font-size="5.1" text-anchor="middle" fill="#2a2020" stroke="#2a2020" stroke-width="0.22">12.8</text>
<text x="68.47" y="1067.65" font-size="5.1" text-anchor="middle" fill="#2a2020" stroke="#2a2020" stroke-width="0.22">6.9</text>
<text x="83.72" y="1067.65" font-size="5.1" text-anchor="middle" fill="#2a2020" stroke="#2a2020" stroke-width="0.22">6.9</text>
<text x="98.97" y="1067.65" font-size="5.1" text-anchor="middle" fill="#2a2020" stroke="#2a2020" stroke-width="0.22">1.2</text>
<text x="114.22" y="1067.65" font-size="5.1" text-anchor="middle" fill="#2a2020" stroke="#2a2020" stroke-width="0.22">−1.2</text>
<text x="37.98" y="1082.88" font-size="5.1" text-anchor="middle" fill="#2a2020" stroke="#2a2020" stroke-width="0.22">0</text>
<text x="53.23" y="1082.88" font-size="5.1" text-anchor="middle" fill="#2a2020" stroke="#2a2020" stroke-width="0.22">11.9</text>
<text x="68.47" y="1082.88" font-size="5.1" text-anchor="middle" fill="#2a2020" stroke="#2a2020" stroke-width="0.22">6.3</text>
<text x="83.72" y="1082.88" font-size="5.1" text-anchor="middle" fill="#2a2020" stroke="#2a2020" stroke-width="0.22">8.1</text>
<text x="98.97" y="1082.88" font-size="5.1" text-anchor="middle" fill="#2a2020" stroke="#2a2020" stroke-width="0.22">1.3</text>
<text x="114.22" y="1082.88" font-size="5.1" text-anchor="middle" fill="#2a2020" stroke="#2a2020" stroke-width="0.22">−1.1</text>
<text x="37.98" y="1098.12" font-size="5.1" text-anchor="middle" fill="#2a2020" stroke="#2a2020" stroke-width="0.22">0</text>
<text x="53.23" y="1098.12" font-size="5.1" text-anchor="middle" fill="#2a2020" stroke="#2a2020" stroke-width="0.22">8.8</text>
<text x="68.47" y="1098.12" font-size="5.1" text-anchor="middle" fill="#2a2020" stroke="#2a2020" stroke-width="0.22">6.7</text>
<text x="83.72" y="1098.12" font-size="5.1" text-anchor="middle" fill="#2a2020" stroke="#2a2020" stroke-width="0.22">15.8</text>
<text x="98.97" y="1098.12" font-size="5.1" text-anchor="middle" fill="#2a2020" stroke="#2a2020" stroke-width="0.22">1.5</text>
<text x="114.22" y="1098.12" font-size="5.1" text-anchor="middle" fill="#2a2020" stroke="#2a2020" stroke-width="0.22">−0.8</text>
<text x="37.98" y="1113.35" font-size="5.1" text-anchor="middle" fill="#2a2020" stroke="#2a2020" stroke-width="0.22">0</text>
<text x="53.23" y="1113.35" font-size="5.1" text-anchor="middle" fill="#2a2020" stroke="#2a2020" stroke-width="0.22">9.5</text>
<text x="68.47" y="1113.35" font-size="5.1" text-anchor="middle" fill="#2a2020" stroke="#2a2020" stroke-width="0.22">25.9</text>
<text x="83.72" y="1113.35" font-size="5.1" text-anchor="middle" fill="#2a2020" stroke="#2a2020" stroke-width="0.22">17.5</text>
<text x="98.97" y="1113.35" font-size="5.1" text-anchor="middle" fill="#2a2020" stroke="#2a2020" stroke-width="0.22">1.1</text>
<text x="114.22" y="1113.35" font-size="5.1" text-anchor="middle" fill="#2a2020" stroke="#2a2020" stroke-width="0.22">−1.1</text>
<text x="37.98" y="1128.58" font-size="5.1" text-anchor="middle" fill="#2a2020" stroke="#2a2020" stroke-width="0.22">0</text>
<text x="53.23" y="1128.58" font-size="5.1" text-anchor="middle" fill="#2a2020" stroke="#2a2020" stroke-width="0.22">15.0</text>
<text x="68.47" y="1128.58" font-size="5.1" text-anchor="middle" fill="#2a2020" stroke="#2a2020" stroke-width="0.22">31.4</text>
<text x="83.72" y="1128.58" font-size="5.1" text-anchor="middle" fill="#2a2020" stroke="#2a2020" stroke-width="0.22">16.5</text>
<text x="98.97" y="1128.58" font-size="5.1" text-anchor="middle" fill="#2a2020" stroke="#2a2020" stroke-width="0.22">1.6</text>
<text x="114.22" y="1128.58" font-size="5.1" text-anchor="middle" fill="#2a2020" stroke="#2a2020" stroke-width="0.22">−0.7</text>
<rect x="30.35" y="1043" width="91.5" height="91.4" fill="none" stroke="#1e1e1e" stroke-width="0.85" rx="0.8"/>
<text x="170.4" y="910.5" font-size="8.5" text-anchor="middle" font-weight="bold" fill="#000" stroke="#000" stroke-width="0.13">MV4-11</text>
<text x="171" y="924" font-size="8.55" text-anchor="middle" stroke="#1c1c1c" stroke-width="0.22">QUIZ (nmol/L)</text>
<text x="133.18" y="936.9" font-size="8.3" text-anchor="middle" stroke="#1c1c1c" stroke-width="0.22">0</text>
<line x1="133.18" y1="940.2" x2="133.18" y2="945" stroke="#2a2a2a" stroke-width="0.85"/>
<text x="148.43" y="936.9" font-size="8.3" text-anchor="middle" stroke="#1c1c1c" stroke-width="0.22">0.1</text>
<line x1="148.43" y1="940.2" x2="148.43" y2="945" stroke="#2a2a2a" stroke-width="0.85"/>
<text x="163.68" y="936.9" font-size="8.3" text-anchor="middle" stroke="#1c1c1c" stroke-width="0.22">0.3</text>
<line x1="163.68" y1="940.2" x2="163.68" y2="945" stroke="#2a2a2a" stroke-width="0.85"/>
<text x="178.93" y="936.9" font-size="8.3" text-anchor="middle" stroke="#1c1c1c" stroke-width="0.22">1</text>
<line x1="178.93" y1="940.2" x2="178.93" y2="945" stroke="#2a2a2a" stroke-width="0.85"/>
<text x="194.18" y="936.9" font-size="8.3" text-anchor="middle" stroke="#1c1c1c" stroke-width="0.22">3</text>
<line x1="194.18" y1="940.2" x2="194.18" y2="945" stroke="#2a2a2a" stroke-width="0.85"/>
<text x="209.43" y="936.9" font-size="8.3" text-anchor="middle" stroke="#1c1c1c" stroke-width="0.22">10</text>
<line x1="209.43" y1="940.2" x2="209.43" y2="945" stroke="#2a2a2a" stroke-width="0.85"/>
<rect x="125.5" y="944.95" width="15.35" height="15.33" fill="#f9c3c4"/>
<rect x="140.75" y="944.95" width="15.35" height="15.33" fill="#fbd7d8"/>
<rect x="156" y="944.95" width="15.35" height="15.33" fill="#fefcfc"/>
<rect x="171.25" y="944.95" width="15.35" height="15.33" fill="#db424e"/>
<rect x="186.5" y="944.95" width="15.35" height="15.33" fill="#d72c39"/>
<rect x="201.75" y="944.95" width="15.35" height="15.33" fill="#d62836"/>
<rect x="125.5" y="960.18" width="15.35" height="15.33" fill="#f9c2c4"/>
<rect x="140.75" y="960.18" width="15.35" height="15.33" fill="#fce2e3"/>
<rect x="156" y="960.18" width="15.35" height="15.33" fill="#fffcfd"/>
<rect x="171.25" y="960.18" width="15.35" height="15.33" fill="#dc4551"/>
<rect x="186.5" y="960.18" width="15.35" height="15.33" fill="#d72c39"/>
<rect x="201.75" y="960.18" width="15.35" height="15.33" fill="#d62735"/>
<rect x="125.5" y="975.42" width="15.35" height="15.33" fill="#f9c4c6"/>
<rect x="140.75" y="975.42" width="15.35" height="15.33" fill="#fde6e7"/>
<rect x="156" y="975.42" width="15.35" height="15.33" fill="#f7d4d6"/>
<rect x="171.25" y="975.42" width="15.35" height="15.33" fill="#dc4954"/>
<rect x="186.5" y="975.42" width="15.35" height="15.33" fill="#d72a38"/>
<rect x="201.75" y="975.42" width="15.35" height="15.33" fill="#d62735"/>
<rect x="125.5" y="990.65" width="15.35" height="15.33" fill="#f9c7c9"/>
<rect x="140.75" y="990.65" width="15.35" height="15.33" fill="#fbd8d9"/>
<rect x="156" y="990.65" width="15.35" height="15.33" fill="#fef6f6"/>
<rect x="171.25" y="990.65" width="15.35" height="15.33" fill="#dd4b57"/>
<rect x="186.5" y="990.65" width="15.35" height="15.33" fill="#d62836"/>
<rect x="201.75" y="990.65" width="15.35" height="15.33" fill="#d62633"/>
<rect x="125.5" y="1005.88" width="15.35" height="15.33" fill="#fbd8d9"/>
<rect x="140.75" y="1005.88" width="15.35" height="15.33" fill="#f8d9db"/>
<rect x="156" y="1005.88" width="15.35" height="15.33" fill="#eb979e"/>
<rect x="171.25" y="1005.88" width="15.35" height="15.33" fill="#d93844"/>
<rect x="186.5" y="1005.88" width="15.35" height="15.33" fill="#d62633"/>
<rect x="201.75" y="1005.88" width="15.35" height="15.33" fill="#d52432"/>
<rect x="125.5" y="1021.12" width="15.35" height="15.33" fill="#e7838b"/>
<rect x="140.75" y="1021.12" width="15.35" height="15.33" fill="#db434f"/>
<rect x="156" y="1021.12" width="15.35" height="15.33" fill="#da3e4a"/>
<rect x="171.25" y="1021.12" width="15.35" height="15.33" fill="#d72a38"/>
<rect x="186.5" y="1021.12" width="15.35" height="15.33" fill="#d52331"/>
<rect x="201.75" y="1021.12" width="15.35" height="15.33" fill="#d52230"/>
<text x="133.18" y="954.42" font-size="5.1" text-anchor="middle" fill="#2a2020" stroke="#2a2020" stroke-width="0.22">100.0</text>
<text x="148.43" y="954.42" font-size="5.1" text-anchor="middle" fill="#2a2020" stroke="#2a2020" stroke-width="0.22">75.3</text>
<text x="163.68" y="954.42" font-size="5.1" text-anchor="middle" fill="#2a2020" stroke="#2a2020" stroke-width="0.22">50.0</text>
<text x="178.93" y="954.42" font-size="5.1" text-anchor="middle" fill="#2a2020" stroke="#2a2020" stroke-width="0.22">8.1</text>
<text x="194.18" y="954.42" font-size="5.1" text-anchor="middle" fill="#2a2020" stroke="#2a2020" stroke-width="0.22">2.6</text>
<text x="209.43" y="954.42" font-size="5.1" text-anchor="middle" fill="#2a2020" stroke="#2a2020" stroke-width="0.22">1.8</text>
<text x="133.18" y="969.65" font-size="5.1" text-anchor="middle" fill="#2a2020" stroke="#2a2020" stroke-width="0.22">100.7</text>
<text x="148.43" y="969.65" font-size="5.1" text-anchor="middle" fill="#2a2020" stroke="#2a2020" stroke-width="0.22">64.7</text>
<text x="163.68" y="969.65" font-size="5.1" text-anchor="middle" fill="#2a2020" stroke="#2a2020" stroke-width="0.22">50.7</text>
<text x="178.93" y="969.65" font-size="5.1" text-anchor="middle" fill="#2a2020" stroke="#2a2020" stroke-width="0.22">8.8</text>
<text x="194.18" y="969.65" font-size="5.1" text-anchor="middle" fill="#2a2020" stroke="#2a2020" stroke-width="0.22">2.6</text>
<text x="209.43" y="969.65" font-size="5.1" text-anchor="middle" fill="#2a2020" stroke="#2a2020" stroke-width="0.22">1.4</text>
<text x="133.18" y="984.88" font-size="5.1" text-anchor="middle" fill="#2a2020" stroke="#2a2020" stroke-width="0.22">98.3</text>
<text x="148.43" y="984.88" font-size="5.1" text-anchor="middle" fill="#2a2020" stroke="#2a2020" stroke-width="0.22">62.0</text>
<text x="163.68" y="984.88" font-size="5.1" text-anchor="middle" fill="#2a2020" stroke="#2a2020" stroke-width="0.22">41.9</text>
<text x="178.93" y="984.88" font-size="5.1" text-anchor="middle" fill="#2a2020" stroke="#2a2020" stroke-width="0.22">9.7</text>
<text x="194.18" y="984.88" font-size="5.1" text-anchor="middle" fill="#2a2020" stroke="#2a2020" stroke-width="0.22">2.2</text>
<text x="209.43" y="984.88" font-size="5.1" text-anchor="middle" fill="#2a2020" stroke="#2a2020" stroke-width="0.22">1.5</text>
<text x="133.18" y="1000.12" font-size="5.1" text-anchor="middle" fill="#2a2020" stroke="#2a2020" stroke-width="0.22">94.3</text>
<text x="148.43" y="1000.12" font-size="5.1" text-anchor="middle" fill="#2a2020" stroke="#2a2020" stroke-width="0.22">74.5</text>
<text x="163.68" y="1000.12" font-size="5.1" text-anchor="middle" fill="#2a2020" stroke="#2a2020" stroke-width="0.22">52.6</text>
<text x="178.93" y="1000.12" font-size="5.1" text-anchor="middle" fill="#2a2020" stroke="#2a2020" stroke-width="0.22">10.3</text>
<text x="194.18" y="1000.12" font-size="5.1" text-anchor="middle" fill="#2a2020" stroke="#2a2020" stroke-width="0.22">1.8</text>
<text x="209.43" y="1000.12" font-size="5.1" text-anchor="middle" fill="#2a2020" stroke="#2a2020" stroke-width="0.22">1.1</text>
<text x="133.18" y="1015.35" font-size="5.1" text-anchor="middle" fill="#2a2020" stroke="#2a2020" stroke-width="0.22">74.7</text>
<text x="148.43" y="1015.35" font-size="5.1" text-anchor="middle" fill="#2a2020" stroke="#2a2020" stroke-width="0.22">43.0</text>
<text x="163.68" y="1015.35" font-size="5.1" text-anchor="middle" fill="#2a2020" stroke="#2a2020" stroke-width="0.22">28.4</text>
<text x="178.93" y="1015.35" font-size="5.1" text-anchor="middle" fill="#2a2020" stroke="#2a2020" stroke-width="0.22">5.5</text>
<text x="194.18" y="1015.35" font-size="5.1" text-anchor="middle" fill="#2a2020" stroke="#2a2020" stroke-width="0.22">1.1</text>
<text x="209.43" y="1015.35" font-size="5.1" text-anchor="middle" fill="#2a2020" stroke="#2a2020" stroke-width="0.22">0.8</text>
<text x="133.18" y="1030.58" font-size="5.1" text-anchor="middle" fill="#2a2020" stroke="#2a2020" stroke-width="0.22">23.7</text>
<text x="148.43" y="1030.58" font-size="5.1" text-anchor="middle" fill="#2a2020" stroke="#2a2020" stroke-width="0.22">8.4</text>
<text x="163.68" y="1030.58" font-size="5.1" text-anchor="middle" fill="#2a2020" stroke="#2a2020" stroke-width="0.22">7.1</text>
<text x="178.93" y="1030.58" font-size="5.1" text-anchor="middle" fill="#2a2020" stroke="#2a2020" stroke-width="0.22">2.2</text>
<text x="194.18" y="1030.58" font-size="5.1" text-anchor="middle" fill="#2a2020" stroke="#2a2020" stroke-width="0.22">0.4</text>
<text x="209.43" y="1030.58" font-size="5.1" text-anchor="middle" fill="#2a2020" stroke="#2a2020" stroke-width="0.22">0.2</text>
<rect x="125.55" y="945" width="91.5" height="91.4" fill="none" stroke="#1e1e1e" stroke-width="0.85" rx="0.8"/>
<rect x="140.75" y="1058.18" width="15.35" height="15.33" fill="#d1454f"/>
<rect x="140.75" y="1073.42" width="15.35" height="15.33" fill="#c92530"/>
<rect x="156" y="1073.42" width="15.35" height="15.33" fill="#f8e3e5"/>
<rect x="140.75" y="1088.65" width="15.35" height="15.33" fill="#eaabaf"/>
<rect x="140.75" y="1103.88" width="15.35" height="15.33" fill="#c71e2a"/>
<rect x="156" y="1103.88" width="15.35" height="15.33" fill="#e1878e"/>
<rect x="140.75" y="1119.12" width="15.35" height="15.33" fill="#dd787f"/>
<text x="133.18" y="1052.42" font-size="5.1" text-anchor="middle" fill="#2a2020" stroke="#2a2020" stroke-width="0.22">0</text>
<text x="148.43" y="1052.42" font-size="5.1" text-anchor="middle" fill="#2a2020" stroke="#2a2020" stroke-width="0.22">0</text>
<text x="163.68" y="1052.42" font-size="5.1" text-anchor="middle" fill="#2a2020" stroke="#2a2020" stroke-width="0.22">0</text>
<text x="178.93" y="1052.42" font-size="5.1" text-anchor="middle" fill="#2a2020" stroke="#2a2020" stroke-width="0.22">0</text>
<text x="194.18" y="1052.42" font-size="5.1" text-anchor="middle" fill="#2a2020" stroke="#2a2020" stroke-width="0.22">0</text>
<text x="209.43" y="1052.42" font-size="5.1" text-anchor="middle" fill="#2a2020" stroke="#2a2020" stroke-width="0.22">0</text>
<text x="133.18" y="1067.65" font-size="5.1" text-anchor="middle" fill="#2a2020" stroke="#2a2020" stroke-width="0.22">0</text>
<text x="148.43" y="1067.65" font-size="5.1" text-anchor="middle" fill="#2a2020" stroke="#2a2020" stroke-width="0.22">19.3</text>
<text x="163.68" y="1067.65" font-size="5.1" text-anchor="middle" fill="#2a2020" stroke="#2a2020" stroke-width="0.22">7.3</text>
<text x="178.93" y="1067.65" font-size="5.1" text-anchor="middle" fill="#2a2020" stroke="#2a2020" stroke-width="0.22">0.4</text>
<text x="194.18" y="1067.65" font-size="5.1" text-anchor="middle" fill="#2a2020" stroke="#2a2020" stroke-width="0.22">0.8</text>
<text x="209.43" y="1067.65" font-size="5.1" text-anchor="middle" fill="#2a2020" stroke="#2a2020" stroke-width="0.22">0.7</text>
<text x="133.18" y="1082.88" font-size="5.1" text-anchor="middle" fill="#2a2020" stroke="#2a2020" stroke-width="0.22">0</text>
<text x="148.43" y="1082.88" font-size="5.1" text-anchor="middle" fill="#2a2020" stroke="#2a2020" stroke-width="0.22">21.7</text>
<text x="163.68" y="1082.88" font-size="5.1" text-anchor="middle" fill="#2a2020" stroke="#2a2020" stroke-width="0.22">10.0</text>
<text x="178.93" y="1082.88" font-size="5.1" text-anchor="middle" fill="#2a2020" stroke="#2a2020" stroke-width="0.22">1.1</text>
<text x="194.18" y="1082.88" font-size="5.1" text-anchor="middle" fill="#2a2020" stroke="#2a2020" stroke-width="0.22">0.4</text>
<text x="209.43" y="1082.88" font-size="5.1" text-anchor="middle" fill="#2a2020" stroke="#2a2020" stroke-width="0.22">0.3</text>
<text x="133.18" y="1098.12" font-size="5.1" text-anchor="middle" fill="#2a2020" stroke="#2a2020" stroke-width="0.22">0</text>
<text x="148.43" y="1098.12" font-size="5.1" text-anchor="middle" fill="#2a2020" stroke="#2a2020" stroke-width="0.22">12.7</text>
<text x="163.68" y="1098.12" font-size="5.1" text-anchor="middle" fill="#2a2020" stroke="#2a2020" stroke-width="0.22">0.3</text>
<text x="178.93" y="1098.12" font-size="5.1" text-anchor="middle" fill="#2a2020" stroke="#2a2020" stroke-width="0.22">0.5</text>
<text x="194.18" y="1098.12" font-size="5.1" text-anchor="middle" fill="#2a2020" stroke="#2a2020" stroke-width="0.22">0.4</text>
<text x="209.43" y="1098.12" font-size="5.1" text-anchor="middle" fill="#2a2020" stroke="#2a2020" stroke-width="0.22">0.4</text>
<text x="133.18" y="1113.35" font-size="5.1" text-anchor="middle" fill="#2a2020" stroke="#2a2020" stroke-width="0.22">0</text>
<text x="148.43" y="1113.35" font-size="5.1" text-anchor="middle" fill="#2a2020" stroke="#2a2020" stroke-width="0.22">22.2</text>
<text x="163.68" y="1113.35" font-size="5.1" text-anchor="middle" fill="#2a2020" stroke="#2a2020" stroke-width="0.22">14.8</text>
<text x="178.93" y="1113.35" font-size="5.1" text-anchor="middle" fill="#2a2020" stroke="#2a2020" stroke-width="0.22">2.0</text>
<text x="194.18" y="1113.35" font-size="5.1" text-anchor="middle" fill="#2a2020" stroke="#2a2020" stroke-width="0.22">0.9</text>
<text x="209.43" y="1113.35" font-size="5.1" text-anchor="middle" fill="#2a2020" stroke="#2a2020" stroke-width="0.22">0.7</text>
<text x="133.18" y="1128.58" font-size="5.1" text-anchor="middle" fill="#2a2020" stroke="#2a2020" stroke-width="0.22">0</text>
<text x="148.43" y="1128.58" font-size="5.1" text-anchor="middle" fill="#2a2020" stroke="#2a2020" stroke-width="0.22">15.8</text>
<text x="163.68" y="1128.58" font-size="5.1" text-anchor="middle" fill="#2a2020" stroke="#2a2020" stroke-width="0.22">8.9</text>
<text x="178.93" y="1128.58" font-size="5.1" text-anchor="middle" fill="#2a2020" stroke="#2a2020" stroke-width="0.22">−0.9</text>
<text x="194.18" y="1128.58" font-size="5.1" text-anchor="middle" fill="#2a2020" stroke="#2a2020" stroke-width="0.22">−1.6</text>
<text x="209.43" y="1128.58" font-size="5.1" text-anchor="middle" fill="#2a2020" stroke="#2a2020" stroke-width="0.22">−1.6</text>
<rect x="125.55" y="1043" width="91.5" height="91.4" fill="none" stroke="#1e1e1e" stroke-width="0.85" rx="0.8"/>
<text x="266.7" y="910.5" font-size="8.5" text-anchor="middle" font-weight="bold" fill="#000" stroke="#000" stroke-width="0.13">TUH06</text>
<text x="267.1" y="924" font-size="8.55" text-anchor="middle" stroke="#1c1c1c" stroke-width="0.22">QUIZ (nmol/L)</text>
<text x="228.38" y="936.9" font-size="8.3" text-anchor="middle" stroke="#1c1c1c" stroke-width="0.22">0</text>
<line x1="228.38" y1="940.2" x2="228.38" y2="945" stroke="#2a2a2a" stroke-width="0.85"/>
<text x="243.62" y="936.9" font-size="8.3" text-anchor="middle" stroke="#1c1c1c" stroke-width="0.22">1</text>
<line x1="243.62" y1="940.2" x2="243.62" y2="945" stroke="#2a2a2a" stroke-width="0.85"/>
<text x="258.88" y="936.9" font-size="8.3" text-anchor="middle" stroke="#1c1c1c" stroke-width="0.22">3</text>
<line x1="258.88" y1="940.2" x2="258.88" y2="945" stroke="#2a2a2a" stroke-width="0.85"/>
<text x="274.12" y="936.9" font-size="8.3" text-anchor="middle" stroke="#1c1c1c" stroke-width="0.22">10</text>
<line x1="274.12" y1="940.2" x2="274.12" y2="945" stroke="#2a2a2a" stroke-width="0.85"/>
<text x="289.38" y="936.9" font-size="8.3" text-anchor="middle" stroke="#1c1c1c" stroke-width="0.22">30</text>
<line x1="289.38" y1="940.2" x2="289.38" y2="945" stroke="#2a2a2a" stroke-width="0.85"/>
<text x="304.62" y="936.9" font-size="8.3" text-anchor="middle" stroke="#1c1c1c" stroke-width="0.22">100</text>
<line x1="304.62" y1="940.2" x2="304.62" y2="945" stroke="#2a2a2a" stroke-width="0.85"/>
<rect x="220.7" y="944.95" width="15.35" height="15.33" fill="#f9c2c4"/>
<rect x="235.95" y="944.95" width="15.35" height="15.33" fill="#fbd2d3"/>
<rect x="251.2" y="944.95" width="15.35" height="15.33" fill="#fbdbdc"/>
<rect x="266.45" y="944.95" width="15.35" height="15.33" fill="#fefcfc"/>
<rect x="281.7" y="944.95" width="15.35" height="15.33" fill="#eda1a7"/>
<rect x="296.95" y="944.95" width="15.35" height="15.33" fill="#e98991"/>
<rect x="220.7" y="960.18" width="15.35" height="15.33" fill="#f9c2c4"/>
<rect x="235.95" y="960.18" width="15.35" height="15.33" fill="#fbd2d4"/>
<rect x="251.2" y="960.18" width="15.35" height="15.33" fill="#fcdcde"/>
<rect x="266.45" y="960.18" width="15.35" height="15.33" fill="#fffdfd"/>
<rect x="281.7" y="960.18" width="15.35" height="15.33" fill="#eea5ab"/>
<rect x="296.95" y="960.18" width="15.35" height="15.33" fill="#e98991"/>
<rect x="220.7" y="975.42" width="15.35" height="15.33" fill="#f9c6c8"/>
<rect x="235.95" y="975.42" width="15.35" height="15.33" fill="#fbd7d8"/>
<rect x="251.2" y="975.42" width="15.35" height="15.33" fill="#fce0e1"/>
<rect x="266.45" y="975.42" width="15.35" height="15.33" fill="#fdf2f3"/>
<rect x="281.7" y="975.42" width="15.35" height="15.33" fill="#ec9da3"/>
<rect x="296.95" y="975.42" width="15.35" height="15.33" fill="#e67d85"/>
<rect x="220.7" y="990.65" width="15.35" height="15.33" fill="#f9c7c9"/>
<rect x="235.95" y="990.65" width="15.35" height="15.33" fill="#fbdbdc"/>
<rect x="251.2" y="990.65" width="15.35" height="15.33" fill="#fde8e9"/>
<rect x="266.45" y="990.65" width="15.35" height="15.33" fill="#f8dcde"/>
<rect x="281.7" y="990.65" width="15.35" height="15.33" fill="#e8848c"/>
<rect x="296.95" y="990.65" width="15.35" height="15.33" fill="#e5767f"/>
<rect x="220.7" y="1005.88" width="15.35" height="15.33" fill="#faccce"/>
<rect x="235.95" y="1005.88" width="15.35" height="15.33" fill="#fce3e4"/>
<rect x="251.2" y="1005.88" width="15.35" height="15.33" fill="#fae5e7"/>
<rect x="266.45" y="1005.88" width="15.35" height="15.33" fill="#f2b9be"/>
<rect x="281.7" y="1005.88" width="15.35" height="15.33" fill="#e1606a"/>
<rect x="296.95" y="1005.88" width="15.35" height="15.33" fill="#df5560"/>
<rect x="220.7" y="1021.12" width="15.35" height="15.33" fill="#fbdbdc"/>
<rect x="235.95" y="1021.12" width="15.35" height="15.33" fill="#fffcfc"/>
<rect x="251.2" y="1021.12" width="15.35" height="15.33" fill="#f2bcc0"/>
<rect x="266.45" y="1021.12" width="15.35" height="15.33" fill="#e7838b"/>
<rect x="281.7" y="1021.12" width="15.35" height="15.33" fill="#d8323f"/>
<rect x="296.95" y="1021.12" width="15.35" height="15.33" fill="#d52230"/>
<text x="228.38" y="954.42" font-size="5.1" text-anchor="middle" fill="#2a2020" stroke="#2a2020" stroke-width="0.22">100.0</text>
<text x="243.62" y="954.42" font-size="5.1" text-anchor="middle" fill="#2a2020" stroke="#2a2020" stroke-width="0.22">83.9</text>
<text x="258.88" y="954.42" font-size="5.1" text-anchor="middle" fill="#2a2020" stroke="#2a2020" stroke-width="0.22">76.1</text>
<text x="274.12" y="954.42" font-size="5.1" text-anchor="middle" fill="#2a2020" stroke="#2a2020" stroke-width="0.22">58.3</text>
<text x="289.38" y="954.42" font-size="5.1" text-anchor="middle" fill="#2a2020" stroke="#2a2020" stroke-width="0.22">42.5</text>
<text x="304.62" y="954.42" font-size="5.1" text-anchor="middle" fill="#2a2020" stroke="#2a2020" stroke-width="0.22">37.9</text>
<text x="228.38" y="969.65" font-size="5.1" text-anchor="middle" fill="#2a2020" stroke="#2a2020" stroke-width="0.22">99.8</text>
<text x="243.62" y="969.65" font-size="5.1" text-anchor="middle" fill="#2a2020" stroke="#2a2020" stroke-width="0.22">83.2</text>
<text x="258.88" y="969.65" font-size="5.1" text-anchor="middle" fill="#2a2020" stroke="#2a2020" stroke-width="0.22">74.8</text>
<text x="274.12" y="969.65" font-size="5.1" text-anchor="middle" fill="#2a2020" stroke="#2a2020" stroke-width="0.22">58.5</text>
<text x="289.38" y="969.65" font-size="5.1" text-anchor="middle" fill="#2a2020" stroke="#2a2020" stroke-width="0.22">43.3</text>
<text x="304.62" y="969.65" font-size="5.1" text-anchor="middle" fill="#2a2020" stroke="#2a2020" stroke-width="0.22">37.9</text>
<text x="228.38" y="984.88" font-size="5.1" text-anchor="middle" fill="#2a2020" stroke="#2a2020" stroke-width="0.22">95.8</text>
<text x="243.62" y="984.88" font-size="5.1" text-anchor="middle" fill="#2a2020" stroke="#2a2020" stroke-width="0.22">79.4</text>
<text x="258.88" y="984.88" font-size="5.1" text-anchor="middle" fill="#2a2020" stroke="#2a2020" stroke-width="0.22">72.4</text>
<text x="274.12" y="984.88" font-size="5.1" text-anchor="middle" fill="#2a2020" stroke="#2a2020" stroke-width="0.22">56.9</text>
<text x="289.38" y="984.88" font-size="5.1" text-anchor="middle" fill="#2a2020" stroke="#2a2020" stroke-width="0.22">41.7</text>
<text x="304.62" y="984.88" font-size="5.1" text-anchor="middle" fill="#2a2020" stroke="#2a2020" stroke-width="0.22">35.5</text>
<text x="228.38" y="1000.12" font-size="5.1" text-anchor="middle" fill="#2a2020" stroke="#2a2020" stroke-width="0.22">94.7</text>
<text x="243.62" y="1000.12" font-size="5.1" text-anchor="middle" fill="#2a2020" stroke="#2a2020" stroke-width="0.22">75.7</text>
<text x="258.88" y="1000.12" font-size="5.1" text-anchor="middle" fill="#2a2020" stroke="#2a2020" stroke-width="0.22">66.7</text>
<text x="274.12" y="1000.12" font-size="5.1" text-anchor="middle" fill="#2a2020" stroke="#2a2020" stroke-width="0.22">53.1</text>
<text x="289.38" y="1000.12" font-size="5.1" text-anchor="middle" fill="#2a2020" stroke="#2a2020" stroke-width="0.22">37.0</text>
<text x="304.62" y="1000.12" font-size="5.1" text-anchor="middle" fill="#2a2020" stroke="#2a2020" stroke-width="0.22">34.2</text>
<text x="228.38" y="1015.35" font-size="5.1" text-anchor="middle" fill="#2a2020" stroke="#2a2020" stroke-width="0.22">89.0</text>
<text x="243.62" y="1015.35" font-size="5.1" text-anchor="middle" fill="#2a2020" stroke="#2a2020" stroke-width="0.22">69.9</text>
<text x="258.88" y="1015.35" font-size="5.1" text-anchor="middle" fill="#2a2020" stroke="#2a2020" stroke-width="0.22">54.7</text>
<text x="274.12" y="1015.35" font-size="5.1" text-anchor="middle" fill="#2a2020" stroke="#2a2020" stroke-width="0.22">47.0</text>
<text x="289.38" y="1015.35" font-size="5.1" text-anchor="middle" fill="#2a2020" stroke="#2a2020" stroke-width="0.22">29.9</text>
<text x="304.62" y="1015.35" font-size="5.1" text-anchor="middle" fill="#2a2020" stroke="#2a2020" stroke-width="0.22">27.8</text>
<text x="228.38" y="1030.58" font-size="5.1" text-anchor="middle" fill="#2a2020" stroke="#2a2020" stroke-width="0.22">76.1</text>
<text x="243.62" y="1030.58" font-size="5.1" text-anchor="middle" fill="#2a2020" stroke="#2a2020" stroke-width="0.22">59.0</text>
<text x="258.88" y="1030.58" font-size="5.1" text-anchor="middle" fill="#2a2020" stroke="#2a2020" stroke-width="0.22">47.4</text>
<text x="274.12" y="1030.58" font-size="5.1" text-anchor="middle" fill="#2a2020" stroke="#2a2020" stroke-width="0.22">36.7</text>
<text x="289.38" y="1030.58" font-size="5.1" text-anchor="middle" fill="#2a2020" stroke="#2a2020" stroke-width="0.22">20.7</text>
<text x="304.62" y="1030.58" font-size="5.1" text-anchor="middle" fill="#2a2020" stroke="#2a2020" stroke-width="0.22">17.5</text>
<rect x="220.75" y="945" width="91.5" height="91.4" fill="none" stroke="#1e1e1e" stroke-width="0.85" rx="0.8"/>
<rect x="235.95" y="1058.18" width="15.35" height="15.33" fill="#f8e1e3"/>
<rect x="235.95" y="1073.42" width="15.35" height="15.33" fill="#f0c3c6"/>
<rect x="235.95" y="1088.65" width="15.35" height="15.33" fill="#edb8bc"/>
<rect x="251.2" y="1088.65" width="15.35" height="15.33" fill="#efc0c4"/>
<rect x="235.95" y="1103.88" width="15.35" height="15.33" fill="#d86169"/>
<rect x="251.2" y="1103.88" width="15.35" height="15.33" fill="#c71e2a"/>
<rect x="266.45" y="1103.88" width="15.35" height="15.33" fill="#f1c6c9"/>
<rect x="281.7" y="1103.88" width="15.35" height="15.33" fill="#e08289"/>
<rect x="235.95" y="1119.12" width="15.35" height="15.33" fill="#e1858b"/>
<rect x="251.2" y="1119.12" width="15.35" height="15.33" fill="#d4545d"/>
<rect x="266.45" y="1119.12" width="15.35" height="15.33" fill="#e49197"/>
<rect x="281.7" y="1119.12" width="15.35" height="15.33" fill="#cd3540"/>
<rect x="296.95" y="1119.12" width="15.35" height="15.33" fill="#da6a72"/>
<text x="228.38" y="1052.42" font-size="5.1" text-anchor="middle" fill="#2a2020" stroke="#2a2020" stroke-width="0.22">0</text>
<text x="243.62" y="1052.42" font-size="5.1" text-anchor="middle" fill="#2a2020" stroke="#2a2020" stroke-width="0.22">0</text>
<text x="258.88" y="1052.42" font-size="5.1" text-anchor="middle" fill="#2a2020" stroke="#2a2020" stroke-width="0.22">0</text>
<text x="274.12" y="1052.42" font-size="5.1" text-anchor="middle" fill="#2a2020" stroke="#2a2020" stroke-width="0.22">0</text>
<text x="289.38" y="1052.42" font-size="5.1" text-anchor="middle" fill="#2a2020" stroke="#2a2020" stroke-width="0.22">0</text>
<text x="304.62" y="1052.42" font-size="5.1" text-anchor="middle" fill="#2a2020" stroke="#2a2020" stroke-width="0.22">0</text>
<text x="228.38" y="1067.65" font-size="5.1" text-anchor="middle" fill="#2a2020" stroke="#2a2020" stroke-width="0.22">0</text>
<text x="243.62" y="1067.65" font-size="5.1" text-anchor="middle" fill="#2a2020" stroke="#2a2020" stroke-width="0.22">9.8</text>
<text x="258.88" y="1067.65" font-size="5.1" text-anchor="middle" fill="#2a2020" stroke="#2a2020" stroke-width="0.22">8.1</text>
<text x="274.12" y="1067.65" font-size="5.1" text-anchor="middle" fill="#2a2020" stroke="#2a2020" stroke-width="0.22">5.0</text>
<text x="289.38" y="1067.65" font-size="5.1" text-anchor="middle" fill="#2a2020" stroke="#2a2020" stroke-width="0.22">5.7</text>
<text x="304.62" y="1067.65" font-size="5.1" text-anchor="middle" fill="#2a2020" stroke="#2a2020" stroke-width="0.22">2.3</text>
<text x="228.38" y="1082.88" font-size="5.1" text-anchor="middle" fill="#2a2020" stroke="#2a2020" stroke-width="0.22">0</text>
<text x="243.62" y="1082.88" font-size="5.1" text-anchor="middle" fill="#2a2020" stroke="#2a2020" stroke-width="0.22">10.7</text>
<text x="258.88" y="1082.88" font-size="5.1" text-anchor="middle" fill="#2a2020" stroke="#2a2020" stroke-width="0.22">9.1</text>
<text x="274.12" y="1082.88" font-size="5.1" text-anchor="middle" fill="#2a2020" stroke="#2a2020" stroke-width="0.22">4.9</text>
<text x="289.38" y="1082.88" font-size="5.1" text-anchor="middle" fill="#2a2020" stroke="#2a2020" stroke-width="0.22">6.3</text>
<text x="304.62" y="1082.88" font-size="5.1" text-anchor="middle" fill="#2a2020" stroke="#2a2020" stroke-width="0.22">3.2</text>
<text x="228.38" y="1098.12" font-size="5.1" text-anchor="middle" fill="#2a2020" stroke="#2a2020" stroke-width="0.22">0</text>
<text x="243.62" y="1098.12" font-size="5.1" text-anchor="middle" fill="#2a2020" stroke="#2a2020" stroke-width="0.22">11.1</text>
<text x="258.88" y="1098.12" font-size="5.1" text-anchor="middle" fill="#2a2020" stroke="#2a2020" stroke-width="0.22">10.8</text>
<text x="274.12" y="1098.12" font-size="5.1" text-anchor="middle" fill="#2a2020" stroke="#2a2020" stroke-width="0.22">6.0</text>
<text x="289.38" y="1098.12" font-size="5.1" text-anchor="middle" fill="#2a2020" stroke="#2a2020" stroke-width="0.22">7.3</text>
<text x="304.62" y="1098.12" font-size="5.1" text-anchor="middle" fill="#2a2020" stroke="#2a2020" stroke-width="0.22">3.9</text>
<text x="228.38" y="1113.35" font-size="5.1" text-anchor="middle" fill="#2a2020" stroke="#2a2020" stroke-width="0.22">0</text>
<text x="243.62" y="1113.35" font-size="5.1" text-anchor="middle" fill="#2a2020" stroke="#2a2020" stroke-width="0.22">14.7</text>
<text x="258.88" y="1113.35" font-size="5.1" text-anchor="middle" fill="#2a2020" stroke="#2a2020" stroke-width="0.22">18.0</text>
<text x="274.12" y="1113.35" font-size="5.1" text-anchor="middle" fill="#2a2020" stroke="#2a2020" stroke-width="0.22">10.6</text>
<text x="289.38" y="1113.35" font-size="5.1" text-anchor="middle" fill="#2a2020" stroke="#2a2020" stroke-width="0.22">13.2</text>
<text x="304.62" y="1113.35" font-size="5.1" text-anchor="middle" fill="#2a2020" stroke="#2a2020" stroke-width="0.22">9.0</text>
<text x="228.38" y="1128.58" font-size="5.1" text-anchor="middle" fill="#2a2020" stroke="#2a2020" stroke-width="0.22">0</text>
<text x="243.62" y="1128.58" font-size="5.1" text-anchor="middle" fill="#2a2020" stroke="#2a2020" stroke-width="0.22">13.1</text>
<text x="258.88" y="1128.58" font-size="5.1" text-anchor="middle" fill="#2a2020" stroke="#2a2020" stroke-width="0.22">15.3</text>
<text x="274.12" y="1128.58" font-size="5.1" text-anchor="middle" fill="#2a2020" stroke="#2a2020" stroke-width="0.22">12.6</text>
<text x="289.38" y="1128.58" font-size="5.1" text-anchor="middle" fill="#2a2020" stroke="#2a2020" stroke-width="0.22">16.8</text>
<text x="304.62" y="1128.58" font-size="5.1" text-anchor="middle" fill="#2a2020" stroke="#2a2020" stroke-width="0.22">14.3</text>
<rect x="220.75" y="1043" width="91.5" height="91.4" fill="none" stroke="#1e1e1e" stroke-width="0.85" rx="0.8"/>
<text x="362.5" y="910.5" font-size="8.5" text-anchor="middle" font-weight="bold" fill="#000" stroke="#000" stroke-width="0.13">TUH84</text>
<text x="362.8" y="924" font-size="8.55" text-anchor="middle" stroke="#1c1c1c" stroke-width="0.22">QUIZ (nmol/L)</text>
<text x="323.58" y="936.9" font-size="8.3" text-anchor="middle" stroke="#1c1c1c" stroke-width="0.22">0</text>
<line x1="323.58" y1="940.2" x2="323.58" y2="945" stroke="#2a2a2a" stroke-width="0.85"/>
<text x="338.83" y="936.9" font-size="8.3" text-anchor="middle" stroke="#1c1c1c" stroke-width="0.22">1</text>
<line x1="338.83" y1="940.2" x2="338.83" y2="945" stroke="#2a2a2a" stroke-width="0.85"/>
<text x="354.08" y="936.9" font-size="8.3" text-anchor="middle" stroke="#1c1c1c" stroke-width="0.22">3</text>
<line x1="354.08" y1="940.2" x2="354.08" y2="945" stroke="#2a2a2a" stroke-width="0.85"/>
<text x="369.33" y="936.9" font-size="8.3" text-anchor="middle" stroke="#1c1c1c" stroke-width="0.22">10</text>
<line x1="369.33" y1="940.2" x2="369.33" y2="945" stroke="#2a2a2a" stroke-width="0.85"/>
<text x="384.58" y="936.9" font-size="8.3" text-anchor="middle" stroke="#1c1c1c" stroke-width="0.22">30</text>
<line x1="384.58" y1="940.2" x2="384.58" y2="945" stroke="#2a2a2a" stroke-width="0.85"/>
<text x="399.83" y="936.9" font-size="8.3" text-anchor="middle" stroke="#1c1c1c" stroke-width="0.22">100</text>
<line x1="399.83" y1="940.2" x2="399.83" y2="945" stroke="#2a2a2a" stroke-width="0.85"/>
<rect x="315.9" y="944.95" width="15.35" height="15.33" fill="#f9c4c6"/>
<rect x="331.15" y="944.95" width="15.35" height="15.33" fill="#facdcf"/>
<rect x="346.4" y="944.95" width="15.35" height="15.33" fill="#fce0e1"/>
<rect x="361.65" y="944.95" width="15.35" height="15.33" fill="#f4c7ca"/>
<rect x="376.9" y="944.95" width="15.35" height="15.33" fill="#e36b74"/>
<rect x="392.15" y="944.95" width="15.35" height="15.33" fill="#d93744"/>
<rect x="315.9" y="960.18" width="15.35" height="15.33" fill="#f9c3c5"/>
<rect x="331.15" y="960.18" width="15.35" height="15.33" fill="#fbd4d6"/>
<rect x="346.4" y="960.18" width="15.35" height="15.33" fill="#fcddde"/>
<rect x="361.65" y="960.18" width="15.35" height="15.33" fill="#f4c8cb"/>
<rect x="376.9" y="960.18" width="15.35" height="15.33" fill="#e5757e"/>
<rect x="392.15" y="960.18" width="15.35" height="15.33" fill="#db414d"/>
<rect x="315.9" y="975.42" width="15.35" height="15.33" fill="#fac8ca"/>
<rect x="331.15" y="975.42" width="15.35" height="15.33" fill="#fbd4d5"/>
<rect x="346.4" y="975.42" width="15.35" height="15.33" fill="#fce5e6"/>
<rect x="361.65" y="975.42" width="15.35" height="15.33" fill="#f0b1b6"/>
<rect x="376.9" y="975.42" width="15.35" height="15.33" fill="#e15f6a"/>
<rect x="392.15" y="975.42" width="15.35" height="15.33" fill="#d93845"/>
<rect x="315.9" y="990.65" width="15.35" height="15.33" fill="#f9c6c7"/>
<rect x="331.15" y="990.65" width="15.35" height="15.33" fill="#fbd8da"/>
<rect x="346.4" y="990.65" width="15.35" height="15.33" fill="#fde7e8"/>
<rect x="361.65" y="990.65" width="15.35" height="15.33" fill="#f0aeb3"/>
<rect x="376.9" y="990.65" width="15.35" height="15.33" fill="#e05b65"/>
<rect x="392.15" y="990.65" width="15.35" height="15.33" fill="#d52331"/>
<rect x="315.9" y="1005.88" width="15.35" height="15.33" fill="#f9c2c4"/>
<rect x="331.15" y="1005.88" width="15.35" height="15.33" fill="#fbd6d7"/>
<rect x="346.4" y="1005.88" width="15.35" height="15.33" fill="#fdeaeb"/>
<rect x="361.65" y="1005.88" width="15.35" height="15.33" fill="#f0b2b7"/>
<rect x="376.9" y="1005.88" width="15.35" height="15.33" fill="#e05b65"/>
<rect x="392.15" y="1005.88" width="15.35" height="15.33" fill="#d52331"/>
<rect x="315.9" y="1021.12" width="15.35" height="15.33" fill="#facacc"/>
<rect x="331.15" y="1021.12" width="15.35" height="15.33" fill="#fce0e1"/>
<rect x="346.4" y="1021.12" width="15.35" height="15.33" fill="#fef2f2"/>
<rect x="361.65" y="1021.12" width="15.35" height="15.33" fill="#ec9da3"/>
<rect x="376.9" y="1021.12" width="15.35" height="15.33" fill="#de4f5a"/>
<rect x="392.15" y="1021.12" width="15.35" height="15.33" fill="#d52230"/>
<text x="323.58" y="954.42" font-size="5.1" text-anchor="middle" fill="#2a2020" stroke="#2a2020" stroke-width="0.22">100.0</text>
<text x="338.83" y="954.42" font-size="5.1" text-anchor="middle" fill="#2a2020" stroke="#2a2020" stroke-width="0.22">93.0</text>
<text x="354.08" y="954.42" font-size="5.1" text-anchor="middle" fill="#2a2020" stroke="#2a2020" stroke-width="0.22">81.4</text>
<text x="369.33" y="954.42" font-size="5.1" text-anchor="middle" fill="#2a2020" stroke="#2a2020" stroke-width="0.22">64.7</text>
<text x="384.58" y="954.42" font-size="5.1" text-anchor="middle" fill="#2a2020" stroke="#2a2020" stroke-width="0.22">51.9</text>
<text x="399.83" y="954.42" font-size="5.1" text-anchor="middle" fill="#2a2020" stroke="#2a2020" stroke-width="0.22">44.4</text>
<text x="323.58" y="969.65" font-size="5.1" text-anchor="middle" fill="#2a2020" stroke="#2a2020" stroke-width="0.22">101.2</text>
<text x="338.83" y="969.65" font-size="5.1" text-anchor="middle" fill="#2a2020" stroke="#2a2020" stroke-width="0.22">88.1</text>
<text x="354.08" y="969.65" font-size="5.1" text-anchor="middle" fill="#2a2020" stroke="#2a2020" stroke-width="0.22">82.8</text>
<text x="369.33" y="969.65" font-size="5.1" text-anchor="middle" fill="#2a2020" stroke="#2a2020" stroke-width="0.22">64.8</text>
<text x="384.58" y="969.65" font-size="5.1" text-anchor="middle" fill="#2a2020" stroke="#2a2020" stroke-width="0.22">53.4</text>
<text x="399.83" y="969.65" font-size="5.1" text-anchor="middle" fill="#2a2020" stroke="#2a2020" stroke-width="0.22">45.9</text>
<text x="323.58" y="984.88" font-size="5.1" text-anchor="middle" fill="#2a2020" stroke="#2a2020" stroke-width="0.22">97.0</text>
<text x="338.83" y="984.88" font-size="5.1" text-anchor="middle" fill="#2a2020" stroke="#2a2020" stroke-width="0.22">88.6</text>
<text x="354.08" y="984.88" font-size="5.1" text-anchor="middle" fill="#2a2020" stroke="#2a2020" stroke-width="0.22">78.9</text>
<text x="369.33" y="984.88" font-size="5.1" text-anchor="middle" fill="#2a2020" stroke="#2a2020" stroke-width="0.22">61.8</text>
<text x="384.58" y="984.88" font-size="5.1" text-anchor="middle" fill="#2a2020" stroke="#2a2020" stroke-width="0.22">50.3</text>
<text x="399.83" y="984.88" font-size="5.1" text-anchor="middle" fill="#2a2020" stroke="#2a2020" stroke-width="0.22">44.6</text>
<text x="323.58" y="1000.12" font-size="5.1" text-anchor="middle" fill="#2a2020" stroke="#2a2020" stroke-width="0.22">98.8</text>
<text x="338.83" y="1000.12" font-size="5.1" text-anchor="middle" fill="#2a2020" stroke="#2a2020" stroke-width="0.22">85.6</text>
<text x="354.08" y="1000.12" font-size="5.1" text-anchor="middle" fill="#2a2020" stroke="#2a2020" stroke-width="0.22">78.0</text>
<text x="369.33" y="1000.12" font-size="5.1" text-anchor="middle" fill="#2a2020" stroke="#2a2020" stroke-width="0.22">61.4</text>
<text x="384.58" y="1000.12" font-size="5.1" text-anchor="middle" fill="#2a2020" stroke="#2a2020" stroke-width="0.22">49.6</text>
<text x="399.83" y="1000.12" font-size="5.1" text-anchor="middle" fill="#2a2020" stroke="#2a2020" stroke-width="0.22">41.4</text>
<text x="323.58" y="1015.35" font-size="5.1" text-anchor="middle" fill="#2a2020" stroke="#2a2020" stroke-width="0.22">101.7</text>
<text x="338.83" y="1015.35" font-size="5.1" text-anchor="middle" fill="#2a2020" stroke="#2a2020" stroke-width="0.22">87.1</text>
<text x="354.08" y="1015.35" font-size="5.1" text-anchor="middle" fill="#2a2020" stroke="#2a2020" stroke-width="0.22">76.6</text>
<text x="369.33" y="1015.35" font-size="5.1" text-anchor="middle" fill="#2a2020" stroke="#2a2020" stroke-width="0.22">61.9</text>
<text x="384.58" y="1015.35" font-size="5.1" text-anchor="middle" fill="#2a2020" stroke="#2a2020" stroke-width="0.22">49.6</text>
<text x="399.83" y="1015.35" font-size="5.1" text-anchor="middle" fill="#2a2020" stroke="#2a2020" stroke-width="0.22">41.4</text>
<text x="323.58" y="1030.58" font-size="5.1" text-anchor="middle" fill="#2a2020" stroke="#2a2020" stroke-width="0.22">95.4</text>
<text x="338.83" y="1030.58" font-size="5.1" text-anchor="middle" fill="#2a2020" stroke="#2a2020" stroke-width="0.22">81.5</text>
<text x="354.08" y="1030.58" font-size="5.1" text-anchor="middle" fill="#2a2020" stroke="#2a2020" stroke-width="0.22">73.8</text>
<text x="369.33" y="1030.58" font-size="5.1" text-anchor="middle" fill="#2a2020" stroke="#2a2020" stroke-width="0.22">59.0</text>
<text x="384.58" y="1030.58" font-size="5.1" text-anchor="middle" fill="#2a2020" stroke="#2a2020" stroke-width="0.22">47.9</text>
<text x="399.83" y="1030.58" font-size="5.1" text-anchor="middle" fill="#2a2020" stroke="#2a2020" stroke-width="0.22">41.3</text>
<rect x="315.95" y="945" width="91.5" height="91.4" fill="none" stroke="#1e1e1e" stroke-width="0.85" rx="0.8"/>
<rect x="331.15" y="1073.42" width="15.35" height="15.33" fill="#f2c9cc"/>
<rect x="331.15" y="1088.65" width="15.35" height="15.33" fill="#d76068"/>
<rect x="331.15" y="1103.88" width="15.35" height="15.33" fill="#cf3e48"/>
<rect x="331.15" y="1119.12" width="15.35" height="15.33" fill="#c71e2a"/>
<text x="323.58" y="1052.42" font-size="5.1" text-anchor="middle" fill="#2a2020" stroke="#2a2020" stroke-width="0.22">0</text>
<text x="338.83" y="1052.42" font-size="5.1" text-anchor="middle" fill="#2a2020" stroke="#2a2020" stroke-width="0.22">0</text>
<text x="354.08" y="1052.42" font-size="5.1" text-anchor="middle" fill="#2a2020" stroke="#2a2020" stroke-width="0.22">0</text>
<text x="369.33" y="1052.42" font-size="5.1" text-anchor="middle" fill="#2a2020" stroke="#2a2020" stroke-width="0.22">0</text>
<text x="384.58" y="1052.42" font-size="5.1" text-anchor="middle" fill="#2a2020" stroke="#2a2020" stroke-width="0.22">0</text>
<text x="399.83" y="1052.42" font-size="5.1" text-anchor="middle" fill="#2a2020" stroke="#2a2020" stroke-width="0.22">0</text>
<text x="323.58" y="1067.65" font-size="5.1" text-anchor="middle" fill="#2a2020" stroke="#2a2020" stroke-width="0.22">0</text>
<text x="338.83" y="1067.65" font-size="5.1" text-anchor="middle" fill="#2a2020" stroke="#2a2020" stroke-width="0.22">8.7</text>
<text x="354.08" y="1067.65" font-size="5.1" text-anchor="middle" fill="#2a2020" stroke="#2a2020" stroke-width="0.22">2.6</text>
<text x="369.33" y="1067.65" font-size="5.1" text-anchor="middle" fill="#2a2020" stroke="#2a2020" stroke-width="0.22">2.9</text>
<text x="384.58" y="1067.65" font-size="5.1" text-anchor="middle" fill="#2a2020" stroke="#2a2020" stroke-width="0.22">3.3</text>
<text x="399.83" y="1067.65" font-size="5.1" text-anchor="middle" fill="#2a2020" stroke="#2a2020" stroke-width="0.22">−1.1</text>
<text x="323.58" y="1082.88" font-size="5.1" text-anchor="middle" fill="#2a2020" stroke="#2a2020" stroke-width="0.22">0</text>
<text x="338.83" y="1082.88" font-size="5.1" text-anchor="middle" fill="#2a2020" stroke="#2a2020" stroke-width="0.22">9.4</text>
<text x="354.08" y="1082.88" font-size="5.1" text-anchor="middle" fill="#2a2020" stroke="#2a2020" stroke-width="0.22">3.7</text>
<text x="369.33" y="1082.88" font-size="5.1" text-anchor="middle" fill="#2a2020" stroke="#2a2020" stroke-width="0.22">4.9</text>
<text x="384.58" y="1082.88" font-size="5.1" text-anchor="middle" fill="#2a2020" stroke="#2a2020" stroke-width="0.22">4.5</text>
<text x="399.83" y="1082.88" font-size="5.1" text-anchor="middle" fill="#2a2020" stroke="#2a2020" stroke-width="0.22">0</text>
<text x="323.58" y="1098.12" font-size="5.1" text-anchor="middle" fill="#2a2020" stroke="#2a2020" stroke-width="0.22">0</text>
<text x="338.83" y="1098.12" font-size="5.1" text-anchor="middle" fill="#2a2020" stroke="#2a2020" stroke-width="0.22">10.7</text>
<text x="354.08" y="1098.12" font-size="5.1" text-anchor="middle" fill="#2a2020" stroke="#2a2020" stroke-width="0.22">5.1</text>
<text x="369.33" y="1098.12" font-size="5.1" text-anchor="middle" fill="#2a2020" stroke="#2a2020" stroke-width="0.22">5.0</text>
<text x="384.58" y="1098.12" font-size="5.1" text-anchor="middle" fill="#2a2020" stroke="#2a2020" stroke-width="0.22">5.7</text>
<text x="399.83" y="1098.12" font-size="5.1" text-anchor="middle" fill="#2a2020" stroke="#2a2020" stroke-width="0.22">2.7</text>
<text x="323.58" y="1113.35" font-size="5.1" text-anchor="middle" fill="#2a2020" stroke="#2a2020" stroke-width="0.22">0</text>
<text x="338.83" y="1113.35" font-size="5.1" text-anchor="middle" fill="#2a2020" stroke="#2a2020" stroke-width="0.22">11.2</text>
<text x="354.08" y="1113.35" font-size="5.1" text-anchor="middle" fill="#2a2020" stroke="#2a2020" stroke-width="0.22">6.6</text>
<text x="369.33" y="1113.35" font-size="5.1" text-anchor="middle" fill="#2a2020" stroke="#2a2020" stroke-width="0.22">5.4</text>
<text x="384.58" y="1113.35" font-size="5.1" text-anchor="middle" fill="#2a2020" stroke="#2a2020" stroke-width="0.22">6.5</text>
<text x="399.83" y="1113.35" font-size="5.1" text-anchor="middle" fill="#2a2020" stroke="#2a2020" stroke-width="0.22">2.7</text>
<text x="323.58" y="1128.58" font-size="5.1" text-anchor="middle" fill="#2a2020" stroke="#2a2020" stroke-width="0.22">0</text>
<text x="338.83" y="1128.58" font-size="5.1" text-anchor="middle" fill="#2a2020" stroke="#2a2020" stroke-width="0.22">11.7</text>
<text x="354.08" y="1128.58" font-size="5.1" text-anchor="middle" fill="#2a2020" stroke="#2a2020" stroke-width="0.22">6.1</text>
<text x="369.33" y="1128.58" font-size="5.1" text-anchor="middle" fill="#2a2020" stroke="#2a2020" stroke-width="0.22">5.1</text>
<text x="384.58" y="1128.58" font-size="5.1" text-anchor="middle" fill="#2a2020" stroke="#2a2020" stroke-width="0.22">5.1</text>
<text x="399.83" y="1128.58" font-size="5.1" text-anchor="middle" fill="#2a2020" stroke="#2a2020" stroke-width="0.22">1.1</text>
<rect x="315.95" y="1043" width="91.5" height="91.4" fill="none" stroke="#1e1e1e" stroke-width="0.85" rx="0.8"/>
<text x="455.6" y="910.5" font-size="8.5" text-anchor="middle" font-weight="bold" fill="#000" stroke="#000" stroke-width="0.13">TUH93</text>
<text x="456.5" y="924" font-size="8.55" text-anchor="middle" stroke="#1c1c1c" stroke-width="0.22">QUIZ (nmol/L)</text>
<text x="418.78" y="936.9" font-size="8.3" text-anchor="middle" stroke="#1c1c1c" stroke-width="0.22">0</text>
<line x1="418.78" y1="940.2" x2="418.78" y2="945" stroke="#2a2a2a" stroke-width="0.85"/>
<text x="434.03" y="936.9" font-size="8.3" text-anchor="middle" stroke="#1c1c1c" stroke-width="0.22">1</text>
<line x1="434.03" y1="940.2" x2="434.03" y2="945" stroke="#2a2a2a" stroke-width="0.85"/>
<text x="449.28" y="936.9" font-size="8.3" text-anchor="middle" stroke="#1c1c1c" stroke-width="0.22">3</text>
<line x1="449.28" y1="940.2" x2="449.28" y2="945" stroke="#2a2a2a" stroke-width="0.85"/>
<text x="464.53" y="936.9" font-size="8.3" text-anchor="middle" stroke="#1c1c1c" stroke-width="0.22">10</text>
<line x1="464.53" y1="940.2" x2="464.53" y2="945" stroke="#2a2a2a" stroke-width="0.85"/>
<text x="479.78" y="936.9" font-size="8.3" text-anchor="middle" stroke="#1c1c1c" stroke-width="0.22">30</text>
<line x1="479.78" y1="940.2" x2="479.78" y2="945" stroke="#2a2a2a" stroke-width="0.85"/>
<text x="495.03" y="936.9" font-size="8.3" text-anchor="middle" stroke="#1c1c1c" stroke-width="0.22">100</text>
<line x1="495.03" y1="940.2" x2="495.03" y2="945" stroke="#2a2a2a" stroke-width="0.85"/>
<rect x="411.1" y="944.95" width="15.35" height="15.33" fill="#f9c2c4"/>
<rect x="426.35" y="944.95" width="15.35" height="15.33" fill="#fce5e6"/>
<rect x="441.6" y="944.95" width="15.35" height="15.33" fill="#fde6e7"/>
<rect x="456.85" y="944.95" width="15.35" height="15.33" fill="#fef8f8"/>
<rect x="472.1" y="944.95" width="15.35" height="15.33" fill="#f4c7ca"/>
<rect x="487.35" y="944.95" width="15.35" height="15.33" fill="#e67c84"/>
<rect x="411.1" y="960.18" width="15.35" height="15.33" fill="#f9c4c6"/>
<rect x="426.35" y="960.18" width="15.35" height="15.33" fill="#fde6e7"/>
<rect x="441.6" y="960.18" width="15.35" height="15.33" fill="#fdeff0"/>
<rect x="456.85" y="960.18" width="15.35" height="15.33" fill="#fbe9ea"/>
<rect x="472.1" y="960.18" width="15.35" height="15.33" fill="#f4c6c9"/>
<rect x="487.35" y="960.18" width="15.35" height="15.33" fill="#e57880"/>
<rect x="411.1" y="975.42" width="15.35" height="15.33" fill="#f9c6c8"/>
<rect x="426.35" y="975.42" width="15.35" height="15.33" fill="#fce5e6"/>
<rect x="441.6" y="975.42" width="15.35" height="15.33" fill="#fef9fa"/>
<rect x="456.85" y="975.42" width="15.35" height="15.33" fill="#fae2e4"/>
<rect x="472.1" y="975.42" width="15.35" height="15.33" fill="#f3bfc3"/>
<rect x="487.35" y="975.42" width="15.35" height="15.33" fill="#e5767f"/>
<rect x="411.1" y="990.65" width="15.35" height="15.33" fill="#facbcd"/>
<rect x="426.35" y="990.65" width="15.35" height="15.33" fill="#fdefef"/>
<rect x="441.6" y="990.65" width="15.35" height="15.33" fill="#f9e1e3"/>
<rect x="456.85" y="990.65" width="15.35" height="15.33" fill="#f6ced1"/>
<rect x="472.1" y="990.65" width="15.35" height="15.33" fill="#eda2a8"/>
<rect x="487.35" y="990.65" width="15.35" height="15.33" fill="#e1616b"/>
<rect x="411.1" y="1005.88" width="15.35" height="15.33" fill="#fbd2d3"/>
<rect x="426.35" y="1005.88" width="15.35" height="15.33" fill="#f9e1e3"/>
<rect x="441.6" y="1005.88" width="15.35" height="15.33" fill="#f0aeb3"/>
<rect x="456.85" y="1005.88" width="15.35" height="15.33" fill="#eb979d"/>
<rect x="472.1" y="1005.88" width="15.35" height="15.33" fill="#e57880"/>
<rect x="487.35" y="1005.88" width="15.35" height="15.33" fill="#dd4b56"/>
<rect x="411.1" y="1021.12" width="15.35" height="15.33" fill="#fcddde"/>
<rect x="426.35" y="1021.12" width="15.35" height="15.33" fill="#ec9ca3"/>
<rect x="441.6" y="1021.12" width="15.35" height="15.33" fill="#e98991"/>
<rect x="456.85" y="1021.12" width="15.35" height="15.33" fill="#f7d4d7"/>
<rect x="472.1" y="1021.12" width="15.35" height="15.33" fill="#e1636d"/>
<rect x="487.35" y="1021.12" width="15.35" height="15.33" fill="#d52230"/>
<text x="418.78" y="954.42" font-size="5.1" text-anchor="middle" fill="#2a2020" stroke="#2a2020" stroke-width="0.22">100.0</text>
<text x="434.03" y="954.42" font-size="5.1" text-anchor="middle" fill="#2a2020" stroke="#2a2020" stroke-width="0.22">68.3</text>
<text x="449.28" y="954.42" font-size="5.1" text-anchor="middle" fill="#2a2020" stroke="#2a2020" stroke-width="0.22">67.8</text>
<text x="464.53" y="954.42" font-size="5.1" text-anchor="middle" fill="#2a2020" stroke="#2a2020" stroke-width="0.22">59.6</text>
<text x="479.78" y="954.42" font-size="5.1" text-anchor="middle" fill="#2a2020" stroke="#2a2020" stroke-width="0.22">49.0</text>
<text x="495.03" y="954.42" font-size="5.1" text-anchor="middle" fill="#2a2020" stroke="#2a2020" stroke-width="0.22">34.8</text>
<text x="418.78" y="969.65" font-size="5.1" text-anchor="middle" fill="#2a2020" stroke="#2a2020" stroke-width="0.22">97.5</text>
<text x="434.03" y="969.65" font-size="5.1" text-anchor="middle" fill="#2a2020" stroke="#2a2020" stroke-width="0.22">67.8</text>
<text x="449.28" y="969.65" font-size="5.1" text-anchor="middle" fill="#2a2020" stroke="#2a2020" stroke-width="0.22">62.8</text>
<text x="464.53" y="969.65" font-size="5.1" text-anchor="middle" fill="#2a2020" stroke="#2a2020" stroke-width="0.22">55.0</text>
<text x="479.78" y="969.65" font-size="5.1" text-anchor="middle" fill="#2a2020" stroke="#2a2020" stroke-width="0.22">48.8</text>
<text x="495.03" y="969.65" font-size="5.1" text-anchor="middle" fill="#2a2020" stroke="#2a2020" stroke-width="0.22">34.0</text>
<text x="418.78" y="984.88" font-size="5.1" text-anchor="middle" fill="#2a2020" stroke="#2a2020" stroke-width="0.22">95.8</text>
<text x="434.03" y="984.88" font-size="5.1" text-anchor="middle" fill="#2a2020" stroke="#2a2020" stroke-width="0.22">68.2</text>
<text x="449.28" y="984.88" font-size="5.1" text-anchor="middle" fill="#2a2020" stroke="#2a2020" stroke-width="0.22">57.6</text>
<text x="464.53" y="984.88" font-size="5.1" text-anchor="middle" fill="#2a2020" stroke="#2a2020" stroke-width="0.22">53.9</text>
<text x="479.78" y="984.88" font-size="5.1" text-anchor="middle" fill="#2a2020" stroke="#2a2020" stroke-width="0.22">47.6</text>
<text x="495.03" y="984.88" font-size="5.1" text-anchor="middle" fill="#2a2020" stroke="#2a2020" stroke-width="0.22">33.7</text>
<text x="418.78" y="1000.12" font-size="5.1" text-anchor="middle" fill="#2a2020" stroke="#2a2020" stroke-width="0.22">89.8</text>
<text x="434.03" y="1000.12" font-size="5.1" text-anchor="middle" fill="#2a2020" stroke="#2a2020" stroke-width="0.22">62.9</text>
<text x="449.28" y="1000.12" font-size="5.1" text-anchor="middle" fill="#2a2020" stroke="#2a2020" stroke-width="0.22">53.7</text>
<text x="464.53" y="1000.12" font-size="5.1" text-anchor="middle" fill="#2a2020" stroke="#2a2020" stroke-width="0.22">50.3</text>
<text x="479.78" y="1000.12" font-size="5.1" text-anchor="middle" fill="#2a2020" stroke="#2a2020" stroke-width="0.22">42.1</text>
<text x="495.03" y="1000.12" font-size="5.1" text-anchor="middle" fill="#2a2020" stroke="#2a2020" stroke-width="0.22">29.5</text>
<text x="418.78" y="1015.35" font-size="5.1" text-anchor="middle" fill="#2a2020" stroke="#2a2020" stroke-width="0.22">83.9</text>
<text x="434.03" y="1015.35" font-size="5.1" text-anchor="middle" fill="#2a2020" stroke="#2a2020" stroke-width="0.22">53.6</text>
<text x="449.28" y="1015.35" font-size="5.1" text-anchor="middle" fill="#2a2020" stroke="#2a2020" stroke-width="0.22">44.5</text>
<text x="464.53" y="1015.35" font-size="5.1" text-anchor="middle" fill="#2a2020" stroke="#2a2020" stroke-width="0.22">40.0</text>
<text x="479.78" y="1015.35" font-size="5.1" text-anchor="middle" fill="#2a2020" stroke="#2a2020" stroke-width="0.22">34.0</text>
<text x="495.03" y="1015.35" font-size="5.1" text-anchor="middle" fill="#2a2020" stroke="#2a2020" stroke-width="0.22">25.1</text>
<text x="418.78" y="1030.58" font-size="5.1" text-anchor="middle" fill="#2a2020" stroke="#2a2020" stroke-width="0.22">74.0</text>
<text x="434.03" y="1030.58" font-size="5.1" text-anchor="middle" fill="#2a2020" stroke="#2a2020" stroke-width="0.22">41.1</text>
<text x="449.28" y="1030.58" font-size="5.1" text-anchor="middle" fill="#2a2020" stroke="#2a2020" stroke-width="0.22">37.4</text>
<text x="464.53" y="1030.58" font-size="5.1" text-anchor="middle" fill="#2a2020" stroke="#2a2020" stroke-width="0.22">51.4</text>
<text x="479.78" y="1030.58" font-size="5.1" text-anchor="middle" fill="#2a2020" stroke="#2a2020" stroke-width="0.22">29.9</text>
<text x="495.03" y="1030.58" font-size="5.1" text-anchor="middle" fill="#2a2020" stroke="#2a2020" stroke-width="0.22">16.8</text>
<rect x="411.15" y="945" width="91.5" height="91.4" fill="none" stroke="#1e1e1e" stroke-width="0.85" rx="0.8"/>
<rect x="426.35" y="1058.18" width="15.35" height="15.33" fill="#de7980"/>
<rect x="441.6" y="1058.18" width="15.35" height="15.33" fill="#d75f68"/>
<rect x="456.85" y="1058.18" width="15.35" height="15.33" fill="#e1858c"/>
<rect x="472.1" y="1058.18" width="15.35" height="15.33" fill="#eebabe"/>
<rect x="487.35" y="1058.18" width="15.35" height="15.33" fill="#fbeeef"/>
<rect x="426.35" y="1073.42" width="15.35" height="15.33" fill="#e0848b"/>
<rect x="441.6" y="1073.42" width="15.35" height="15.33" fill="#d9656d"/>
<rect x="456.85" y="1073.42" width="15.35" height="15.33" fill="#e1888e"/>
<rect x="472.1" y="1073.42" width="15.35" height="15.33" fill="#f0c4c7"/>
<rect x="426.35" y="1088.65" width="15.35" height="15.33" fill="#e39096"/>
<rect x="441.6" y="1088.65" width="15.35" height="15.33" fill="#d86069"/>
<rect x="456.85" y="1088.65" width="15.35" height="15.33" fill="#dd767d"/>
<rect x="472.1" y="1088.65" width="15.35" height="15.33" fill="#ebb0b4"/>
<rect x="487.35" y="1088.65" width="15.35" height="15.33" fill="#faeced"/>
<rect x="426.35" y="1103.88" width="15.35" height="15.33" fill="#d24c55"/>
<rect x="441.6" y="1103.88" width="15.35" height="15.33" fill="#c71e2a"/>
<rect x="456.85" y="1103.88" width="15.35" height="15.33" fill="#d65b63"/>
<rect x="472.1" y="1103.88" width="15.35" height="15.33" fill="#d5565f"/>
<rect x="487.35" y="1103.88" width="15.35" height="15.33" fill="#edb7bb"/>
<rect x="426.35" y="1119.12" width="15.35" height="15.33" fill="#ce3943"/>
<rect x="441.6" y="1119.12" width="15.35" height="15.33" fill="#cd3741"/>
<rect x="456.85" y="1119.12" width="15.35" height="15.33" fill="#ecb1b5"/>
<rect x="472.1" y="1119.12" width="15.35" height="15.33" fill="#e79fa4"/>
<rect x="487.35" y="1119.12" width="15.35" height="15.33" fill="#da6c74"/>
<text x="418.78" y="1052.42" font-size="5.1" text-anchor="middle" fill="#2a2020" stroke="#2a2020" stroke-width="0.22">0</text>
<text x="434.03" y="1052.42" font-size="5.1" text-anchor="middle" fill="#2a2020" stroke="#2a2020" stroke-width="0.22">0</text>
<text x="449.28" y="1052.42" font-size="5.1" text-anchor="middle" fill="#2a2020" stroke="#2a2020" stroke-width="0.22">0</text>
<text x="464.53" y="1052.42" font-size="5.1" text-anchor="middle" fill="#2a2020" stroke="#2a2020" stroke-width="0.22">0</text>
<text x="479.78" y="1052.42" font-size="5.1" text-anchor="middle" fill="#2a2020" stroke="#2a2020" stroke-width="0.22">0</text>
<text x="495.03" y="1052.42" font-size="5.1" text-anchor="middle" fill="#2a2020" stroke="#2a2020" stroke-width="0.22">0</text>
<text x="418.78" y="1067.65" font-size="5.1" text-anchor="middle" fill="#2a2020" stroke="#2a2020" stroke-width="0.22">0</text>
<text x="434.03" y="1067.65" font-size="5.1" text-anchor="middle" fill="#2a2020" stroke="#2a2020" stroke-width="0.22">14.7</text>
<text x="449.28" y="1067.65" font-size="5.1" text-anchor="middle" fill="#2a2020" stroke="#2a2020" stroke-width="0.22">16.8</text>
<text x="464.53" y="1067.65" font-size="5.1" text-anchor="middle" fill="#2a2020" stroke="#2a2020" stroke-width="0.22">13.7</text>
<text x="479.78" y="1067.65" font-size="5.1" text-anchor="middle" fill="#2a2020" stroke="#2a2020" stroke-width="0.22">9.9</text>
<text x="495.03" y="1067.65" font-size="5.1" text-anchor="middle" fill="#2a2020" stroke="#2a2020" stroke-width="0.22">7.1</text>
<text x="418.78" y="1082.88" font-size="5.1" text-anchor="middle" fill="#2a2020" stroke="#2a2020" stroke-width="0.22">0</text>
<text x="434.03" y="1082.88" font-size="5.1" text-anchor="middle" fill="#2a2020" stroke="#2a2020" stroke-width="0.22">13.8</text>
<text x="449.28" y="1082.88" font-size="5.1" text-anchor="middle" fill="#2a2020" stroke="#2a2020" stroke-width="0.22">16.3</text>
<text x="464.53" y="1082.88" font-size="5.1" text-anchor="middle" fill="#2a2020" stroke="#2a2020" stroke-width="0.22">13.5</text>
<text x="479.78" y="1082.88" font-size="5.1" text-anchor="middle" fill="#2a2020" stroke="#2a2020" stroke-width="0.22">9.3</text>
<text x="495.03" y="1082.88" font-size="5.1" text-anchor="middle" fill="#2a2020" stroke="#2a2020" stroke-width="0.22">6.2</text>
<text x="418.78" y="1098.12" font-size="5.1" text-anchor="middle" fill="#2a2020" stroke="#2a2020" stroke-width="0.22">0</text>
<text x="434.03" y="1098.12" font-size="5.1" text-anchor="middle" fill="#2a2020" stroke="#2a2020" stroke-width="0.22">12.9</text>
<text x="449.28" y="1098.12" font-size="5.1" text-anchor="middle" fill="#2a2020" stroke="#2a2020" stroke-width="0.22">16.7</text>
<text x="464.53" y="1098.12" font-size="5.1" text-anchor="middle" fill="#2a2020" stroke="#2a2020" stroke-width="0.22">14.9</text>
<text x="479.78" y="1098.12" font-size="5.1" text-anchor="middle" fill="#2a2020" stroke="#2a2020" stroke-width="0.22">10.6</text>
<text x="495.03" y="1098.12" font-size="5.1" text-anchor="middle" fill="#2a2020" stroke="#2a2020" stroke-width="0.22">7.2</text>
<text x="418.78" y="1113.35" font-size="5.1" text-anchor="middle" fill="#2a2020" stroke="#2a2020" stroke-width="0.22">0</text>
<text x="434.03" y="1113.35" font-size="5.1" text-anchor="middle" fill="#2a2020" stroke="#2a2020" stroke-width="0.22">18.5</text>
<text x="449.28" y="1113.35" font-size="5.1" text-anchor="middle" fill="#2a2020" stroke="#2a2020" stroke-width="0.22">22.7</text>
<text x="464.53" y="1113.35" font-size="5.1" text-anchor="middle" fill="#2a2020" stroke="#2a2020" stroke-width="0.22">17.2</text>
<text x="479.78" y="1113.35" font-size="5.1" text-anchor="middle" fill="#2a2020" stroke="#2a2020" stroke-width="0.22">17.6</text>
<text x="495.03" y="1113.35" font-size="5.1" text-anchor="middle" fill="#2a2020" stroke="#2a2020" stroke-width="0.22">10.1</text>
<text x="418.78" y="1128.58" font-size="5.1" text-anchor="middle" fill="#2a2020" stroke="#2a2020" stroke-width="0.22">0</text>
<text x="434.03" y="1128.58" font-size="5.1" text-anchor="middle" fill="#2a2020" stroke="#2a2020" stroke-width="0.22">20.2</text>
<text x="449.28" y="1128.58" font-size="5.1" text-anchor="middle" fill="#2a2020" stroke="#2a2020" stroke-width="0.22">20.4</text>
<text x="464.53" y="1128.58" font-size="5.1" text-anchor="middle" fill="#2a2020" stroke="#2a2020" stroke-width="0.22">10.5</text>
<text x="479.78" y="1128.58" font-size="5.1" text-anchor="middle" fill="#2a2020" stroke="#2a2020" stroke-width="0.22">11.8</text>
<text x="495.03" y="1128.58" font-size="5.1" text-anchor="middle" fill="#2a2020" stroke="#2a2020" stroke-width="0.22">15.7</text>
<rect x="411.15" y="1043" width="91.5" height="91.4" fill="none" stroke="#1e1e1e" stroke-width="0.85" rx="0.8"/>
<text x="23.2" y="955.62" font-size="8.3" text-anchor="end" stroke="#1c1c1c" stroke-width="0.22">0</text>
<line x1="25" y1="952.62" x2="30.35" y2="952.62" stroke="#2a2a2a" stroke-width="0.85"/>
<text x="23.2" y="970.85" font-size="8.3" text-anchor="end" stroke="#1c1c1c" stroke-width="0.22">0.1</text>
<line x1="25" y1="967.85" x2="30.35" y2="967.85" stroke="#2a2a2a" stroke-width="0.85"/>
<text x="23.2" y="986.08" font-size="8.3" text-anchor="end" stroke="#1c1c1c" stroke-width="0.22">0.3</text>
<line x1="25" y1="983.08" x2="30.35" y2="983.08" stroke="#2a2a2a" stroke-width="0.85"/>
<text x="23.2" y="1001.32" font-size="8.3" text-anchor="end" stroke="#1c1c1c" stroke-width="0.22">1</text>
<line x1="25" y1="998.32" x2="30.35" y2="998.32" stroke="#2a2a2a" stroke-width="0.85"/>
<text x="23.2" y="1016.55" font-size="8.3" text-anchor="end" stroke="#1c1c1c" stroke-width="0.22">3</text>
<line x1="25" y1="1013.55" x2="30.35" y2="1013.55" stroke="#2a2a2a" stroke-width="0.85"/>
<text x="23.2" y="1031.78" font-size="8.3" text-anchor="end" stroke="#1c1c1c" stroke-width="0.22">10</text>
<line x1="25" y1="1028.78" x2="30.35" y2="1028.78" stroke="#2a2a2a" stroke-width="0.85"/>
<text x="23.2" y="1053.62" font-size="8.3" text-anchor="end" stroke="#1c1c1c" stroke-width="0.22">0</text>
<line x1="25" y1="1050.62" x2="30.35" y2="1050.62" stroke="#2a2a2a" stroke-width="0.85"/>
<text x="23.2" y="1068.85" font-size="8.3" text-anchor="end" stroke="#1c1c1c" stroke-width="0.22">0.1</text>
<line x1="25" y1="1065.85" x2="30.35" y2="1065.85" stroke="#2a2a2a" stroke-width="0.85"/>
<text x="23.2" y="1084.08" font-size="8.3" text-anchor="end" stroke="#1c1c1c" stroke-width="0.22">0.3</text>
<line x1="25" y1="1081.08" x2="30.35" y2="1081.08" stroke="#2a2a2a" stroke-width="0.85"/>
<text x="23.2" y="1099.32" font-size="8.3" text-anchor="end" stroke="#1c1c1c" stroke-width="0.22">1</text>
<line x1="25" y1="1096.32" x2="30.35" y2="1096.32" stroke="#2a2a2a" stroke-width="0.85"/>
<text x="23.2" y="1114.55" font-size="8.3" text-anchor="end" stroke="#1c1c1c" stroke-width="0.22">3</text>
<line x1="25" y1="1111.55" x2="30.35" y2="1111.55" stroke="#2a2a2a" stroke-width="0.85"/>
<text x="23.2" y="1129.78" font-size="8.3" text-anchor="end" stroke="#1c1c1c" stroke-width="0.22">10</text>
<line x1="25" y1="1126.78" x2="30.35" y2="1126.78" stroke="#2a2a2a" stroke-width="0.85"/>
<text x="7.4" y="991.5" font-size="8.55" text-anchor="middle" transform="rotate(-90 7.4 991.5)" stroke="#1c1c1c" stroke-width="0.22">MF-438 (µmol/L)</text>
<text x="7.4" y="1089.6" font-size="8.55" text-anchor="middle" transform="rotate(-90 7.4 1089.6)" stroke="#1c1c1c" stroke-width="0.22">MF-438 (µmol/L)</text>
<text x="507.2" y="990.2" font-size="8.6" text-anchor="middle" transform="rotate(90 507.2 990.2)" stroke="#1c1c1c" stroke-width="0.22">Viability (ratio to untreated)</text>
<text x="507.2" y="1090" font-size="8.6" text-anchor="middle" transform="rotate(90 507.2 1090)" stroke="#1c1c1c" stroke-width="0.22">ZIP synergy score</text>
</svg>
</body></html>
